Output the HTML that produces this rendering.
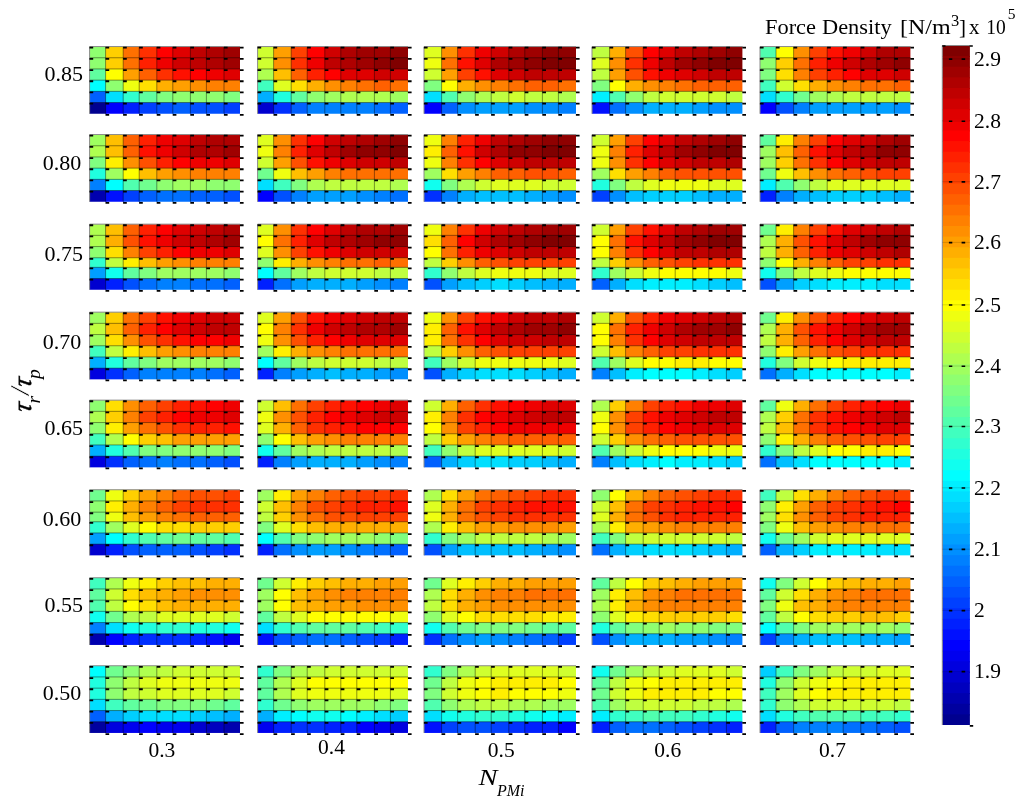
<!DOCTYPE html>
<html lang="en"><head><meta charset="utf-8"><title>Force Density</title>
<style>html,body{margin:0;padding:0;background:#fff}svg{display:block}text{font-family:"Liberation Serif",serif;fill:#000}.g{stroke:#000;stroke-opacity:.42;stroke-width:1;fill:none}.b{stroke:#8a8a8a;stroke-width:1;fill:none}.t{fill:#000}</style></head><body>
<svg width="1024" height="805" viewBox="0 0 1024 805">
<rect width="1024" height="805" fill="#fff"/>
<g>
<rect x="89.6" y="46.55" width="17" height="12.2" fill="#8fff70"/>
<rect x="105.6" y="46.55" width="18.6" height="12.2" fill="#ffcf00"/>
<rect x="123.2" y="46.55" width="17" height="12.2" fill="#ff7000"/>
<rect x="139.2" y="46.55" width="18.6" height="12.2" fill="#ff3000"/>
<rect x="156.8" y="46.55" width="17" height="12.2" fill="#ff0000"/>
<rect x="172.8" y="46.55" width="18.6" height="12.2" fill="#df0000"/>
<rect x="190.4" y="46.55" width="17" height="12.2" fill="#bf0000"/>
<rect x="206.4" y="46.55" width="18.6" height="12.2" fill="#af0000"/>
<rect x="224" y="46.55" width="16" height="12.2" fill="#9f0000"/>
<rect x="89.6" y="57.75" width="17" height="12.2" fill="#8fff70"/>
<rect x="105.6" y="57.75" width="18.6" height="12.2" fill="#ffcf00"/>
<rect x="123.2" y="57.75" width="17" height="12.2" fill="#ff7000"/>
<rect x="139.2" y="57.75" width="18.6" height="12.2" fill="#ff2000"/>
<rect x="156.8" y="57.75" width="17" height="12.2" fill="#ef0000"/>
<rect x="172.8" y="57.75" width="18.6" height="12.2" fill="#cf0000"/>
<rect x="190.4" y="57.75" width="17" height="12.2" fill="#bf0000"/>
<rect x="206.4" y="57.75" width="18.6" height="12.2" fill="#af0000"/>
<rect x="224" y="57.75" width="16" height="12.2" fill="#9f0000"/>
<rect x="89.6" y="68.95" width="17" height="12.2" fill="#60ff9f"/>
<rect x="105.6" y="68.95" width="18.6" height="12.2" fill="#ffff00"/>
<rect x="123.2" y="68.95" width="17" height="12.2" fill="#ff9f00"/>
<rect x="139.2" y="68.95" width="18.6" height="12.2" fill="#ff6000"/>
<rect x="156.8" y="68.95" width="17" height="12.2" fill="#ff3000"/>
<rect x="172.8" y="68.95" width="18.6" height="12.2" fill="#ff1000"/>
<rect x="190.4" y="68.95" width="17" height="12.2" fill="#ff0000"/>
<rect x="206.4" y="68.95" width="18.6" height="12.2" fill="#ef0000"/>
<rect x="224" y="68.95" width="16" height="12.2" fill="#df0000"/>
<rect x="89.6" y="80.15" width="17" height="12.2" fill="#00ffff"/>
<rect x="105.6" y="80.15" width="18.6" height="12.2" fill="#8fff70"/>
<rect x="123.2" y="80.15" width="17" height="12.2" fill="#efff10"/>
<rect x="139.2" y="80.15" width="18.6" height="12.2" fill="#ffdf00"/>
<rect x="156.8" y="80.15" width="17" height="12.2" fill="#ffaf00"/>
<rect x="172.8" y="80.15" width="18.6" height="12.2" fill="#ff9f00"/>
<rect x="190.4" y="80.15" width="17" height="12.2" fill="#ff8f00"/>
<rect x="206.4" y="80.15" width="18.6" height="12.2" fill="#ff8000"/>
<rect x="224" y="80.15" width="16" height="12.2" fill="#ff8000"/>
<rect x="89.6" y="91.35" width="17" height="12.2" fill="#0060ff"/>
<rect x="105.6" y="91.35" width="18.6" height="12.2" fill="#00dfff"/>
<rect x="123.2" y="91.35" width="17" height="12.2" fill="#30ffcf"/>
<rect x="139.2" y="91.35" width="18.6" height="12.2" fill="#60ff9f"/>
<rect x="156.8" y="91.35" width="17" height="12.2" fill="#80ff80"/>
<rect x="172.8" y="91.35" width="18.6" height="12.2" fill="#8fff70"/>
<rect x="190.4" y="91.35" width="17" height="12.2" fill="#8fff70"/>
<rect x="206.4" y="91.35" width="18.6" height="12.2" fill="#8fff70"/>
<rect x="224" y="91.35" width="16" height="12.2" fill="#80ff80"/>
<rect x="89.6" y="102.55" width="17" height="11.2" fill="#00008f"/>
<rect x="105.6" y="102.55" width="18.6" height="11.2" fill="#0000ff"/>
<rect x="123.2" y="102.55" width="17" height="11.2" fill="#0020ff"/>
<rect x="139.2" y="102.55" width="18.6" height="11.2" fill="#0040ff"/>
<rect x="156.8" y="102.55" width="17" height="11.2" fill="#0050ff"/>
<rect x="172.8" y="102.55" width="18.6" height="11.2" fill="#0060ff"/>
<rect x="190.4" y="102.55" width="17" height="11.2" fill="#0050ff"/>
<rect x="206.4" y="102.55" width="18.6" height="11.2" fill="#0050ff"/>
<rect x="224" y="102.55" width="16" height="11.2" fill="#0040ff"/>
<path class="g" d="M105.6 46.55V113.75M123.2 46.55V113.75M139.2 46.55V113.75M156.8 46.55V113.75M172.8 46.55V113.75M190.4 46.55V113.75M206.4 46.55V113.75M224 46.55V113.75M89.6 57.75H240M89.6 68.95H240M89.6 80.15H240M89.6 91.35H240M89.6 102.55H240"/>
<path class="b" d="M89.6 113.75V46.55H240"/>
<path class="t" d="M89.5 46.75h3.7v1.8h-3.7zM105.5 46.75h3.7v1.8h-3.7zM123.1 46.75h3.7v1.8h-3.7zM139.1 46.75h3.7v1.8h-3.7zM156.7 46.75h3.7v1.8h-3.7zM172.7 46.75h3.7v1.8h-3.7zM190.3 46.75h3.7v1.8h-3.7zM206.3 46.75h3.7v1.8h-3.7zM223.9 46.75h3.7v1.8h-3.7zM239.9 46.75h3.7v1.8h-3.7zM89.5 57.95h3.7v1.8h-3.7zM105.5 57.95h3.7v1.8h-3.7zM123.1 57.95h3.7v1.8h-3.7zM139.1 57.95h3.7v1.8h-3.7zM156.7 57.95h3.7v1.8h-3.7zM172.7 57.95h3.7v1.8h-3.7zM190.3 57.95h3.7v1.8h-3.7zM206.3 57.95h3.7v1.8h-3.7zM223.9 57.95h3.7v1.8h-3.7zM239.9 57.95h3.7v1.8h-3.7zM89.5 69.15h3.7v1.8h-3.7zM105.5 69.15h3.7v1.8h-3.7zM123.1 69.15h3.7v1.8h-3.7zM139.1 69.15h3.7v1.8h-3.7zM156.7 69.15h3.7v1.8h-3.7zM172.7 69.15h3.7v1.8h-3.7zM190.3 69.15h3.7v1.8h-3.7zM206.3 69.15h3.7v1.8h-3.7zM223.9 69.15h3.7v1.8h-3.7zM239.9 69.15h3.7v1.8h-3.7zM89.5 80.35h3.7v1.8h-3.7zM105.5 80.35h3.7v1.8h-3.7zM123.1 80.35h3.7v1.8h-3.7zM139.1 80.35h3.7v1.8h-3.7zM156.7 80.35h3.7v1.8h-3.7zM172.7 80.35h3.7v1.8h-3.7zM190.3 80.35h3.7v1.8h-3.7zM206.3 80.35h3.7v1.8h-3.7zM223.9 80.35h3.7v1.8h-3.7zM239.9 80.35h3.7v1.8h-3.7zM89.5 91.55h3.7v1.8h-3.7zM105.5 91.55h3.7v1.8h-3.7zM123.1 91.55h3.7v1.8h-3.7zM139.1 91.55h3.7v1.8h-3.7zM156.7 91.55h3.7v1.8h-3.7zM172.7 91.55h3.7v1.8h-3.7zM190.3 91.55h3.7v1.8h-3.7zM206.3 91.55h3.7v1.8h-3.7zM223.9 91.55h3.7v1.8h-3.7zM239.9 91.55h3.7v1.8h-3.7zM89.5 102.75h3.7v1.8h-3.7zM105.5 102.75h3.7v1.8h-3.7zM123.1 102.75h3.7v1.8h-3.7zM139.1 102.75h3.7v1.8h-3.7zM156.7 102.75h3.7v1.8h-3.7zM172.7 102.75h3.7v1.8h-3.7zM190.3 102.75h3.7v1.8h-3.7zM206.3 102.75h3.7v1.8h-3.7zM223.9 102.75h3.7v1.8h-3.7zM239.9 102.75h3.7v1.8h-3.7zM105.5 113.95h3.7v1.8h-3.7zM123.1 113.95h3.7v1.8h-3.7zM139.1 113.95h3.7v1.8h-3.7zM156.7 113.95h3.7v1.8h-3.7zM172.7 113.95h3.7v1.8h-3.7zM190.3 113.95h3.7v1.8h-3.7zM206.3 113.95h3.7v1.8h-3.7zM223.9 113.95h3.7v1.8h-3.7zM239.9 113.95h3.7v1.8h-3.7z"/>
</g>
<g>
<rect x="257.6" y="46.55" width="17" height="12.2" fill="#cfff30"/>
<rect x="273.6" y="46.55" width="18.6" height="12.2" fill="#ff9f00"/>
<rect x="291.2" y="46.55" width="17" height="12.2" fill="#ff4000"/>
<rect x="307.2" y="46.55" width="18.6" height="12.2" fill="#ff0000"/>
<rect x="324.8" y="46.55" width="17" height="12.2" fill="#cf0000"/>
<rect x="340.8" y="46.55" width="17" height="12.2" fill="#af0000"/>
<rect x="356.8" y="46.55" width="18.6" height="12.2" fill="#9f0000"/>
<rect x="374.4" y="46.55" width="17" height="12.2" fill="#9f0000"/>
<rect x="390.4" y="46.55" width="17.6" height="12.2" fill="#8f0000"/>
<rect x="257.6" y="57.75" width="17" height="12.2" fill="#cfff30"/>
<rect x="273.6" y="57.75" width="18.6" height="12.2" fill="#ff8f00"/>
<rect x="291.2" y="57.75" width="17" height="12.2" fill="#ff3000"/>
<rect x="307.2" y="57.75" width="18.6" height="12.2" fill="#ef0000"/>
<rect x="324.8" y="57.75" width="17" height="12.2" fill="#bf0000"/>
<rect x="340.8" y="57.75" width="17" height="12.2" fill="#af0000"/>
<rect x="356.8" y="57.75" width="18.6" height="12.2" fill="#9f0000"/>
<rect x="374.4" y="57.75" width="17" height="12.2" fill="#8f0000"/>
<rect x="390.4" y="57.75" width="17.6" height="12.2" fill="#800000"/>
<rect x="257.6" y="68.95" width="17" height="12.2" fill="#afff50"/>
<rect x="273.6" y="68.95" width="18.6" height="12.2" fill="#ffbf00"/>
<rect x="291.2" y="68.95" width="17" height="12.2" fill="#ff6000"/>
<rect x="307.2" y="68.95" width="18.6" height="12.2" fill="#ff2000"/>
<rect x="324.8" y="68.95" width="17" height="12.2" fill="#ff0000"/>
<rect x="340.8" y="68.95" width="17" height="12.2" fill="#df0000"/>
<rect x="356.8" y="68.95" width="18.6" height="12.2" fill="#df0000"/>
<rect x="374.4" y="68.95" width="17" height="12.2" fill="#cf0000"/>
<rect x="390.4" y="68.95" width="17.6" height="12.2" fill="#cf0000"/>
<rect x="257.6" y="80.15" width="17" height="12.2" fill="#40ffbf"/>
<rect x="273.6" y="80.15" width="18.6" height="12.2" fill="#dfff20"/>
<rect x="291.2" y="80.15" width="17" height="12.2" fill="#ffdf00"/>
<rect x="307.2" y="80.15" width="18.6" height="12.2" fill="#ffaf00"/>
<rect x="324.8" y="80.15" width="17" height="12.2" fill="#ff8f00"/>
<rect x="340.8" y="80.15" width="17" height="12.2" fill="#ff8000"/>
<rect x="356.8" y="80.15" width="18.6" height="12.2" fill="#ff7000"/>
<rect x="374.4" y="80.15" width="17" height="12.2" fill="#ff6000"/>
<rect x="390.4" y="80.15" width="17.6" height="12.2" fill="#ff7000"/>
<rect x="257.6" y="91.35" width="17" height="12.2" fill="#00afff"/>
<rect x="273.6" y="91.35" width="18.6" height="12.2" fill="#20ffdf"/>
<rect x="291.2" y="91.35" width="17" height="12.2" fill="#60ff9f"/>
<rect x="307.2" y="91.35" width="18.6" height="12.2" fill="#8fff70"/>
<rect x="324.8" y="91.35" width="17" height="12.2" fill="#9fff60"/>
<rect x="340.8" y="91.35" width="17" height="12.2" fill="#afff50"/>
<rect x="356.8" y="91.35" width="18.6" height="12.2" fill="#afff50"/>
<rect x="374.4" y="91.35" width="17" height="12.2" fill="#afff50"/>
<rect x="390.4" y="91.35" width="17.6" height="12.2" fill="#9fff60"/>
<rect x="257.6" y="102.55" width="17" height="11.2" fill="#0000cf"/>
<rect x="273.6" y="102.55" width="18.6" height="11.2" fill="#0030ff"/>
<rect x="291.2" y="102.55" width="17" height="11.2" fill="#0060ff"/>
<rect x="307.2" y="102.55" width="18.6" height="11.2" fill="#0080ff"/>
<rect x="324.8" y="102.55" width="17" height="11.2" fill="#0080ff"/>
<rect x="340.8" y="102.55" width="17" height="11.2" fill="#0080ff"/>
<rect x="356.8" y="102.55" width="18.6" height="11.2" fill="#0080ff"/>
<rect x="374.4" y="102.55" width="17" height="11.2" fill="#0070ff"/>
<rect x="390.4" y="102.55" width="17.6" height="11.2" fill="#0060ff"/>
<path class="g" d="M273.6 46.55V113.75M291.2 46.55V113.75M307.2 46.55V113.75M324.8 46.55V113.75M340.8 46.55V113.75M356.8 46.55V113.75M374.4 46.55V113.75M390.4 46.55V113.75M257.6 57.75H408M257.6 68.95H408M257.6 80.15H408M257.6 91.35H408M257.6 102.55H408"/>
<path class="b" d="M257.6 113.75V46.55H408"/>
<path class="t" d="M257.5 46.75h3.7v1.8h-3.7zM273.5 46.75h3.7v1.8h-3.7zM291.1 46.75h3.7v1.8h-3.7zM307.1 46.75h3.7v1.8h-3.7zM324.7 46.75h3.7v1.8h-3.7zM340.7 46.75h3.7v1.8h-3.7zM356.7 46.75h3.7v1.8h-3.7zM374.3 46.75h3.7v1.8h-3.7zM390.3 46.75h3.7v1.8h-3.7zM407.9 46.75h3.7v1.8h-3.7zM257.5 57.95h3.7v1.8h-3.7zM273.5 57.95h3.7v1.8h-3.7zM291.1 57.95h3.7v1.8h-3.7zM307.1 57.95h3.7v1.8h-3.7zM324.7 57.95h3.7v1.8h-3.7zM340.7 57.95h3.7v1.8h-3.7zM356.7 57.95h3.7v1.8h-3.7zM374.3 57.95h3.7v1.8h-3.7zM390.3 57.95h3.7v1.8h-3.7zM407.9 57.95h3.7v1.8h-3.7zM257.5 69.15h3.7v1.8h-3.7zM273.5 69.15h3.7v1.8h-3.7zM291.1 69.15h3.7v1.8h-3.7zM307.1 69.15h3.7v1.8h-3.7zM324.7 69.15h3.7v1.8h-3.7zM340.7 69.15h3.7v1.8h-3.7zM356.7 69.15h3.7v1.8h-3.7zM374.3 69.15h3.7v1.8h-3.7zM390.3 69.15h3.7v1.8h-3.7zM407.9 69.15h3.7v1.8h-3.7zM257.5 80.35h3.7v1.8h-3.7zM273.5 80.35h3.7v1.8h-3.7zM291.1 80.35h3.7v1.8h-3.7zM307.1 80.35h3.7v1.8h-3.7zM324.7 80.35h3.7v1.8h-3.7zM340.7 80.35h3.7v1.8h-3.7zM356.7 80.35h3.7v1.8h-3.7zM374.3 80.35h3.7v1.8h-3.7zM390.3 80.35h3.7v1.8h-3.7zM407.9 80.35h3.7v1.8h-3.7zM257.5 91.55h3.7v1.8h-3.7zM273.5 91.55h3.7v1.8h-3.7zM291.1 91.55h3.7v1.8h-3.7zM307.1 91.55h3.7v1.8h-3.7zM324.7 91.55h3.7v1.8h-3.7zM340.7 91.55h3.7v1.8h-3.7zM356.7 91.55h3.7v1.8h-3.7zM374.3 91.55h3.7v1.8h-3.7zM390.3 91.55h3.7v1.8h-3.7zM407.9 91.55h3.7v1.8h-3.7zM257.5 102.75h3.7v1.8h-3.7zM273.5 102.75h3.7v1.8h-3.7zM291.1 102.75h3.7v1.8h-3.7zM307.1 102.75h3.7v1.8h-3.7zM324.7 102.75h3.7v1.8h-3.7zM340.7 102.75h3.7v1.8h-3.7zM356.7 102.75h3.7v1.8h-3.7zM374.3 102.75h3.7v1.8h-3.7zM390.3 102.75h3.7v1.8h-3.7zM407.9 102.75h3.7v1.8h-3.7zM273.5 113.95h3.7v1.8h-3.7zM291.1 113.95h3.7v1.8h-3.7zM307.1 113.95h3.7v1.8h-3.7zM324.7 113.95h3.7v1.8h-3.7zM340.7 113.95h3.7v1.8h-3.7zM356.7 113.95h3.7v1.8h-3.7zM374.3 113.95h3.7v1.8h-3.7zM390.3 113.95h3.7v1.8h-3.7zM407.9 113.95h3.7v1.8h-3.7z"/>
</g>
<g>
<rect x="424" y="46.55" width="18.6" height="12.2" fill="#dfff20"/>
<rect x="441.6" y="46.55" width="17" height="12.2" fill="#ff8f00"/>
<rect x="457.6" y="46.55" width="18.6" height="12.2" fill="#ff3000"/>
<rect x="475.2" y="46.55" width="17" height="12.2" fill="#ef0000"/>
<rect x="491.2" y="46.55" width="18.6" height="12.2" fill="#cf0000"/>
<rect x="508.8" y="46.55" width="17" height="12.2" fill="#af0000"/>
<rect x="524.8" y="46.55" width="18.6" height="12.2" fill="#9f0000"/>
<rect x="542.4" y="46.55" width="17" height="12.2" fill="#8f0000"/>
<rect x="558.4" y="46.55" width="17.6" height="12.2" fill="#8f0000"/>
<rect x="424" y="57.75" width="18.6" height="12.2" fill="#efff10"/>
<rect x="441.6" y="57.75" width="17" height="12.2" fill="#ff7000"/>
<rect x="457.6" y="57.75" width="18.6" height="12.2" fill="#ff1000"/>
<rect x="475.2" y="57.75" width="17" height="12.2" fill="#df0000"/>
<rect x="491.2" y="57.75" width="18.6" height="12.2" fill="#af0000"/>
<rect x="508.8" y="57.75" width="17" height="12.2" fill="#9f0000"/>
<rect x="524.8" y="57.75" width="18.6" height="12.2" fill="#8f0000"/>
<rect x="542.4" y="57.75" width="17" height="12.2" fill="#800000"/>
<rect x="558.4" y="57.75" width="17.6" height="12.2" fill="#800000"/>
<rect x="424" y="68.95" width="18.6" height="12.2" fill="#cfff30"/>
<rect x="441.6" y="68.95" width="17" height="12.2" fill="#ff9f00"/>
<rect x="457.6" y="68.95" width="18.6" height="12.2" fill="#ff4000"/>
<rect x="475.2" y="68.95" width="17" height="12.2" fill="#ff1000"/>
<rect x="491.2" y="68.95" width="18.6" height="12.2" fill="#df0000"/>
<rect x="508.8" y="68.95" width="17" height="12.2" fill="#cf0000"/>
<rect x="524.8" y="68.95" width="18.6" height="12.2" fill="#bf0000"/>
<rect x="542.4" y="68.95" width="17" height="12.2" fill="#bf0000"/>
<rect x="558.4" y="68.95" width="17.6" height="12.2" fill="#bf0000"/>
<rect x="424" y="80.15" width="18.6" height="12.2" fill="#80ff80"/>
<rect x="441.6" y="80.15" width="17" height="12.2" fill="#ffff00"/>
<rect x="457.6" y="80.15" width="18.6" height="12.2" fill="#ffaf00"/>
<rect x="475.2" y="80.15" width="17" height="12.2" fill="#ff8f00"/>
<rect x="491.2" y="80.15" width="18.6" height="12.2" fill="#ff8000"/>
<rect x="508.8" y="80.15" width="17" height="12.2" fill="#ff7000"/>
<rect x="524.8" y="80.15" width="18.6" height="12.2" fill="#ff6000"/>
<rect x="542.4" y="80.15" width="17" height="12.2" fill="#ff6000"/>
<rect x="558.4" y="80.15" width="17.6" height="12.2" fill="#ff7000"/>
<rect x="424" y="91.35" width="18.6" height="12.2" fill="#00dfff"/>
<rect x="441.6" y="91.35" width="17" height="12.2" fill="#50ffaf"/>
<rect x="457.6" y="91.35" width="18.6" height="12.2" fill="#8fff70"/>
<rect x="475.2" y="91.35" width="17" height="12.2" fill="#afff50"/>
<rect x="491.2" y="91.35" width="18.6" height="12.2" fill="#bfff40"/>
<rect x="508.8" y="91.35" width="17" height="12.2" fill="#cfff30"/>
<rect x="524.8" y="91.35" width="18.6" height="12.2" fill="#bfff40"/>
<rect x="542.4" y="91.35" width="17" height="12.2" fill="#bfff40"/>
<rect x="558.4" y="91.35" width="17.6" height="12.2" fill="#afff50"/>
<rect x="424" y="102.55" width="18.6" height="11.2" fill="#0000ff"/>
<rect x="441.6" y="102.55" width="17" height="11.2" fill="#0060ff"/>
<rect x="457.6" y="102.55" width="18.6" height="11.2" fill="#008fff"/>
<rect x="475.2" y="102.55" width="17" height="11.2" fill="#009fff"/>
<rect x="491.2" y="102.55" width="18.6" height="11.2" fill="#009fff"/>
<rect x="508.8" y="102.55" width="17" height="11.2" fill="#009fff"/>
<rect x="524.8" y="102.55" width="18.6" height="11.2" fill="#008fff"/>
<rect x="542.4" y="102.55" width="17" height="11.2" fill="#008fff"/>
<rect x="558.4" y="102.55" width="17.6" height="11.2" fill="#0080ff"/>
<path class="g" d="M441.6 46.55V113.75M457.6 46.55V113.75M475.2 46.55V113.75M491.2 46.55V113.75M508.8 46.55V113.75M524.8 46.55V113.75M542.4 46.55V113.75M558.4 46.55V113.75M424 57.75H576M424 68.95H576M424 80.15H576M424 91.35H576M424 102.55H576"/>
<path class="b" d="M424 113.75V46.55H576"/>
<path class="t" d="M423.9 46.75h3.7v1.8h-3.7zM441.5 46.75h3.7v1.8h-3.7zM457.5 46.75h3.7v1.8h-3.7zM475.1 46.75h3.7v1.8h-3.7zM491.1 46.75h3.7v1.8h-3.7zM508.7 46.75h3.7v1.8h-3.7zM524.7 46.75h3.7v1.8h-3.7zM542.3 46.75h3.7v1.8h-3.7zM558.3 46.75h3.7v1.8h-3.7zM575.9 46.75h3.7v1.8h-3.7zM423.9 57.95h3.7v1.8h-3.7zM441.5 57.95h3.7v1.8h-3.7zM457.5 57.95h3.7v1.8h-3.7zM475.1 57.95h3.7v1.8h-3.7zM491.1 57.95h3.7v1.8h-3.7zM508.7 57.95h3.7v1.8h-3.7zM524.7 57.95h3.7v1.8h-3.7zM542.3 57.95h3.7v1.8h-3.7zM558.3 57.95h3.7v1.8h-3.7zM575.9 57.95h3.7v1.8h-3.7zM423.9 69.15h3.7v1.8h-3.7zM441.5 69.15h3.7v1.8h-3.7zM457.5 69.15h3.7v1.8h-3.7zM475.1 69.15h3.7v1.8h-3.7zM491.1 69.15h3.7v1.8h-3.7zM508.7 69.15h3.7v1.8h-3.7zM524.7 69.15h3.7v1.8h-3.7zM542.3 69.15h3.7v1.8h-3.7zM558.3 69.15h3.7v1.8h-3.7zM575.9 69.15h3.7v1.8h-3.7zM423.9 80.35h3.7v1.8h-3.7zM441.5 80.35h3.7v1.8h-3.7zM457.5 80.35h3.7v1.8h-3.7zM475.1 80.35h3.7v1.8h-3.7zM491.1 80.35h3.7v1.8h-3.7zM508.7 80.35h3.7v1.8h-3.7zM524.7 80.35h3.7v1.8h-3.7zM542.3 80.35h3.7v1.8h-3.7zM558.3 80.35h3.7v1.8h-3.7zM575.9 80.35h3.7v1.8h-3.7zM423.9 91.55h3.7v1.8h-3.7zM441.5 91.55h3.7v1.8h-3.7zM457.5 91.55h3.7v1.8h-3.7zM475.1 91.55h3.7v1.8h-3.7zM491.1 91.55h3.7v1.8h-3.7zM508.7 91.55h3.7v1.8h-3.7zM524.7 91.55h3.7v1.8h-3.7zM542.3 91.55h3.7v1.8h-3.7zM558.3 91.55h3.7v1.8h-3.7zM575.9 91.55h3.7v1.8h-3.7zM423.9 102.75h3.7v1.8h-3.7zM441.5 102.75h3.7v1.8h-3.7zM457.5 102.75h3.7v1.8h-3.7zM475.1 102.75h3.7v1.8h-3.7zM491.1 102.75h3.7v1.8h-3.7zM508.7 102.75h3.7v1.8h-3.7zM524.7 102.75h3.7v1.8h-3.7zM542.3 102.75h3.7v1.8h-3.7zM558.3 102.75h3.7v1.8h-3.7zM575.9 102.75h3.7v1.8h-3.7zM441.5 113.95h3.7v1.8h-3.7zM457.5 113.95h3.7v1.8h-3.7zM475.1 113.95h3.7v1.8h-3.7zM491.1 113.95h3.7v1.8h-3.7zM508.7 113.95h3.7v1.8h-3.7zM524.7 113.95h3.7v1.8h-3.7zM542.3 113.95h3.7v1.8h-3.7zM558.3 113.95h3.7v1.8h-3.7zM575.9 113.95h3.7v1.8h-3.7z"/>
</g>
<g>
<rect x="592" y="46.55" width="18.6" height="12.2" fill="#bfff40"/>
<rect x="609.6" y="46.55" width="17" height="12.2" fill="#ffaf00"/>
<rect x="625.6" y="46.55" width="18.6" height="12.2" fill="#ff5000"/>
<rect x="643.2" y="46.55" width="17" height="12.2" fill="#ff0000"/>
<rect x="659.2" y="46.55" width="17" height="12.2" fill="#df0000"/>
<rect x="675.2" y="46.55" width="18.6" height="12.2" fill="#bf0000"/>
<rect x="692.8" y="46.55" width="17" height="12.2" fill="#af0000"/>
<rect x="708.8" y="46.55" width="18.6" height="12.2" fill="#9f0000"/>
<rect x="726.4" y="46.55" width="16" height="12.2" fill="#8f0000"/>
<rect x="592" y="57.75" width="18.6" height="12.2" fill="#dfff20"/>
<rect x="609.6" y="57.75" width="17" height="12.2" fill="#ff8f00"/>
<rect x="625.6" y="57.75" width="18.6" height="12.2" fill="#ff3000"/>
<rect x="643.2" y="57.75" width="17" height="12.2" fill="#ef0000"/>
<rect x="659.2" y="57.75" width="17" height="12.2" fill="#bf0000"/>
<rect x="675.2" y="57.75" width="18.6" height="12.2" fill="#9f0000"/>
<rect x="692.8" y="57.75" width="17" height="12.2" fill="#8f0000"/>
<rect x="708.8" y="57.75" width="18.6" height="12.2" fill="#800000"/>
<rect x="726.4" y="57.75" width="16" height="12.2" fill="#800000"/>
<rect x="592" y="68.95" width="18.6" height="12.2" fill="#bfff40"/>
<rect x="609.6" y="68.95" width="17" height="12.2" fill="#ff9f00"/>
<rect x="625.6" y="68.95" width="18.6" height="12.2" fill="#ff5000"/>
<rect x="643.2" y="68.95" width="17" height="12.2" fill="#ff1000"/>
<rect x="659.2" y="68.95" width="17" height="12.2" fill="#ef0000"/>
<rect x="675.2" y="68.95" width="18.6" height="12.2" fill="#df0000"/>
<rect x="692.8" y="68.95" width="17" height="12.2" fill="#cf0000"/>
<rect x="708.8" y="68.95" width="18.6" height="12.2" fill="#bf0000"/>
<rect x="726.4" y="68.95" width="16" height="12.2" fill="#bf0000"/>
<rect x="592" y="80.15" width="18.6" height="12.2" fill="#80ff80"/>
<rect x="609.6" y="80.15" width="17" height="12.2" fill="#ffff00"/>
<rect x="625.6" y="80.15" width="18.6" height="12.2" fill="#ffaf00"/>
<rect x="643.2" y="80.15" width="17" height="12.2" fill="#ff8f00"/>
<rect x="659.2" y="80.15" width="17" height="12.2" fill="#ff8000"/>
<rect x="675.2" y="80.15" width="18.6" height="12.2" fill="#ff7000"/>
<rect x="692.8" y="80.15" width="17" height="12.2" fill="#ff6000"/>
<rect x="708.8" y="80.15" width="18.6" height="12.2" fill="#ff6000"/>
<rect x="726.4" y="80.15" width="16" height="12.2" fill="#ff6000"/>
<rect x="592" y="91.35" width="18.6" height="12.2" fill="#00efff"/>
<rect x="609.6" y="91.35" width="17" height="12.2" fill="#50ffaf"/>
<rect x="625.6" y="91.35" width="18.6" height="12.2" fill="#8fff70"/>
<rect x="643.2" y="91.35" width="17" height="12.2" fill="#bfff40"/>
<rect x="659.2" y="91.35" width="17" height="12.2" fill="#cfff30"/>
<rect x="675.2" y="91.35" width="18.6" height="12.2" fill="#cfff30"/>
<rect x="692.8" y="91.35" width="17" height="12.2" fill="#cfff30"/>
<rect x="708.8" y="91.35" width="18.6" height="12.2" fill="#cfff30"/>
<rect x="726.4" y="91.35" width="16" height="12.2" fill="#bfff40"/>
<rect x="592" y="102.55" width="18.6" height="11.2" fill="#0010ff"/>
<rect x="609.6" y="102.55" width="17" height="11.2" fill="#0070ff"/>
<rect x="625.6" y="102.55" width="18.6" height="11.2" fill="#008fff"/>
<rect x="643.2" y="102.55" width="17" height="11.2" fill="#00afff"/>
<rect x="659.2" y="102.55" width="17" height="11.2" fill="#00afff"/>
<rect x="675.2" y="102.55" width="18.6" height="11.2" fill="#00afff"/>
<rect x="692.8" y="102.55" width="17" height="11.2" fill="#009fff"/>
<rect x="708.8" y="102.55" width="18.6" height="11.2" fill="#008fff"/>
<rect x="726.4" y="102.55" width="16" height="11.2" fill="#008fff"/>
<path class="g" d="M609.6 46.55V113.75M625.6 46.55V113.75M643.2 46.55V113.75M659.2 46.55V113.75M675.2 46.55V113.75M692.8 46.55V113.75M708.8 46.55V113.75M726.4 46.55V113.75M592 57.75H742.4M592 68.95H742.4M592 80.15H742.4M592 91.35H742.4M592 102.55H742.4"/>
<path class="b" d="M592 113.75V46.55H742.4"/>
<path class="t" d="M591.9 46.75h3.7v1.8h-3.7zM609.5 46.75h3.7v1.8h-3.7zM625.5 46.75h3.7v1.8h-3.7zM643.1 46.75h3.7v1.8h-3.7zM659.1 46.75h3.7v1.8h-3.7zM675.1 46.75h3.7v1.8h-3.7zM692.7 46.75h3.7v1.8h-3.7zM708.7 46.75h3.7v1.8h-3.7zM726.3 46.75h3.7v1.8h-3.7zM742.3 46.75h3.7v1.8h-3.7zM591.9 57.95h3.7v1.8h-3.7zM609.5 57.95h3.7v1.8h-3.7zM625.5 57.95h3.7v1.8h-3.7zM643.1 57.95h3.7v1.8h-3.7zM659.1 57.95h3.7v1.8h-3.7zM675.1 57.95h3.7v1.8h-3.7zM692.7 57.95h3.7v1.8h-3.7zM708.7 57.95h3.7v1.8h-3.7zM726.3 57.95h3.7v1.8h-3.7zM742.3 57.95h3.7v1.8h-3.7zM591.9 69.15h3.7v1.8h-3.7zM609.5 69.15h3.7v1.8h-3.7zM625.5 69.15h3.7v1.8h-3.7zM643.1 69.15h3.7v1.8h-3.7zM659.1 69.15h3.7v1.8h-3.7zM675.1 69.15h3.7v1.8h-3.7zM692.7 69.15h3.7v1.8h-3.7zM708.7 69.15h3.7v1.8h-3.7zM726.3 69.15h3.7v1.8h-3.7zM742.3 69.15h3.7v1.8h-3.7zM591.9 80.35h3.7v1.8h-3.7zM609.5 80.35h3.7v1.8h-3.7zM625.5 80.35h3.7v1.8h-3.7zM643.1 80.35h3.7v1.8h-3.7zM659.1 80.35h3.7v1.8h-3.7zM675.1 80.35h3.7v1.8h-3.7zM692.7 80.35h3.7v1.8h-3.7zM708.7 80.35h3.7v1.8h-3.7zM726.3 80.35h3.7v1.8h-3.7zM742.3 80.35h3.7v1.8h-3.7zM591.9 91.55h3.7v1.8h-3.7zM609.5 91.55h3.7v1.8h-3.7zM625.5 91.55h3.7v1.8h-3.7zM643.1 91.55h3.7v1.8h-3.7zM659.1 91.55h3.7v1.8h-3.7zM675.1 91.55h3.7v1.8h-3.7zM692.7 91.55h3.7v1.8h-3.7zM708.7 91.55h3.7v1.8h-3.7zM726.3 91.55h3.7v1.8h-3.7zM742.3 91.55h3.7v1.8h-3.7zM591.9 102.75h3.7v1.8h-3.7zM609.5 102.75h3.7v1.8h-3.7zM625.5 102.75h3.7v1.8h-3.7zM643.1 102.75h3.7v1.8h-3.7zM659.1 102.75h3.7v1.8h-3.7zM675.1 102.75h3.7v1.8h-3.7zM692.7 102.75h3.7v1.8h-3.7zM708.7 102.75h3.7v1.8h-3.7zM726.3 102.75h3.7v1.8h-3.7zM742.3 102.75h3.7v1.8h-3.7zM609.5 113.95h3.7v1.8h-3.7zM625.5 113.95h3.7v1.8h-3.7zM643.1 113.95h3.7v1.8h-3.7zM659.1 113.95h3.7v1.8h-3.7zM675.1 113.95h3.7v1.8h-3.7zM692.7 113.95h3.7v1.8h-3.7zM708.7 113.95h3.7v1.8h-3.7zM726.3 113.95h3.7v1.8h-3.7zM742.3 113.95h3.7v1.8h-3.7z"/>
</g>
<g>
<rect x="760" y="46.55" width="17" height="12.2" fill="#50ffaf"/>
<rect x="776" y="46.55" width="18.6" height="12.2" fill="#ffff00"/>
<rect x="793.6" y="46.55" width="17" height="12.2" fill="#ff8f00"/>
<rect x="809.6" y="46.55" width="18.6" height="12.2" fill="#ff4000"/>
<rect x="827.2" y="46.55" width="17" height="12.2" fill="#ff1000"/>
<rect x="843.2" y="46.55" width="18.6" height="12.2" fill="#ef0000"/>
<rect x="860.8" y="46.55" width="17" height="12.2" fill="#cf0000"/>
<rect x="876.8" y="46.55" width="18.6" height="12.2" fill="#af0000"/>
<rect x="894.4" y="46.55" width="16" height="12.2" fill="#af0000"/>
<rect x="760" y="57.75" width="17" height="12.2" fill="#8fff70"/>
<rect x="776" y="57.75" width="18.6" height="12.2" fill="#ffcf00"/>
<rect x="793.6" y="57.75" width="17" height="12.2" fill="#ff7000"/>
<rect x="809.6" y="57.75" width="18.6" height="12.2" fill="#ff2000"/>
<rect x="827.2" y="57.75" width="17" height="12.2" fill="#ef0000"/>
<rect x="843.2" y="57.75" width="18.6" height="12.2" fill="#cf0000"/>
<rect x="860.8" y="57.75" width="17" height="12.2" fill="#af0000"/>
<rect x="876.8" y="57.75" width="18.6" height="12.2" fill="#9f0000"/>
<rect x="894.4" y="57.75" width="16" height="12.2" fill="#8f0000"/>
<rect x="760" y="68.95" width="17" height="12.2" fill="#80ff80"/>
<rect x="776" y="68.95" width="18.6" height="12.2" fill="#ffdf00"/>
<rect x="793.6" y="68.95" width="17" height="12.2" fill="#ff8000"/>
<rect x="809.6" y="68.95" width="18.6" height="12.2" fill="#ff4000"/>
<rect x="827.2" y="68.95" width="17" height="12.2" fill="#ff2000"/>
<rect x="843.2" y="68.95" width="18.6" height="12.2" fill="#ff0000"/>
<rect x="860.8" y="68.95" width="17" height="12.2" fill="#df0000"/>
<rect x="876.8" y="68.95" width="18.6" height="12.2" fill="#df0000"/>
<rect x="894.4" y="68.95" width="16" height="12.2" fill="#cf0000"/>
<rect x="760" y="80.15" width="17" height="12.2" fill="#40ffbf"/>
<rect x="776" y="80.15" width="18.6" height="12.2" fill="#cfff30"/>
<rect x="793.6" y="80.15" width="17" height="12.2" fill="#ffdf00"/>
<rect x="809.6" y="80.15" width="18.6" height="12.2" fill="#ffaf00"/>
<rect x="827.2" y="80.15" width="17" height="12.2" fill="#ff8f00"/>
<rect x="843.2" y="80.15" width="18.6" height="12.2" fill="#ff8000"/>
<rect x="860.8" y="80.15" width="17" height="12.2" fill="#ff7000"/>
<rect x="876.8" y="80.15" width="18.6" height="12.2" fill="#ff7000"/>
<rect x="894.4" y="80.15" width="16" height="12.2" fill="#ff6000"/>
<rect x="760" y="91.35" width="17" height="12.2" fill="#00dfff"/>
<rect x="776" y="91.35" width="18.6" height="12.2" fill="#30ffcf"/>
<rect x="793.6" y="91.35" width="17" height="12.2" fill="#70ff8f"/>
<rect x="809.6" y="91.35" width="18.6" height="12.2" fill="#9fff60"/>
<rect x="827.2" y="91.35" width="17" height="12.2" fill="#afff50"/>
<rect x="843.2" y="91.35" width="18.6" height="12.2" fill="#bfff40"/>
<rect x="860.8" y="91.35" width="17" height="12.2" fill="#bfff40"/>
<rect x="876.8" y="91.35" width="18.6" height="12.2" fill="#bfff40"/>
<rect x="894.4" y="91.35" width="16" height="12.2" fill="#bfff40"/>
<rect x="760" y="102.55" width="17" height="11.2" fill="#0000ff"/>
<rect x="776" y="102.55" width="18.6" height="11.2" fill="#0050ff"/>
<rect x="793.6" y="102.55" width="17" height="11.2" fill="#0080ff"/>
<rect x="809.6" y="102.55" width="18.6" height="11.2" fill="#009fff"/>
<rect x="827.2" y="102.55" width="17" height="11.2" fill="#009fff"/>
<rect x="843.2" y="102.55" width="18.6" height="11.2" fill="#009fff"/>
<rect x="860.8" y="102.55" width="17" height="11.2" fill="#009fff"/>
<rect x="876.8" y="102.55" width="18.6" height="11.2" fill="#009fff"/>
<rect x="894.4" y="102.55" width="16" height="11.2" fill="#008fff"/>
<path class="g" d="M776 46.55V113.75M793.6 46.55V113.75M809.6 46.55V113.75M827.2 46.55V113.75M843.2 46.55V113.75M860.8 46.55V113.75M876.8 46.55V113.75M894.4 46.55V113.75M760 57.75H910.4M760 68.95H910.4M760 80.15H910.4M760 91.35H910.4M760 102.55H910.4"/>
<path class="b" d="M760 113.75V46.55H910.4"/>
<path class="t" d="M759.9 46.75h3.7v1.8h-3.7zM775.9 46.75h3.7v1.8h-3.7zM793.5 46.75h3.7v1.8h-3.7zM809.5 46.75h3.7v1.8h-3.7zM827.1 46.75h3.7v1.8h-3.7zM843.1 46.75h3.7v1.8h-3.7zM860.7 46.75h3.7v1.8h-3.7zM876.7 46.75h3.7v1.8h-3.7zM894.3 46.75h3.7v1.8h-3.7zM910.3 46.75h3.7v1.8h-3.7zM759.9 57.95h3.7v1.8h-3.7zM775.9 57.95h3.7v1.8h-3.7zM793.5 57.95h3.7v1.8h-3.7zM809.5 57.95h3.7v1.8h-3.7zM827.1 57.95h3.7v1.8h-3.7zM843.1 57.95h3.7v1.8h-3.7zM860.7 57.95h3.7v1.8h-3.7zM876.7 57.95h3.7v1.8h-3.7zM894.3 57.95h3.7v1.8h-3.7zM910.3 57.95h3.7v1.8h-3.7zM759.9 69.15h3.7v1.8h-3.7zM775.9 69.15h3.7v1.8h-3.7zM793.5 69.15h3.7v1.8h-3.7zM809.5 69.15h3.7v1.8h-3.7zM827.1 69.15h3.7v1.8h-3.7zM843.1 69.15h3.7v1.8h-3.7zM860.7 69.15h3.7v1.8h-3.7zM876.7 69.15h3.7v1.8h-3.7zM894.3 69.15h3.7v1.8h-3.7zM910.3 69.15h3.7v1.8h-3.7zM759.9 80.35h3.7v1.8h-3.7zM775.9 80.35h3.7v1.8h-3.7zM793.5 80.35h3.7v1.8h-3.7zM809.5 80.35h3.7v1.8h-3.7zM827.1 80.35h3.7v1.8h-3.7zM843.1 80.35h3.7v1.8h-3.7zM860.7 80.35h3.7v1.8h-3.7zM876.7 80.35h3.7v1.8h-3.7zM894.3 80.35h3.7v1.8h-3.7zM910.3 80.35h3.7v1.8h-3.7zM759.9 91.55h3.7v1.8h-3.7zM775.9 91.55h3.7v1.8h-3.7zM793.5 91.55h3.7v1.8h-3.7zM809.5 91.55h3.7v1.8h-3.7zM827.1 91.55h3.7v1.8h-3.7zM843.1 91.55h3.7v1.8h-3.7zM860.7 91.55h3.7v1.8h-3.7zM876.7 91.55h3.7v1.8h-3.7zM894.3 91.55h3.7v1.8h-3.7zM910.3 91.55h3.7v1.8h-3.7zM759.9 102.75h3.7v1.8h-3.7zM775.9 102.75h3.7v1.8h-3.7zM793.5 102.75h3.7v1.8h-3.7zM809.5 102.75h3.7v1.8h-3.7zM827.1 102.75h3.7v1.8h-3.7zM843.1 102.75h3.7v1.8h-3.7zM860.7 102.75h3.7v1.8h-3.7zM876.7 102.75h3.7v1.8h-3.7zM894.3 102.75h3.7v1.8h-3.7zM910.3 102.75h3.7v1.8h-3.7zM775.9 113.95h3.7v1.8h-3.7zM793.5 113.95h3.7v1.8h-3.7zM809.5 113.95h3.7v1.8h-3.7zM827.1 113.95h3.7v1.8h-3.7zM843.1 113.95h3.7v1.8h-3.7zM860.7 113.95h3.7v1.8h-3.7zM876.7 113.95h3.7v1.8h-3.7zM894.3 113.95h3.7v1.8h-3.7zM910.3 113.95h3.7v1.8h-3.7z"/>
</g>
<g>
<rect x="89.6" y="134.55" width="17" height="12.2" fill="#9fff60"/>
<rect x="105.6" y="134.55" width="18.6" height="12.2" fill="#ffbf00"/>
<rect x="123.2" y="134.55" width="17" height="12.2" fill="#ff6000"/>
<rect x="139.2" y="134.55" width="18.6" height="12.2" fill="#ff2000"/>
<rect x="156.8" y="134.55" width="17" height="12.2" fill="#ef0000"/>
<rect x="172.8" y="134.55" width="18.6" height="12.2" fill="#df0000"/>
<rect x="190.4" y="134.55" width="17" height="12.2" fill="#bf0000"/>
<rect x="206.4" y="134.55" width="18.6" height="12.2" fill="#af0000"/>
<rect x="224" y="134.55" width="16" height="12.2" fill="#af0000"/>
<rect x="89.6" y="145.75" width="17" height="12.2" fill="#afff50"/>
<rect x="105.6" y="145.75" width="18.6" height="12.2" fill="#ffbf00"/>
<rect x="123.2" y="145.75" width="17" height="12.2" fill="#ff6000"/>
<rect x="139.2" y="145.75" width="18.6" height="12.2" fill="#ff1000"/>
<rect x="156.8" y="145.75" width="17" height="12.2" fill="#ef0000"/>
<rect x="172.8" y="145.75" width="18.6" height="12.2" fill="#cf0000"/>
<rect x="190.4" y="145.75" width="17" height="12.2" fill="#af0000"/>
<rect x="206.4" y="145.75" width="18.6" height="12.2" fill="#af0000"/>
<rect x="224" y="145.75" width="16" height="12.2" fill="#9f0000"/>
<rect x="89.6" y="156.95" width="17" height="12.2" fill="#80ff80"/>
<rect x="105.6" y="156.95" width="18.6" height="12.2" fill="#ffef00"/>
<rect x="123.2" y="156.95" width="17" height="12.2" fill="#ff8f00"/>
<rect x="139.2" y="156.95" width="18.6" height="12.2" fill="#ff5000"/>
<rect x="156.8" y="156.95" width="17" height="12.2" fill="#ff2000"/>
<rect x="172.8" y="156.95" width="18.6" height="12.2" fill="#ff0000"/>
<rect x="190.4" y="156.95" width="17" height="12.2" fill="#ef0000"/>
<rect x="206.4" y="156.95" width="18.6" height="12.2" fill="#ef0000"/>
<rect x="224" y="156.95" width="16" height="12.2" fill="#df0000"/>
<rect x="89.6" y="168.15" width="17" height="12.2" fill="#20ffdf"/>
<rect x="105.6" y="168.15" width="18.6" height="12.2" fill="#9fff60"/>
<rect x="123.2" y="168.15" width="17" height="12.2" fill="#ffff00"/>
<rect x="139.2" y="168.15" width="18.6" height="12.2" fill="#ffbf00"/>
<rect x="156.8" y="168.15" width="17" height="12.2" fill="#ff9f00"/>
<rect x="172.8" y="168.15" width="18.6" height="12.2" fill="#ff8f00"/>
<rect x="190.4" y="168.15" width="17" height="12.2" fill="#ff8000"/>
<rect x="206.4" y="168.15" width="18.6" height="12.2" fill="#ff8000"/>
<rect x="224" y="168.15" width="16" height="12.2" fill="#ff8000"/>
<rect x="89.6" y="179.35" width="17" height="12.2" fill="#0080ff"/>
<rect x="105.6" y="179.35" width="18.6" height="12.2" fill="#00ffff"/>
<rect x="123.2" y="179.35" width="17" height="12.2" fill="#50ffaf"/>
<rect x="139.2" y="179.35" width="18.6" height="12.2" fill="#70ff8f"/>
<rect x="156.8" y="179.35" width="17" height="12.2" fill="#8fff70"/>
<rect x="172.8" y="179.35" width="18.6" height="12.2" fill="#9fff60"/>
<rect x="190.4" y="179.35" width="17" height="12.2" fill="#9fff60"/>
<rect x="206.4" y="179.35" width="18.6" height="12.2" fill="#8fff70"/>
<rect x="224" y="179.35" width="16" height="12.2" fill="#8fff70"/>
<rect x="89.6" y="190.55" width="17" height="11.2" fill="#0000af"/>
<rect x="105.6" y="190.55" width="18.6" height="11.2" fill="#0010ff"/>
<rect x="123.2" y="190.55" width="17" height="11.2" fill="#0040ff"/>
<rect x="139.2" y="190.55" width="18.6" height="11.2" fill="#0060ff"/>
<rect x="156.8" y="190.55" width="17" height="11.2" fill="#0070ff"/>
<rect x="172.8" y="190.55" width="18.6" height="11.2" fill="#0070ff"/>
<rect x="190.4" y="190.55" width="17" height="11.2" fill="#0060ff"/>
<rect x="206.4" y="190.55" width="18.6" height="11.2" fill="#0060ff"/>
<rect x="224" y="190.55" width="16" height="11.2" fill="#0050ff"/>
<path class="g" d="M105.6 134.55V201.75M123.2 134.55V201.75M139.2 134.55V201.75M156.8 134.55V201.75M172.8 134.55V201.75M190.4 134.55V201.75M206.4 134.55V201.75M224 134.55V201.75M89.6 145.75H240M89.6 156.95H240M89.6 168.15H240M89.6 179.35H240M89.6 190.55H240"/>
<path class="b" d="M89.6 201.75V134.55H240"/>
<path class="t" d="M89.5 134.75h3.7v1.8h-3.7zM105.5 134.75h3.7v1.8h-3.7zM123.1 134.75h3.7v1.8h-3.7zM139.1 134.75h3.7v1.8h-3.7zM156.7 134.75h3.7v1.8h-3.7zM172.7 134.75h3.7v1.8h-3.7zM190.3 134.75h3.7v1.8h-3.7zM206.3 134.75h3.7v1.8h-3.7zM223.9 134.75h3.7v1.8h-3.7zM239.9 134.75h3.7v1.8h-3.7zM89.5 145.95h3.7v1.8h-3.7zM105.5 145.95h3.7v1.8h-3.7zM123.1 145.95h3.7v1.8h-3.7zM139.1 145.95h3.7v1.8h-3.7zM156.7 145.95h3.7v1.8h-3.7zM172.7 145.95h3.7v1.8h-3.7zM190.3 145.95h3.7v1.8h-3.7zM206.3 145.95h3.7v1.8h-3.7zM223.9 145.95h3.7v1.8h-3.7zM239.9 145.95h3.7v1.8h-3.7zM89.5 157.15h3.7v1.8h-3.7zM105.5 157.15h3.7v1.8h-3.7zM123.1 157.15h3.7v1.8h-3.7zM139.1 157.15h3.7v1.8h-3.7zM156.7 157.15h3.7v1.8h-3.7zM172.7 157.15h3.7v1.8h-3.7zM190.3 157.15h3.7v1.8h-3.7zM206.3 157.15h3.7v1.8h-3.7zM223.9 157.15h3.7v1.8h-3.7zM239.9 157.15h3.7v1.8h-3.7zM89.5 168.35h3.7v1.8h-3.7zM105.5 168.35h3.7v1.8h-3.7zM123.1 168.35h3.7v1.8h-3.7zM139.1 168.35h3.7v1.8h-3.7zM156.7 168.35h3.7v1.8h-3.7zM172.7 168.35h3.7v1.8h-3.7zM190.3 168.35h3.7v1.8h-3.7zM206.3 168.35h3.7v1.8h-3.7zM223.9 168.35h3.7v1.8h-3.7zM239.9 168.35h3.7v1.8h-3.7zM89.5 179.55h3.7v1.8h-3.7zM105.5 179.55h3.7v1.8h-3.7zM123.1 179.55h3.7v1.8h-3.7zM139.1 179.55h3.7v1.8h-3.7zM156.7 179.55h3.7v1.8h-3.7zM172.7 179.55h3.7v1.8h-3.7zM190.3 179.55h3.7v1.8h-3.7zM206.3 179.55h3.7v1.8h-3.7zM223.9 179.55h3.7v1.8h-3.7zM239.9 179.55h3.7v1.8h-3.7zM89.5 190.75h3.7v1.8h-3.7zM105.5 190.75h3.7v1.8h-3.7zM123.1 190.75h3.7v1.8h-3.7zM139.1 190.75h3.7v1.8h-3.7zM156.7 190.75h3.7v1.8h-3.7zM172.7 190.75h3.7v1.8h-3.7zM190.3 190.75h3.7v1.8h-3.7zM206.3 190.75h3.7v1.8h-3.7zM223.9 190.75h3.7v1.8h-3.7zM239.9 190.75h3.7v1.8h-3.7zM105.5 201.95h3.7v1.8h-3.7zM123.1 201.95h3.7v1.8h-3.7zM139.1 201.95h3.7v1.8h-3.7zM156.7 201.95h3.7v1.8h-3.7zM172.7 201.95h3.7v1.8h-3.7zM190.3 201.95h3.7v1.8h-3.7zM206.3 201.95h3.7v1.8h-3.7zM223.9 201.95h3.7v1.8h-3.7zM239.9 201.95h3.7v1.8h-3.7z"/>
</g>
<g>
<rect x="257.6" y="134.55" width="17" height="12.2" fill="#dfff20"/>
<rect x="273.6" y="134.55" width="18.6" height="12.2" fill="#ff8f00"/>
<rect x="291.2" y="134.55" width="17" height="12.2" fill="#ff3000"/>
<rect x="307.2" y="134.55" width="18.6" height="12.2" fill="#ff0000"/>
<rect x="324.8" y="134.55" width="17" height="12.2" fill="#cf0000"/>
<rect x="340.8" y="134.55" width="17" height="12.2" fill="#bf0000"/>
<rect x="356.8" y="134.55" width="18.6" height="12.2" fill="#af0000"/>
<rect x="374.4" y="134.55" width="17" height="12.2" fill="#9f0000"/>
<rect x="390.4" y="134.55" width="17.6" height="12.2" fill="#8f0000"/>
<rect x="257.6" y="145.75" width="17" height="12.2" fill="#efff10"/>
<rect x="273.6" y="145.75" width="18.6" height="12.2" fill="#ff8000"/>
<rect x="291.2" y="145.75" width="17" height="12.2" fill="#ff2000"/>
<rect x="307.2" y="145.75" width="18.6" height="12.2" fill="#df0000"/>
<rect x="324.8" y="145.75" width="17" height="12.2" fill="#bf0000"/>
<rect x="340.8" y="145.75" width="17" height="12.2" fill="#9f0000"/>
<rect x="356.8" y="145.75" width="18.6" height="12.2" fill="#8f0000"/>
<rect x="374.4" y="145.75" width="17" height="12.2" fill="#8f0000"/>
<rect x="390.4" y="145.75" width="17.6" height="12.2" fill="#800000"/>
<rect x="257.6" y="156.95" width="17" height="12.2" fill="#cfff30"/>
<rect x="273.6" y="156.95" width="18.6" height="12.2" fill="#ff9f00"/>
<rect x="291.2" y="156.95" width="17" height="12.2" fill="#ff5000"/>
<rect x="307.2" y="156.95" width="18.6" height="12.2" fill="#ff1000"/>
<rect x="324.8" y="156.95" width="17" height="12.2" fill="#ef0000"/>
<rect x="340.8" y="156.95" width="17" height="12.2" fill="#df0000"/>
<rect x="356.8" y="156.95" width="18.6" height="12.2" fill="#cf0000"/>
<rect x="374.4" y="156.95" width="17" height="12.2" fill="#cf0000"/>
<rect x="390.4" y="156.95" width="17.6" height="12.2" fill="#bf0000"/>
<rect x="257.6" y="168.15" width="17" height="12.2" fill="#70ff8f"/>
<rect x="273.6" y="168.15" width="18.6" height="12.2" fill="#efff10"/>
<rect x="291.2" y="168.15" width="17" height="12.2" fill="#ffbf00"/>
<rect x="307.2" y="168.15" width="18.6" height="12.2" fill="#ff9f00"/>
<rect x="324.8" y="168.15" width="17" height="12.2" fill="#ff8000"/>
<rect x="340.8" y="168.15" width="17" height="12.2" fill="#ff7000"/>
<rect x="356.8" y="168.15" width="18.6" height="12.2" fill="#ff7000"/>
<rect x="374.4" y="168.15" width="17" height="12.2" fill="#ff7000"/>
<rect x="390.4" y="168.15" width="17.6" height="12.2" fill="#ff7000"/>
<rect x="257.6" y="179.35" width="17" height="12.2" fill="#00dfff"/>
<rect x="273.6" y="179.35" width="18.6" height="12.2" fill="#40ffbf"/>
<rect x="291.2" y="179.35" width="17" height="12.2" fill="#80ff80"/>
<rect x="307.2" y="179.35" width="18.6" height="12.2" fill="#afff50"/>
<rect x="324.8" y="179.35" width="17" height="12.2" fill="#bfff40"/>
<rect x="340.8" y="179.35" width="17" height="12.2" fill="#bfff40"/>
<rect x="356.8" y="179.35" width="18.6" height="12.2" fill="#bfff40"/>
<rect x="374.4" y="179.35" width="17" height="12.2" fill="#bfff40"/>
<rect x="390.4" y="179.35" width="17.6" height="12.2" fill="#afff50"/>
<rect x="257.6" y="190.55" width="17" height="11.2" fill="#0000ff"/>
<rect x="273.6" y="190.55" width="18.6" height="11.2" fill="#0050ff"/>
<rect x="291.2" y="190.55" width="17" height="11.2" fill="#0080ff"/>
<rect x="307.2" y="190.55" width="18.6" height="11.2" fill="#009fff"/>
<rect x="324.8" y="190.55" width="17" height="11.2" fill="#009fff"/>
<rect x="340.8" y="190.55" width="17" height="11.2" fill="#009fff"/>
<rect x="356.8" y="190.55" width="18.6" height="11.2" fill="#008fff"/>
<rect x="374.4" y="190.55" width="17" height="11.2" fill="#0080ff"/>
<rect x="390.4" y="190.55" width="17.6" height="11.2" fill="#0070ff"/>
<path class="g" d="M273.6 134.55V201.75M291.2 134.55V201.75M307.2 134.55V201.75M324.8 134.55V201.75M340.8 134.55V201.75M356.8 134.55V201.75M374.4 134.55V201.75M390.4 134.55V201.75M257.6 145.75H408M257.6 156.95H408M257.6 168.15H408M257.6 179.35H408M257.6 190.55H408"/>
<path class="b" d="M257.6 201.75V134.55H408"/>
<path class="t" d="M257.5 134.75h3.7v1.8h-3.7zM273.5 134.75h3.7v1.8h-3.7zM291.1 134.75h3.7v1.8h-3.7zM307.1 134.75h3.7v1.8h-3.7zM324.7 134.75h3.7v1.8h-3.7zM340.7 134.75h3.7v1.8h-3.7zM356.7 134.75h3.7v1.8h-3.7zM374.3 134.75h3.7v1.8h-3.7zM390.3 134.75h3.7v1.8h-3.7zM407.9 134.75h3.7v1.8h-3.7zM257.5 145.95h3.7v1.8h-3.7zM273.5 145.95h3.7v1.8h-3.7zM291.1 145.95h3.7v1.8h-3.7zM307.1 145.95h3.7v1.8h-3.7zM324.7 145.95h3.7v1.8h-3.7zM340.7 145.95h3.7v1.8h-3.7zM356.7 145.95h3.7v1.8h-3.7zM374.3 145.95h3.7v1.8h-3.7zM390.3 145.95h3.7v1.8h-3.7zM407.9 145.95h3.7v1.8h-3.7zM257.5 157.15h3.7v1.8h-3.7zM273.5 157.15h3.7v1.8h-3.7zM291.1 157.15h3.7v1.8h-3.7zM307.1 157.15h3.7v1.8h-3.7zM324.7 157.15h3.7v1.8h-3.7zM340.7 157.15h3.7v1.8h-3.7zM356.7 157.15h3.7v1.8h-3.7zM374.3 157.15h3.7v1.8h-3.7zM390.3 157.15h3.7v1.8h-3.7zM407.9 157.15h3.7v1.8h-3.7zM257.5 168.35h3.7v1.8h-3.7zM273.5 168.35h3.7v1.8h-3.7zM291.1 168.35h3.7v1.8h-3.7zM307.1 168.35h3.7v1.8h-3.7zM324.7 168.35h3.7v1.8h-3.7zM340.7 168.35h3.7v1.8h-3.7zM356.7 168.35h3.7v1.8h-3.7zM374.3 168.35h3.7v1.8h-3.7zM390.3 168.35h3.7v1.8h-3.7zM407.9 168.35h3.7v1.8h-3.7zM257.5 179.55h3.7v1.8h-3.7zM273.5 179.55h3.7v1.8h-3.7zM291.1 179.55h3.7v1.8h-3.7zM307.1 179.55h3.7v1.8h-3.7zM324.7 179.55h3.7v1.8h-3.7zM340.7 179.55h3.7v1.8h-3.7zM356.7 179.55h3.7v1.8h-3.7zM374.3 179.55h3.7v1.8h-3.7zM390.3 179.55h3.7v1.8h-3.7zM407.9 179.55h3.7v1.8h-3.7zM257.5 190.75h3.7v1.8h-3.7zM273.5 190.75h3.7v1.8h-3.7zM291.1 190.75h3.7v1.8h-3.7zM307.1 190.75h3.7v1.8h-3.7zM324.7 190.75h3.7v1.8h-3.7zM340.7 190.75h3.7v1.8h-3.7zM356.7 190.75h3.7v1.8h-3.7zM374.3 190.75h3.7v1.8h-3.7zM390.3 190.75h3.7v1.8h-3.7zM407.9 190.75h3.7v1.8h-3.7zM273.5 201.95h3.7v1.8h-3.7zM291.1 201.95h3.7v1.8h-3.7zM307.1 201.95h3.7v1.8h-3.7zM324.7 201.95h3.7v1.8h-3.7zM340.7 201.95h3.7v1.8h-3.7zM356.7 201.95h3.7v1.8h-3.7zM374.3 201.95h3.7v1.8h-3.7zM390.3 201.95h3.7v1.8h-3.7zM407.9 201.95h3.7v1.8h-3.7z"/>
</g>
<g>
<rect x="424" y="134.55" width="18.6" height="12.2" fill="#efff10"/>
<rect x="441.6" y="134.55" width="17" height="12.2" fill="#ff8000"/>
<rect x="457.6" y="134.55" width="18.6" height="12.2" fill="#ff2000"/>
<rect x="475.2" y="134.55" width="17" height="12.2" fill="#ef0000"/>
<rect x="491.2" y="134.55" width="18.6" height="12.2" fill="#bf0000"/>
<rect x="508.8" y="134.55" width="17" height="12.2" fill="#af0000"/>
<rect x="524.8" y="134.55" width="18.6" height="12.2" fill="#9f0000"/>
<rect x="542.4" y="134.55" width="17" height="12.2" fill="#8f0000"/>
<rect x="558.4" y="134.55" width="17.6" height="12.2" fill="#8f0000"/>
<rect x="424" y="145.75" width="18.6" height="12.2" fill="#ffef00"/>
<rect x="441.6" y="145.75" width="17" height="12.2" fill="#ff6000"/>
<rect x="457.6" y="145.75" width="18.6" height="12.2" fill="#ff1000"/>
<rect x="475.2" y="145.75" width="17" height="12.2" fill="#cf0000"/>
<rect x="491.2" y="145.75" width="18.6" height="12.2" fill="#af0000"/>
<rect x="508.8" y="145.75" width="17" height="12.2" fill="#8f0000"/>
<rect x="524.8" y="145.75" width="18.6" height="12.2" fill="#8f0000"/>
<rect x="542.4" y="145.75" width="17" height="12.2" fill="#800000"/>
<rect x="558.4" y="145.75" width="17.6" height="12.2" fill="#800000"/>
<rect x="424" y="156.95" width="18.6" height="12.2" fill="#efff10"/>
<rect x="441.6" y="156.95" width="17" height="12.2" fill="#ff8000"/>
<rect x="457.6" y="156.95" width="18.6" height="12.2" fill="#ff3000"/>
<rect x="475.2" y="156.95" width="17" height="12.2" fill="#ff0000"/>
<rect x="491.2" y="156.95" width="18.6" height="12.2" fill="#df0000"/>
<rect x="508.8" y="156.95" width="17" height="12.2" fill="#cf0000"/>
<rect x="524.8" y="156.95" width="18.6" height="12.2" fill="#bf0000"/>
<rect x="542.4" y="156.95" width="17" height="12.2" fill="#bf0000"/>
<rect x="558.4" y="156.95" width="17.6" height="12.2" fill="#bf0000"/>
<rect x="424" y="168.15" width="18.6" height="12.2" fill="#9fff60"/>
<rect x="441.6" y="168.15" width="17" height="12.2" fill="#ffdf00"/>
<rect x="457.6" y="168.15" width="18.6" height="12.2" fill="#ff9f00"/>
<rect x="475.2" y="168.15" width="17" height="12.2" fill="#ff8000"/>
<rect x="491.2" y="168.15" width="18.6" height="12.2" fill="#ff6000"/>
<rect x="508.8" y="168.15" width="17" height="12.2" fill="#ff6000"/>
<rect x="524.8" y="168.15" width="18.6" height="12.2" fill="#ff5000"/>
<rect x="542.4" y="168.15" width="17" height="12.2" fill="#ff5000"/>
<rect x="558.4" y="168.15" width="17.6" height="12.2" fill="#ff6000"/>
<rect x="424" y="179.35" width="18.6" height="12.2" fill="#10ffef"/>
<rect x="441.6" y="179.35" width="17" height="12.2" fill="#80ff80"/>
<rect x="457.6" y="179.35" width="18.6" height="12.2" fill="#afff50"/>
<rect x="475.2" y="179.35" width="17" height="12.2" fill="#cfff30"/>
<rect x="491.2" y="179.35" width="18.6" height="12.2" fill="#dfff20"/>
<rect x="508.8" y="179.35" width="17" height="12.2" fill="#dfff20"/>
<rect x="524.8" y="179.35" width="18.6" height="12.2" fill="#dfff20"/>
<rect x="542.4" y="179.35" width="17" height="12.2" fill="#cfff30"/>
<rect x="558.4" y="179.35" width="17.6" height="12.2" fill="#cfff30"/>
<rect x="424" y="190.55" width="18.6" height="11.2" fill="#0030ff"/>
<rect x="441.6" y="190.55" width="17" height="11.2" fill="#0080ff"/>
<rect x="457.6" y="190.55" width="18.6" height="11.2" fill="#00afff"/>
<rect x="475.2" y="190.55" width="17" height="11.2" fill="#00bfff"/>
<rect x="491.2" y="190.55" width="18.6" height="11.2" fill="#00bfff"/>
<rect x="508.8" y="190.55" width="17" height="11.2" fill="#00bfff"/>
<rect x="524.8" y="190.55" width="18.6" height="11.2" fill="#00afff"/>
<rect x="542.4" y="190.55" width="17" height="11.2" fill="#009fff"/>
<rect x="558.4" y="190.55" width="17.6" height="11.2" fill="#008fff"/>
<path class="g" d="M441.6 134.55V201.75M457.6 134.55V201.75M475.2 134.55V201.75M491.2 134.55V201.75M508.8 134.55V201.75M524.8 134.55V201.75M542.4 134.55V201.75M558.4 134.55V201.75M424 145.75H576M424 156.95H576M424 168.15H576M424 179.35H576M424 190.55H576"/>
<path class="b" d="M424 201.75V134.55H576"/>
<path class="t" d="M423.9 134.75h3.7v1.8h-3.7zM441.5 134.75h3.7v1.8h-3.7zM457.5 134.75h3.7v1.8h-3.7zM475.1 134.75h3.7v1.8h-3.7zM491.1 134.75h3.7v1.8h-3.7zM508.7 134.75h3.7v1.8h-3.7zM524.7 134.75h3.7v1.8h-3.7zM542.3 134.75h3.7v1.8h-3.7zM558.3 134.75h3.7v1.8h-3.7zM575.9 134.75h3.7v1.8h-3.7zM423.9 145.95h3.7v1.8h-3.7zM441.5 145.95h3.7v1.8h-3.7zM457.5 145.95h3.7v1.8h-3.7zM475.1 145.95h3.7v1.8h-3.7zM491.1 145.95h3.7v1.8h-3.7zM508.7 145.95h3.7v1.8h-3.7zM524.7 145.95h3.7v1.8h-3.7zM542.3 145.95h3.7v1.8h-3.7zM558.3 145.95h3.7v1.8h-3.7zM575.9 145.95h3.7v1.8h-3.7zM423.9 157.15h3.7v1.8h-3.7zM441.5 157.15h3.7v1.8h-3.7zM457.5 157.15h3.7v1.8h-3.7zM475.1 157.15h3.7v1.8h-3.7zM491.1 157.15h3.7v1.8h-3.7zM508.7 157.15h3.7v1.8h-3.7zM524.7 157.15h3.7v1.8h-3.7zM542.3 157.15h3.7v1.8h-3.7zM558.3 157.15h3.7v1.8h-3.7zM575.9 157.15h3.7v1.8h-3.7zM423.9 168.35h3.7v1.8h-3.7zM441.5 168.35h3.7v1.8h-3.7zM457.5 168.35h3.7v1.8h-3.7zM475.1 168.35h3.7v1.8h-3.7zM491.1 168.35h3.7v1.8h-3.7zM508.7 168.35h3.7v1.8h-3.7zM524.7 168.35h3.7v1.8h-3.7zM542.3 168.35h3.7v1.8h-3.7zM558.3 168.35h3.7v1.8h-3.7zM575.9 168.35h3.7v1.8h-3.7zM423.9 179.55h3.7v1.8h-3.7zM441.5 179.55h3.7v1.8h-3.7zM457.5 179.55h3.7v1.8h-3.7zM475.1 179.55h3.7v1.8h-3.7zM491.1 179.55h3.7v1.8h-3.7zM508.7 179.55h3.7v1.8h-3.7zM524.7 179.55h3.7v1.8h-3.7zM542.3 179.55h3.7v1.8h-3.7zM558.3 179.55h3.7v1.8h-3.7zM575.9 179.55h3.7v1.8h-3.7zM423.9 190.75h3.7v1.8h-3.7zM441.5 190.75h3.7v1.8h-3.7zM457.5 190.75h3.7v1.8h-3.7zM475.1 190.75h3.7v1.8h-3.7zM491.1 190.75h3.7v1.8h-3.7zM508.7 190.75h3.7v1.8h-3.7zM524.7 190.75h3.7v1.8h-3.7zM542.3 190.75h3.7v1.8h-3.7zM558.3 190.75h3.7v1.8h-3.7zM575.9 190.75h3.7v1.8h-3.7zM441.5 201.95h3.7v1.8h-3.7zM457.5 201.95h3.7v1.8h-3.7zM475.1 201.95h3.7v1.8h-3.7zM491.1 201.95h3.7v1.8h-3.7zM508.7 201.95h3.7v1.8h-3.7zM524.7 201.95h3.7v1.8h-3.7zM542.3 201.95h3.7v1.8h-3.7zM558.3 201.95h3.7v1.8h-3.7zM575.9 201.95h3.7v1.8h-3.7z"/>
</g>
<g>
<rect x="592" y="134.55" width="18.6" height="12.2" fill="#cfff30"/>
<rect x="609.6" y="134.55" width="17" height="12.2" fill="#ff9f00"/>
<rect x="625.6" y="134.55" width="18.6" height="12.2" fill="#ff4000"/>
<rect x="643.2" y="134.55" width="17" height="12.2" fill="#ff0000"/>
<rect x="659.2" y="134.55" width="17" height="12.2" fill="#df0000"/>
<rect x="675.2" y="134.55" width="18.6" height="12.2" fill="#bf0000"/>
<rect x="692.8" y="134.55" width="17" height="12.2" fill="#af0000"/>
<rect x="708.8" y="134.55" width="18.6" height="12.2" fill="#9f0000"/>
<rect x="726.4" y="134.55" width="16" height="12.2" fill="#8f0000"/>
<rect x="592" y="145.75" width="18.6" height="12.2" fill="#efff10"/>
<rect x="609.6" y="145.75" width="17" height="12.2" fill="#ff8000"/>
<rect x="625.6" y="145.75" width="18.6" height="12.2" fill="#ff2000"/>
<rect x="643.2" y="145.75" width="17" height="12.2" fill="#df0000"/>
<rect x="659.2" y="145.75" width="17" height="12.2" fill="#bf0000"/>
<rect x="675.2" y="145.75" width="18.6" height="12.2" fill="#9f0000"/>
<rect x="692.8" y="145.75" width="17" height="12.2" fill="#8f0000"/>
<rect x="708.8" y="145.75" width="18.6" height="12.2" fill="#800000"/>
<rect x="726.4" y="145.75" width="16" height="12.2" fill="#800000"/>
<rect x="592" y="156.95" width="18.6" height="12.2" fill="#efff10"/>
<rect x="609.6" y="156.95" width="17" height="12.2" fill="#ff8f00"/>
<rect x="625.6" y="156.95" width="18.6" height="12.2" fill="#ff3000"/>
<rect x="643.2" y="156.95" width="17" height="12.2" fill="#ff0000"/>
<rect x="659.2" y="156.95" width="17" height="12.2" fill="#df0000"/>
<rect x="675.2" y="156.95" width="18.6" height="12.2" fill="#cf0000"/>
<rect x="692.8" y="156.95" width="17" height="12.2" fill="#bf0000"/>
<rect x="708.8" y="156.95" width="18.6" height="12.2" fill="#bf0000"/>
<rect x="726.4" y="156.95" width="16" height="12.2" fill="#af0000"/>
<rect x="592" y="168.15" width="18.6" height="12.2" fill="#9fff60"/>
<rect x="609.6" y="168.15" width="17" height="12.2" fill="#ffdf00"/>
<rect x="625.6" y="168.15" width="18.6" height="12.2" fill="#ff9f00"/>
<rect x="643.2" y="168.15" width="17" height="12.2" fill="#ff8000"/>
<rect x="659.2" y="168.15" width="17" height="12.2" fill="#ff6000"/>
<rect x="675.2" y="168.15" width="18.6" height="12.2" fill="#ff5000"/>
<rect x="692.8" y="168.15" width="17" height="12.2" fill="#ff5000"/>
<rect x="708.8" y="168.15" width="18.6" height="12.2" fill="#ff5000"/>
<rect x="726.4" y="168.15" width="16" height="12.2" fill="#ff5000"/>
<rect x="592" y="179.35" width="18.6" height="12.2" fill="#20ffdf"/>
<rect x="609.6" y="179.35" width="17" height="12.2" fill="#80ff80"/>
<rect x="625.6" y="179.35" width="18.6" height="12.2" fill="#bfff40"/>
<rect x="643.2" y="179.35" width="17" height="12.2" fill="#dfff20"/>
<rect x="659.2" y="179.35" width="17" height="12.2" fill="#efff10"/>
<rect x="675.2" y="179.35" width="18.6" height="12.2" fill="#efff10"/>
<rect x="692.8" y="179.35" width="17" height="12.2" fill="#efff10"/>
<rect x="708.8" y="179.35" width="18.6" height="12.2" fill="#dfff20"/>
<rect x="726.4" y="179.35" width="16" height="12.2" fill="#dfff20"/>
<rect x="592" y="190.55" width="18.6" height="11.2" fill="#0040ff"/>
<rect x="609.6" y="190.55" width="17" height="11.2" fill="#008fff"/>
<rect x="625.6" y="190.55" width="18.6" height="11.2" fill="#00bfff"/>
<rect x="643.2" y="190.55" width="17" height="11.2" fill="#00cfff"/>
<rect x="659.2" y="190.55" width="17" height="11.2" fill="#00cfff"/>
<rect x="675.2" y="190.55" width="18.6" height="11.2" fill="#00cfff"/>
<rect x="692.8" y="190.55" width="17" height="11.2" fill="#00bfff"/>
<rect x="708.8" y="190.55" width="18.6" height="11.2" fill="#00afff"/>
<rect x="726.4" y="190.55" width="16" height="11.2" fill="#00afff"/>
<path class="g" d="M609.6 134.55V201.75M625.6 134.55V201.75M643.2 134.55V201.75M659.2 134.55V201.75M675.2 134.55V201.75M692.8 134.55V201.75M708.8 134.55V201.75M726.4 134.55V201.75M592 145.75H742.4M592 156.95H742.4M592 168.15H742.4M592 179.35H742.4M592 190.55H742.4"/>
<path class="b" d="M592 201.75V134.55H742.4"/>
<path class="t" d="M591.9 134.75h3.7v1.8h-3.7zM609.5 134.75h3.7v1.8h-3.7zM625.5 134.75h3.7v1.8h-3.7zM643.1 134.75h3.7v1.8h-3.7zM659.1 134.75h3.7v1.8h-3.7zM675.1 134.75h3.7v1.8h-3.7zM692.7 134.75h3.7v1.8h-3.7zM708.7 134.75h3.7v1.8h-3.7zM726.3 134.75h3.7v1.8h-3.7zM742.3 134.75h3.7v1.8h-3.7zM591.9 145.95h3.7v1.8h-3.7zM609.5 145.95h3.7v1.8h-3.7zM625.5 145.95h3.7v1.8h-3.7zM643.1 145.95h3.7v1.8h-3.7zM659.1 145.95h3.7v1.8h-3.7zM675.1 145.95h3.7v1.8h-3.7zM692.7 145.95h3.7v1.8h-3.7zM708.7 145.95h3.7v1.8h-3.7zM726.3 145.95h3.7v1.8h-3.7zM742.3 145.95h3.7v1.8h-3.7zM591.9 157.15h3.7v1.8h-3.7zM609.5 157.15h3.7v1.8h-3.7zM625.5 157.15h3.7v1.8h-3.7zM643.1 157.15h3.7v1.8h-3.7zM659.1 157.15h3.7v1.8h-3.7zM675.1 157.15h3.7v1.8h-3.7zM692.7 157.15h3.7v1.8h-3.7zM708.7 157.15h3.7v1.8h-3.7zM726.3 157.15h3.7v1.8h-3.7zM742.3 157.15h3.7v1.8h-3.7zM591.9 168.35h3.7v1.8h-3.7zM609.5 168.35h3.7v1.8h-3.7zM625.5 168.35h3.7v1.8h-3.7zM643.1 168.35h3.7v1.8h-3.7zM659.1 168.35h3.7v1.8h-3.7zM675.1 168.35h3.7v1.8h-3.7zM692.7 168.35h3.7v1.8h-3.7zM708.7 168.35h3.7v1.8h-3.7zM726.3 168.35h3.7v1.8h-3.7zM742.3 168.35h3.7v1.8h-3.7zM591.9 179.55h3.7v1.8h-3.7zM609.5 179.55h3.7v1.8h-3.7zM625.5 179.55h3.7v1.8h-3.7zM643.1 179.55h3.7v1.8h-3.7zM659.1 179.55h3.7v1.8h-3.7zM675.1 179.55h3.7v1.8h-3.7zM692.7 179.55h3.7v1.8h-3.7zM708.7 179.55h3.7v1.8h-3.7zM726.3 179.55h3.7v1.8h-3.7zM742.3 179.55h3.7v1.8h-3.7zM591.9 190.75h3.7v1.8h-3.7zM609.5 190.75h3.7v1.8h-3.7zM625.5 190.75h3.7v1.8h-3.7zM643.1 190.75h3.7v1.8h-3.7zM659.1 190.75h3.7v1.8h-3.7zM675.1 190.75h3.7v1.8h-3.7zM692.7 190.75h3.7v1.8h-3.7zM708.7 190.75h3.7v1.8h-3.7zM726.3 190.75h3.7v1.8h-3.7zM742.3 190.75h3.7v1.8h-3.7zM609.5 201.95h3.7v1.8h-3.7zM625.5 201.95h3.7v1.8h-3.7zM643.1 201.95h3.7v1.8h-3.7zM659.1 201.95h3.7v1.8h-3.7zM675.1 201.95h3.7v1.8h-3.7zM692.7 201.95h3.7v1.8h-3.7zM708.7 201.95h3.7v1.8h-3.7zM726.3 201.95h3.7v1.8h-3.7zM742.3 201.95h3.7v1.8h-3.7z"/>
</g>
<g>
<rect x="760" y="134.55" width="17" height="12.2" fill="#60ff9f"/>
<rect x="776" y="134.55" width="18.6" height="12.2" fill="#ffef00"/>
<rect x="793.6" y="134.55" width="17" height="12.2" fill="#ff8000"/>
<rect x="809.6" y="134.55" width="18.6" height="12.2" fill="#ff4000"/>
<rect x="827.2" y="134.55" width="17" height="12.2" fill="#ff0000"/>
<rect x="843.2" y="134.55" width="18.6" height="12.2" fill="#df0000"/>
<rect x="860.8" y="134.55" width="17" height="12.2" fill="#cf0000"/>
<rect x="876.8" y="134.55" width="18.6" height="12.2" fill="#af0000"/>
<rect x="894.4" y="134.55" width="16" height="12.2" fill="#9f0000"/>
<rect x="760" y="145.75" width="17" height="12.2" fill="#9fff60"/>
<rect x="776" y="145.75" width="18.6" height="12.2" fill="#ffbf00"/>
<rect x="793.6" y="145.75" width="17" height="12.2" fill="#ff6000"/>
<rect x="809.6" y="145.75" width="18.6" height="12.2" fill="#ff1000"/>
<rect x="827.2" y="145.75" width="17" height="12.2" fill="#df0000"/>
<rect x="843.2" y="145.75" width="18.6" height="12.2" fill="#bf0000"/>
<rect x="860.8" y="145.75" width="17" height="12.2" fill="#af0000"/>
<rect x="876.8" y="145.75" width="18.6" height="12.2" fill="#8f0000"/>
<rect x="894.4" y="145.75" width="16" height="12.2" fill="#8f0000"/>
<rect x="760" y="156.95" width="17" height="12.2" fill="#9fff60"/>
<rect x="776" y="156.95" width="18.6" height="12.2" fill="#ffcf00"/>
<rect x="793.6" y="156.95" width="17" height="12.2" fill="#ff7000"/>
<rect x="809.6" y="156.95" width="18.6" height="12.2" fill="#ff3000"/>
<rect x="827.2" y="156.95" width="17" height="12.2" fill="#ff0000"/>
<rect x="843.2" y="156.95" width="18.6" height="12.2" fill="#df0000"/>
<rect x="860.8" y="156.95" width="17" height="12.2" fill="#cf0000"/>
<rect x="876.8" y="156.95" width="18.6" height="12.2" fill="#bf0000"/>
<rect x="894.4" y="156.95" width="16" height="12.2" fill="#bf0000"/>
<rect x="760" y="168.15" width="17" height="12.2" fill="#70ff8f"/>
<rect x="776" y="168.15" width="18.6" height="12.2" fill="#efff10"/>
<rect x="793.6" y="168.15" width="17" height="12.2" fill="#ffbf00"/>
<rect x="809.6" y="168.15" width="18.6" height="12.2" fill="#ff8f00"/>
<rect x="827.2" y="168.15" width="17" height="12.2" fill="#ff7000"/>
<rect x="843.2" y="168.15" width="18.6" height="12.2" fill="#ff6000"/>
<rect x="860.8" y="168.15" width="17" height="12.2" fill="#ff5000"/>
<rect x="876.8" y="168.15" width="18.6" height="12.2" fill="#ff4000"/>
<rect x="894.4" y="168.15" width="16" height="12.2" fill="#ff4000"/>
<rect x="760" y="179.35" width="17" height="12.2" fill="#00efff"/>
<rect x="776" y="179.35" width="18.6" height="12.2" fill="#50ffaf"/>
<rect x="793.6" y="179.35" width="17" height="12.2" fill="#8fff70"/>
<rect x="809.6" y="179.35" width="18.6" height="12.2" fill="#bfff40"/>
<rect x="827.2" y="179.35" width="17" height="12.2" fill="#dfff20"/>
<rect x="843.2" y="179.35" width="18.6" height="12.2" fill="#dfff20"/>
<rect x="860.8" y="179.35" width="17" height="12.2" fill="#dfff20"/>
<rect x="876.8" y="179.35" width="18.6" height="12.2" fill="#dfff20"/>
<rect x="894.4" y="179.35" width="16" height="12.2" fill="#dfff20"/>
<rect x="760" y="190.55" width="17" height="11.2" fill="#0020ff"/>
<rect x="776" y="190.55" width="18.6" height="11.2" fill="#0080ff"/>
<rect x="793.6" y="190.55" width="17" height="11.2" fill="#00afff"/>
<rect x="809.6" y="190.55" width="18.6" height="11.2" fill="#00bfff"/>
<rect x="827.2" y="190.55" width="17" height="11.2" fill="#00cfff"/>
<rect x="843.2" y="190.55" width="18.6" height="11.2" fill="#00cfff"/>
<rect x="860.8" y="190.55" width="17" height="11.2" fill="#00cfff"/>
<rect x="876.8" y="190.55" width="18.6" height="11.2" fill="#00bfff"/>
<rect x="894.4" y="190.55" width="16" height="11.2" fill="#00afff"/>
<path class="g" d="M776 134.55V201.75M793.6 134.55V201.75M809.6 134.55V201.75M827.2 134.55V201.75M843.2 134.55V201.75M860.8 134.55V201.75M876.8 134.55V201.75M894.4 134.55V201.75M760 145.75H910.4M760 156.95H910.4M760 168.15H910.4M760 179.35H910.4M760 190.55H910.4"/>
<path class="b" d="M760 201.75V134.55H910.4"/>
<path class="t" d="M759.9 134.75h3.7v1.8h-3.7zM775.9 134.75h3.7v1.8h-3.7zM793.5 134.75h3.7v1.8h-3.7zM809.5 134.75h3.7v1.8h-3.7zM827.1 134.75h3.7v1.8h-3.7zM843.1 134.75h3.7v1.8h-3.7zM860.7 134.75h3.7v1.8h-3.7zM876.7 134.75h3.7v1.8h-3.7zM894.3 134.75h3.7v1.8h-3.7zM910.3 134.75h3.7v1.8h-3.7zM759.9 145.95h3.7v1.8h-3.7zM775.9 145.95h3.7v1.8h-3.7zM793.5 145.95h3.7v1.8h-3.7zM809.5 145.95h3.7v1.8h-3.7zM827.1 145.95h3.7v1.8h-3.7zM843.1 145.95h3.7v1.8h-3.7zM860.7 145.95h3.7v1.8h-3.7zM876.7 145.95h3.7v1.8h-3.7zM894.3 145.95h3.7v1.8h-3.7zM910.3 145.95h3.7v1.8h-3.7zM759.9 157.15h3.7v1.8h-3.7zM775.9 157.15h3.7v1.8h-3.7zM793.5 157.15h3.7v1.8h-3.7zM809.5 157.15h3.7v1.8h-3.7zM827.1 157.15h3.7v1.8h-3.7zM843.1 157.15h3.7v1.8h-3.7zM860.7 157.15h3.7v1.8h-3.7zM876.7 157.15h3.7v1.8h-3.7zM894.3 157.15h3.7v1.8h-3.7zM910.3 157.15h3.7v1.8h-3.7zM759.9 168.35h3.7v1.8h-3.7zM775.9 168.35h3.7v1.8h-3.7zM793.5 168.35h3.7v1.8h-3.7zM809.5 168.35h3.7v1.8h-3.7zM827.1 168.35h3.7v1.8h-3.7zM843.1 168.35h3.7v1.8h-3.7zM860.7 168.35h3.7v1.8h-3.7zM876.7 168.35h3.7v1.8h-3.7zM894.3 168.35h3.7v1.8h-3.7zM910.3 168.35h3.7v1.8h-3.7zM759.9 179.55h3.7v1.8h-3.7zM775.9 179.55h3.7v1.8h-3.7zM793.5 179.55h3.7v1.8h-3.7zM809.5 179.55h3.7v1.8h-3.7zM827.1 179.55h3.7v1.8h-3.7zM843.1 179.55h3.7v1.8h-3.7zM860.7 179.55h3.7v1.8h-3.7zM876.7 179.55h3.7v1.8h-3.7zM894.3 179.55h3.7v1.8h-3.7zM910.3 179.55h3.7v1.8h-3.7zM759.9 190.75h3.7v1.8h-3.7zM775.9 190.75h3.7v1.8h-3.7zM793.5 190.75h3.7v1.8h-3.7zM809.5 190.75h3.7v1.8h-3.7zM827.1 190.75h3.7v1.8h-3.7zM843.1 190.75h3.7v1.8h-3.7zM860.7 190.75h3.7v1.8h-3.7zM876.7 190.75h3.7v1.8h-3.7zM894.3 190.75h3.7v1.8h-3.7zM910.3 190.75h3.7v1.8h-3.7zM775.9 201.95h3.7v1.8h-3.7zM793.5 201.95h3.7v1.8h-3.7zM809.5 201.95h3.7v1.8h-3.7zM827.1 201.95h3.7v1.8h-3.7zM843.1 201.95h3.7v1.8h-3.7zM860.7 201.95h3.7v1.8h-3.7zM876.7 201.95h3.7v1.8h-3.7zM894.3 201.95h3.7v1.8h-3.7zM910.3 201.95h3.7v1.8h-3.7z"/>
</g>
<g>
<rect x="89.6" y="224.15" width="17" height="12.2" fill="#afff50"/>
<rect x="105.6" y="224.15" width="18.6" height="12.2" fill="#ffbf00"/>
<rect x="123.2" y="224.15" width="17" height="12.2" fill="#ff6000"/>
<rect x="139.2" y="224.15" width="18.6" height="12.2" fill="#ff2000"/>
<rect x="156.8" y="224.15" width="17" height="12.2" fill="#ff0000"/>
<rect x="172.8" y="224.15" width="18.6" height="12.2" fill="#df0000"/>
<rect x="190.4" y="224.15" width="17" height="12.2" fill="#cf0000"/>
<rect x="206.4" y="224.15" width="18.6" height="12.2" fill="#bf0000"/>
<rect x="224" y="224.15" width="16" height="12.2" fill="#af0000"/>
<rect x="89.6" y="235.35" width="17" height="12.2" fill="#afff50"/>
<rect x="105.6" y="235.35" width="18.6" height="12.2" fill="#ffaf00"/>
<rect x="123.2" y="235.35" width="17" height="12.2" fill="#ff5000"/>
<rect x="139.2" y="235.35" width="18.6" height="12.2" fill="#ff1000"/>
<rect x="156.8" y="235.35" width="17" height="12.2" fill="#ef0000"/>
<rect x="172.8" y="235.35" width="18.6" height="12.2" fill="#cf0000"/>
<rect x="190.4" y="235.35" width="17" height="12.2" fill="#bf0000"/>
<rect x="206.4" y="235.35" width="18.6" height="12.2" fill="#af0000"/>
<rect x="224" y="235.35" width="16" height="12.2" fill="#9f0000"/>
<rect x="89.6" y="246.55" width="17" height="12.2" fill="#8fff70"/>
<rect x="105.6" y="246.55" width="18.6" height="12.2" fill="#ffdf00"/>
<rect x="123.2" y="246.55" width="17" height="12.2" fill="#ff8000"/>
<rect x="139.2" y="246.55" width="18.6" height="12.2" fill="#ff4000"/>
<rect x="156.8" y="246.55" width="17" height="12.2" fill="#ff2000"/>
<rect x="172.8" y="246.55" width="18.6" height="12.2" fill="#ff0000"/>
<rect x="190.4" y="246.55" width="17" height="12.2" fill="#ef0000"/>
<rect x="206.4" y="246.55" width="18.6" height="12.2" fill="#ef0000"/>
<rect x="224" y="246.55" width="16" height="12.2" fill="#df0000"/>
<rect x="89.6" y="257.75" width="17" height="10.6" fill="#30ffcf"/>
<rect x="105.6" y="257.75" width="18.6" height="10.6" fill="#bfff40"/>
<rect x="123.2" y="257.75" width="17" height="10.6" fill="#ffef00"/>
<rect x="139.2" y="257.75" width="18.6" height="10.6" fill="#ffbf00"/>
<rect x="156.8" y="257.75" width="17" height="10.6" fill="#ff9f00"/>
<rect x="172.8" y="257.75" width="18.6" height="10.6" fill="#ff8f00"/>
<rect x="190.4" y="257.75" width="17" height="10.6" fill="#ff8000"/>
<rect x="206.4" y="257.75" width="18.6" height="10.6" fill="#ff8000"/>
<rect x="224" y="257.75" width="16" height="10.6" fill="#ff8000"/>
<rect x="89.6" y="267.35" width="17" height="12.2" fill="#009fff"/>
<rect x="105.6" y="267.35" width="18.6" height="12.2" fill="#10ffef"/>
<rect x="123.2" y="267.35" width="17" height="12.2" fill="#60ff9f"/>
<rect x="139.2" y="267.35" width="18.6" height="12.2" fill="#80ff80"/>
<rect x="156.8" y="267.35" width="17" height="12.2" fill="#9fff60"/>
<rect x="172.8" y="267.35" width="18.6" height="12.2" fill="#9fff60"/>
<rect x="190.4" y="267.35" width="17" height="12.2" fill="#9fff60"/>
<rect x="206.4" y="267.35" width="18.6" height="12.2" fill="#9fff60"/>
<rect x="224" y="267.35" width="16" height="12.2" fill="#8fff70"/>
<rect x="89.6" y="278.55" width="17" height="11.2" fill="#0000cf"/>
<rect x="105.6" y="278.55" width="18.6" height="11.2" fill="#0020ff"/>
<rect x="123.2" y="278.55" width="17" height="11.2" fill="#0050ff"/>
<rect x="139.2" y="278.55" width="18.6" height="11.2" fill="#0070ff"/>
<rect x="156.8" y="278.55" width="17" height="11.2" fill="#0080ff"/>
<rect x="172.8" y="278.55" width="18.6" height="11.2" fill="#0080ff"/>
<rect x="190.4" y="278.55" width="17" height="11.2" fill="#0070ff"/>
<rect x="206.4" y="278.55" width="18.6" height="11.2" fill="#0070ff"/>
<rect x="224" y="278.55" width="16" height="11.2" fill="#0060ff"/>
<path class="g" d="M105.6 224.15V289.75M123.2 224.15V289.75M139.2 224.15V289.75M156.8 224.15V289.75M172.8 224.15V289.75M190.4 224.15V289.75M206.4 224.15V289.75M224 224.15V289.75M89.6 235.35H240M89.6 246.55H240M89.6 257.75H240M89.6 267.35H240M89.6 278.55H240"/>
<path class="b" d="M89.6 289.75V224.15H240"/>
<path class="t" d="M89.5 224.35h3.7v1.8h-3.7zM105.5 224.35h3.7v1.8h-3.7zM123.1 224.35h3.7v1.8h-3.7zM139.1 224.35h3.7v1.8h-3.7zM156.7 224.35h3.7v1.8h-3.7zM172.7 224.35h3.7v1.8h-3.7zM190.3 224.35h3.7v1.8h-3.7zM206.3 224.35h3.7v1.8h-3.7zM223.9 224.35h3.7v1.8h-3.7zM239.9 224.35h3.7v1.8h-3.7zM89.5 235.55h3.7v1.8h-3.7zM105.5 235.55h3.7v1.8h-3.7zM123.1 235.55h3.7v1.8h-3.7zM139.1 235.55h3.7v1.8h-3.7zM156.7 235.55h3.7v1.8h-3.7zM172.7 235.55h3.7v1.8h-3.7zM190.3 235.55h3.7v1.8h-3.7zM206.3 235.55h3.7v1.8h-3.7zM223.9 235.55h3.7v1.8h-3.7zM239.9 235.55h3.7v1.8h-3.7zM89.5 246.75h3.7v1.8h-3.7zM105.5 246.75h3.7v1.8h-3.7zM123.1 246.75h3.7v1.8h-3.7zM139.1 246.75h3.7v1.8h-3.7zM156.7 246.75h3.7v1.8h-3.7zM172.7 246.75h3.7v1.8h-3.7zM190.3 246.75h3.7v1.8h-3.7zM206.3 246.75h3.7v1.8h-3.7zM223.9 246.75h3.7v1.8h-3.7zM239.9 246.75h3.7v1.8h-3.7zM89.5 257.95h3.7v1.8h-3.7zM105.5 257.95h3.7v1.8h-3.7zM123.1 257.95h3.7v1.8h-3.7zM139.1 257.95h3.7v1.8h-3.7zM156.7 257.95h3.7v1.8h-3.7zM172.7 257.95h3.7v1.8h-3.7zM190.3 257.95h3.7v1.8h-3.7zM206.3 257.95h3.7v1.8h-3.7zM223.9 257.95h3.7v1.8h-3.7zM239.9 257.95h3.7v1.8h-3.7zM89.5 267.55h3.7v1.8h-3.7zM105.5 267.55h3.7v1.8h-3.7zM123.1 267.55h3.7v1.8h-3.7zM139.1 267.55h3.7v1.8h-3.7zM156.7 267.55h3.7v1.8h-3.7zM172.7 267.55h3.7v1.8h-3.7zM190.3 267.55h3.7v1.8h-3.7zM206.3 267.55h3.7v1.8h-3.7zM223.9 267.55h3.7v1.8h-3.7zM239.9 267.55h3.7v1.8h-3.7zM89.5 278.75h3.7v1.8h-3.7zM105.5 278.75h3.7v1.8h-3.7zM123.1 278.75h3.7v1.8h-3.7zM139.1 278.75h3.7v1.8h-3.7zM156.7 278.75h3.7v1.8h-3.7zM172.7 278.75h3.7v1.8h-3.7zM190.3 278.75h3.7v1.8h-3.7zM206.3 278.75h3.7v1.8h-3.7zM223.9 278.75h3.7v1.8h-3.7zM239.9 278.75h3.7v1.8h-3.7zM105.5 289.95h3.7v1.8h-3.7zM123.1 289.95h3.7v1.8h-3.7zM139.1 289.95h3.7v1.8h-3.7zM156.7 289.95h3.7v1.8h-3.7zM172.7 289.95h3.7v1.8h-3.7zM190.3 289.95h3.7v1.8h-3.7zM206.3 289.95h3.7v1.8h-3.7zM223.9 289.95h3.7v1.8h-3.7zM239.9 289.95h3.7v1.8h-3.7z"/>
</g>
<g>
<rect x="257.6" y="224.15" width="17" height="12.2" fill="#dfff20"/>
<rect x="273.6" y="224.15" width="18.6" height="12.2" fill="#ff8f00"/>
<rect x="291.2" y="224.15" width="17" height="12.2" fill="#ff3000"/>
<rect x="307.2" y="224.15" width="18.6" height="12.2" fill="#ff0000"/>
<rect x="324.8" y="224.15" width="17" height="12.2" fill="#df0000"/>
<rect x="340.8" y="224.15" width="17" height="12.2" fill="#bf0000"/>
<rect x="356.8" y="224.15" width="18.6" height="12.2" fill="#af0000"/>
<rect x="374.4" y="224.15" width="17" height="12.2" fill="#af0000"/>
<rect x="390.4" y="224.15" width="17.6" height="12.2" fill="#9f0000"/>
<rect x="257.6" y="235.35" width="17" height="12.2" fill="#ffff00"/>
<rect x="273.6" y="235.35" width="18.6" height="12.2" fill="#ff7000"/>
<rect x="291.2" y="235.35" width="17" height="12.2" fill="#ff2000"/>
<rect x="307.2" y="235.35" width="18.6" height="12.2" fill="#df0000"/>
<rect x="324.8" y="235.35" width="17" height="12.2" fill="#bf0000"/>
<rect x="340.8" y="235.35" width="17" height="12.2" fill="#af0000"/>
<rect x="356.8" y="235.35" width="18.6" height="12.2" fill="#9f0000"/>
<rect x="374.4" y="235.35" width="17" height="12.2" fill="#8f0000"/>
<rect x="390.4" y="235.35" width="17.6" height="12.2" fill="#8f0000"/>
<rect x="257.6" y="246.55" width="17" height="12.2" fill="#dfff20"/>
<rect x="273.6" y="246.55" width="18.6" height="12.2" fill="#ff8f00"/>
<rect x="291.2" y="246.55" width="17" height="12.2" fill="#ff4000"/>
<rect x="307.2" y="246.55" width="18.6" height="12.2" fill="#ff1000"/>
<rect x="324.8" y="246.55" width="17" height="12.2" fill="#ef0000"/>
<rect x="340.8" y="246.55" width="17" height="12.2" fill="#df0000"/>
<rect x="356.8" y="246.55" width="18.6" height="12.2" fill="#cf0000"/>
<rect x="374.4" y="246.55" width="17" height="12.2" fill="#cf0000"/>
<rect x="390.4" y="246.55" width="17.6" height="12.2" fill="#cf0000"/>
<rect x="257.6" y="257.75" width="17" height="10.6" fill="#8fff70"/>
<rect x="273.6" y="257.75" width="18.6" height="10.6" fill="#ffef00"/>
<rect x="291.2" y="257.75" width="17" height="10.6" fill="#ffaf00"/>
<rect x="307.2" y="257.75" width="18.6" height="10.6" fill="#ff8f00"/>
<rect x="324.8" y="257.75" width="17" height="10.6" fill="#ff8000"/>
<rect x="340.8" y="257.75" width="17" height="10.6" fill="#ff7000"/>
<rect x="356.8" y="257.75" width="18.6" height="10.6" fill="#ff7000"/>
<rect x="374.4" y="257.75" width="17" height="10.6" fill="#ff6000"/>
<rect x="390.4" y="257.75" width="17.6" height="10.6" fill="#ff7000"/>
<rect x="257.6" y="267.35" width="17" height="12.2" fill="#00ffff"/>
<rect x="273.6" y="267.35" width="18.6" height="12.2" fill="#60ff9f"/>
<rect x="291.2" y="267.35" width="17" height="12.2" fill="#9fff60"/>
<rect x="307.2" y="267.35" width="18.6" height="12.2" fill="#bfff40"/>
<rect x="324.8" y="267.35" width="17" height="12.2" fill="#cfff30"/>
<rect x="340.8" y="267.35" width="17" height="12.2" fill="#cfff30"/>
<rect x="356.8" y="267.35" width="18.6" height="12.2" fill="#cfff30"/>
<rect x="374.4" y="267.35" width="17" height="12.2" fill="#bfff40"/>
<rect x="390.4" y="267.35" width="17.6" height="12.2" fill="#bfff40"/>
<rect x="257.6" y="278.55" width="17" height="11.2" fill="#0020ff"/>
<rect x="273.6" y="278.55" width="18.6" height="11.2" fill="#0070ff"/>
<rect x="291.2" y="278.55" width="17" height="11.2" fill="#009fff"/>
<rect x="307.2" y="278.55" width="18.6" height="11.2" fill="#00afff"/>
<rect x="324.8" y="278.55" width="17" height="11.2" fill="#00afff"/>
<rect x="340.8" y="278.55" width="17" height="11.2" fill="#00afff"/>
<rect x="356.8" y="278.55" width="18.6" height="11.2" fill="#009fff"/>
<rect x="374.4" y="278.55" width="17" height="11.2" fill="#008fff"/>
<rect x="390.4" y="278.55" width="17.6" height="11.2" fill="#0080ff"/>
<path class="g" d="M273.6 224.15V289.75M291.2 224.15V289.75M307.2 224.15V289.75M324.8 224.15V289.75M340.8 224.15V289.75M356.8 224.15V289.75M374.4 224.15V289.75M390.4 224.15V289.75M257.6 235.35H408M257.6 246.55H408M257.6 257.75H408M257.6 267.35H408M257.6 278.55H408"/>
<path class="b" d="M257.6 289.75V224.15H408"/>
<path class="t" d="M257.5 224.35h3.7v1.8h-3.7zM273.5 224.35h3.7v1.8h-3.7zM291.1 224.35h3.7v1.8h-3.7zM307.1 224.35h3.7v1.8h-3.7zM324.7 224.35h3.7v1.8h-3.7zM340.7 224.35h3.7v1.8h-3.7zM356.7 224.35h3.7v1.8h-3.7zM374.3 224.35h3.7v1.8h-3.7zM390.3 224.35h3.7v1.8h-3.7zM407.9 224.35h3.7v1.8h-3.7zM257.5 235.55h3.7v1.8h-3.7zM273.5 235.55h3.7v1.8h-3.7zM291.1 235.55h3.7v1.8h-3.7zM307.1 235.55h3.7v1.8h-3.7zM324.7 235.55h3.7v1.8h-3.7zM340.7 235.55h3.7v1.8h-3.7zM356.7 235.55h3.7v1.8h-3.7zM374.3 235.55h3.7v1.8h-3.7zM390.3 235.55h3.7v1.8h-3.7zM407.9 235.55h3.7v1.8h-3.7zM257.5 246.75h3.7v1.8h-3.7zM273.5 246.75h3.7v1.8h-3.7zM291.1 246.75h3.7v1.8h-3.7zM307.1 246.75h3.7v1.8h-3.7zM324.7 246.75h3.7v1.8h-3.7zM340.7 246.75h3.7v1.8h-3.7zM356.7 246.75h3.7v1.8h-3.7zM374.3 246.75h3.7v1.8h-3.7zM390.3 246.75h3.7v1.8h-3.7zM407.9 246.75h3.7v1.8h-3.7zM257.5 257.95h3.7v1.8h-3.7zM273.5 257.95h3.7v1.8h-3.7zM291.1 257.95h3.7v1.8h-3.7zM307.1 257.95h3.7v1.8h-3.7zM324.7 257.95h3.7v1.8h-3.7zM340.7 257.95h3.7v1.8h-3.7zM356.7 257.95h3.7v1.8h-3.7zM374.3 257.95h3.7v1.8h-3.7zM390.3 257.95h3.7v1.8h-3.7zM407.9 257.95h3.7v1.8h-3.7zM257.5 267.55h3.7v1.8h-3.7zM273.5 267.55h3.7v1.8h-3.7zM291.1 267.55h3.7v1.8h-3.7zM307.1 267.55h3.7v1.8h-3.7zM324.7 267.55h3.7v1.8h-3.7zM340.7 267.55h3.7v1.8h-3.7zM356.7 267.55h3.7v1.8h-3.7zM374.3 267.55h3.7v1.8h-3.7zM390.3 267.55h3.7v1.8h-3.7zM407.9 267.55h3.7v1.8h-3.7zM257.5 278.75h3.7v1.8h-3.7zM273.5 278.75h3.7v1.8h-3.7zM291.1 278.75h3.7v1.8h-3.7zM307.1 278.75h3.7v1.8h-3.7zM324.7 278.75h3.7v1.8h-3.7zM340.7 278.75h3.7v1.8h-3.7zM356.7 278.75h3.7v1.8h-3.7zM374.3 278.75h3.7v1.8h-3.7zM390.3 278.75h3.7v1.8h-3.7zM407.9 278.75h3.7v1.8h-3.7zM273.5 289.95h3.7v1.8h-3.7zM291.1 289.95h3.7v1.8h-3.7zM307.1 289.95h3.7v1.8h-3.7zM324.7 289.95h3.7v1.8h-3.7zM340.7 289.95h3.7v1.8h-3.7zM356.7 289.95h3.7v1.8h-3.7zM374.3 289.95h3.7v1.8h-3.7zM390.3 289.95h3.7v1.8h-3.7zM407.9 289.95h3.7v1.8h-3.7z"/>
</g>
<g>
<rect x="424" y="224.15" width="18.6" height="12.2" fill="#efff10"/>
<rect x="441.6" y="224.15" width="17" height="12.2" fill="#ff8000"/>
<rect x="457.6" y="224.15" width="18.6" height="12.2" fill="#ff3000"/>
<rect x="475.2" y="224.15" width="17" height="12.2" fill="#ef0000"/>
<rect x="491.2" y="224.15" width="18.6" height="12.2" fill="#cf0000"/>
<rect x="508.8" y="224.15" width="17" height="12.2" fill="#bf0000"/>
<rect x="524.8" y="224.15" width="18.6" height="12.2" fill="#af0000"/>
<rect x="542.4" y="224.15" width="17" height="12.2" fill="#9f0000"/>
<rect x="558.4" y="224.15" width="17.6" height="12.2" fill="#9f0000"/>
<rect x="424" y="235.35" width="18.6" height="12.2" fill="#ffdf00"/>
<rect x="441.6" y="235.35" width="17" height="12.2" fill="#ff6000"/>
<rect x="457.6" y="235.35" width="18.6" height="12.2" fill="#ff0000"/>
<rect x="475.2" y="235.35" width="17" height="12.2" fill="#cf0000"/>
<rect x="491.2" y="235.35" width="18.6" height="12.2" fill="#af0000"/>
<rect x="508.8" y="235.35" width="17" height="12.2" fill="#9f0000"/>
<rect x="524.8" y="235.35" width="18.6" height="12.2" fill="#8f0000"/>
<rect x="542.4" y="235.35" width="17" height="12.2" fill="#800000"/>
<rect x="558.4" y="235.35" width="17.6" height="12.2" fill="#800000"/>
<rect x="424" y="246.55" width="18.6" height="12.2" fill="#ffff00"/>
<rect x="441.6" y="246.55" width="17" height="12.2" fill="#ff7000"/>
<rect x="457.6" y="246.55" width="18.6" height="12.2" fill="#ff2000"/>
<rect x="475.2" y="246.55" width="17" height="12.2" fill="#ef0000"/>
<rect x="491.2" y="246.55" width="18.6" height="12.2" fill="#df0000"/>
<rect x="508.8" y="246.55" width="17" height="12.2" fill="#cf0000"/>
<rect x="524.8" y="246.55" width="18.6" height="12.2" fill="#bf0000"/>
<rect x="542.4" y="246.55" width="17" height="12.2" fill="#bf0000"/>
<rect x="558.4" y="246.55" width="17.6" height="12.2" fill="#bf0000"/>
<rect x="424" y="257.75" width="18.6" height="10.6" fill="#bfff40"/>
<rect x="441.6" y="257.75" width="17" height="10.6" fill="#ffcf00"/>
<rect x="457.6" y="257.75" width="18.6" height="10.6" fill="#ff8f00"/>
<rect x="475.2" y="257.75" width="17" height="10.6" fill="#ff6000"/>
<rect x="491.2" y="257.75" width="18.6" height="10.6" fill="#ff5000"/>
<rect x="508.8" y="257.75" width="17" height="10.6" fill="#ff4000"/>
<rect x="524.8" y="257.75" width="18.6" height="10.6" fill="#ff4000"/>
<rect x="542.4" y="257.75" width="17" height="10.6" fill="#ff4000"/>
<rect x="558.4" y="257.75" width="17.6" height="10.6" fill="#ff4000"/>
<rect x="424" y="267.35" width="18.6" height="12.2" fill="#30ffcf"/>
<rect x="441.6" y="267.35" width="17" height="12.2" fill="#8fff70"/>
<rect x="457.6" y="267.35" width="18.6" height="12.2" fill="#bfff40"/>
<rect x="475.2" y="267.35" width="17" height="12.2" fill="#dfff20"/>
<rect x="491.2" y="267.35" width="18.6" height="12.2" fill="#efff10"/>
<rect x="508.8" y="267.35" width="17" height="12.2" fill="#efff10"/>
<rect x="524.8" y="267.35" width="18.6" height="12.2" fill="#efff10"/>
<rect x="542.4" y="267.35" width="17" height="12.2" fill="#dfff20"/>
<rect x="558.4" y="267.35" width="17.6" height="12.2" fill="#dfff20"/>
<rect x="424" y="278.55" width="18.6" height="11.2" fill="#0050ff"/>
<rect x="441.6" y="278.55" width="17" height="11.2" fill="#009fff"/>
<rect x="457.6" y="278.55" width="18.6" height="11.2" fill="#00bfff"/>
<rect x="475.2" y="278.55" width="17" height="11.2" fill="#00cfff"/>
<rect x="491.2" y="278.55" width="18.6" height="11.2" fill="#00dfff"/>
<rect x="508.8" y="278.55" width="17" height="11.2" fill="#00cfff"/>
<rect x="524.8" y="278.55" width="18.6" height="11.2" fill="#00bfff"/>
<rect x="542.4" y="278.55" width="17" height="11.2" fill="#00afff"/>
<rect x="558.4" y="278.55" width="17.6" height="11.2" fill="#00afff"/>
<path class="g" d="M441.6 224.15V289.75M457.6 224.15V289.75M475.2 224.15V289.75M491.2 224.15V289.75M508.8 224.15V289.75M524.8 224.15V289.75M542.4 224.15V289.75M558.4 224.15V289.75M424 235.35H576M424 246.55H576M424 257.75H576M424 267.35H576M424 278.55H576"/>
<path class="b" d="M424 289.75V224.15H576"/>
<path class="t" d="M423.9 224.35h3.7v1.8h-3.7zM441.5 224.35h3.7v1.8h-3.7zM457.5 224.35h3.7v1.8h-3.7zM475.1 224.35h3.7v1.8h-3.7zM491.1 224.35h3.7v1.8h-3.7zM508.7 224.35h3.7v1.8h-3.7zM524.7 224.35h3.7v1.8h-3.7zM542.3 224.35h3.7v1.8h-3.7zM558.3 224.35h3.7v1.8h-3.7zM575.9 224.35h3.7v1.8h-3.7zM423.9 235.55h3.7v1.8h-3.7zM441.5 235.55h3.7v1.8h-3.7zM457.5 235.55h3.7v1.8h-3.7zM475.1 235.55h3.7v1.8h-3.7zM491.1 235.55h3.7v1.8h-3.7zM508.7 235.55h3.7v1.8h-3.7zM524.7 235.55h3.7v1.8h-3.7zM542.3 235.55h3.7v1.8h-3.7zM558.3 235.55h3.7v1.8h-3.7zM575.9 235.55h3.7v1.8h-3.7zM423.9 246.75h3.7v1.8h-3.7zM441.5 246.75h3.7v1.8h-3.7zM457.5 246.75h3.7v1.8h-3.7zM475.1 246.75h3.7v1.8h-3.7zM491.1 246.75h3.7v1.8h-3.7zM508.7 246.75h3.7v1.8h-3.7zM524.7 246.75h3.7v1.8h-3.7zM542.3 246.75h3.7v1.8h-3.7zM558.3 246.75h3.7v1.8h-3.7zM575.9 246.75h3.7v1.8h-3.7zM423.9 257.95h3.7v1.8h-3.7zM441.5 257.95h3.7v1.8h-3.7zM457.5 257.95h3.7v1.8h-3.7zM475.1 257.95h3.7v1.8h-3.7zM491.1 257.95h3.7v1.8h-3.7zM508.7 257.95h3.7v1.8h-3.7zM524.7 257.95h3.7v1.8h-3.7zM542.3 257.95h3.7v1.8h-3.7zM558.3 257.95h3.7v1.8h-3.7zM575.9 257.95h3.7v1.8h-3.7zM423.9 267.55h3.7v1.8h-3.7zM441.5 267.55h3.7v1.8h-3.7zM457.5 267.55h3.7v1.8h-3.7zM475.1 267.55h3.7v1.8h-3.7zM491.1 267.55h3.7v1.8h-3.7zM508.7 267.55h3.7v1.8h-3.7zM524.7 267.55h3.7v1.8h-3.7zM542.3 267.55h3.7v1.8h-3.7zM558.3 267.55h3.7v1.8h-3.7zM575.9 267.55h3.7v1.8h-3.7zM423.9 278.75h3.7v1.8h-3.7zM441.5 278.75h3.7v1.8h-3.7zM457.5 278.75h3.7v1.8h-3.7zM475.1 278.75h3.7v1.8h-3.7zM491.1 278.75h3.7v1.8h-3.7zM508.7 278.75h3.7v1.8h-3.7zM524.7 278.75h3.7v1.8h-3.7zM542.3 278.75h3.7v1.8h-3.7zM558.3 278.75h3.7v1.8h-3.7zM575.9 278.75h3.7v1.8h-3.7zM441.5 289.95h3.7v1.8h-3.7zM457.5 289.95h3.7v1.8h-3.7zM475.1 289.95h3.7v1.8h-3.7zM491.1 289.95h3.7v1.8h-3.7zM508.7 289.95h3.7v1.8h-3.7zM524.7 289.95h3.7v1.8h-3.7zM542.3 289.95h3.7v1.8h-3.7zM558.3 289.95h3.7v1.8h-3.7zM575.9 289.95h3.7v1.8h-3.7z"/>
</g>
<g>
<rect x="592" y="224.15" width="18.6" height="12.2" fill="#cfff30"/>
<rect x="609.6" y="224.15" width="17" height="12.2" fill="#ff9f00"/>
<rect x="625.6" y="224.15" width="18.6" height="12.2" fill="#ff4000"/>
<rect x="643.2" y="224.15" width="17" height="12.2" fill="#ff1000"/>
<rect x="659.2" y="224.15" width="17" height="12.2" fill="#df0000"/>
<rect x="675.2" y="224.15" width="18.6" height="12.2" fill="#bf0000"/>
<rect x="692.8" y="224.15" width="17" height="12.2" fill="#af0000"/>
<rect x="708.8" y="224.15" width="18.6" height="12.2" fill="#9f0000"/>
<rect x="726.4" y="224.15" width="16" height="12.2" fill="#9f0000"/>
<rect x="592" y="235.35" width="18.6" height="12.2" fill="#ffff00"/>
<rect x="609.6" y="235.35" width="17" height="12.2" fill="#ff7000"/>
<rect x="625.6" y="235.35" width="18.6" height="12.2" fill="#ff1000"/>
<rect x="643.2" y="235.35" width="17" height="12.2" fill="#df0000"/>
<rect x="659.2" y="235.35" width="17" height="12.2" fill="#bf0000"/>
<rect x="675.2" y="235.35" width="18.6" height="12.2" fill="#9f0000"/>
<rect x="692.8" y="235.35" width="17" height="12.2" fill="#8f0000"/>
<rect x="708.8" y="235.35" width="18.6" height="12.2" fill="#800000"/>
<rect x="726.4" y="235.35" width="16" height="12.2" fill="#800000"/>
<rect x="592" y="246.55" width="18.6" height="12.2" fill="#ffff00"/>
<rect x="609.6" y="246.55" width="17" height="12.2" fill="#ff8000"/>
<rect x="625.6" y="246.55" width="18.6" height="12.2" fill="#ff3000"/>
<rect x="643.2" y="246.55" width="17" height="12.2" fill="#ff0000"/>
<rect x="659.2" y="246.55" width="17" height="12.2" fill="#df0000"/>
<rect x="675.2" y="246.55" width="18.6" height="12.2" fill="#bf0000"/>
<rect x="692.8" y="246.55" width="17" height="12.2" fill="#bf0000"/>
<rect x="708.8" y="246.55" width="18.6" height="12.2" fill="#af0000"/>
<rect x="726.4" y="246.55" width="16" height="12.2" fill="#af0000"/>
<rect x="592" y="257.75" width="18.6" height="10.6" fill="#bfff40"/>
<rect x="609.6" y="257.75" width="17" height="10.6" fill="#ffcf00"/>
<rect x="625.6" y="257.75" width="18.6" height="10.6" fill="#ff8f00"/>
<rect x="643.2" y="257.75" width="17" height="10.6" fill="#ff6000"/>
<rect x="659.2" y="257.75" width="17" height="10.6" fill="#ff5000"/>
<rect x="675.2" y="257.75" width="18.6" height="10.6" fill="#ff4000"/>
<rect x="692.8" y="257.75" width="17" height="10.6" fill="#ff3000"/>
<rect x="708.8" y="257.75" width="18.6" height="10.6" fill="#ff3000"/>
<rect x="726.4" y="257.75" width="16" height="10.6" fill="#ff3000"/>
<rect x="592" y="267.35" width="18.6" height="12.2" fill="#30ffcf"/>
<rect x="609.6" y="267.35" width="17" height="12.2" fill="#9fff60"/>
<rect x="625.6" y="267.35" width="18.6" height="12.2" fill="#cfff30"/>
<rect x="643.2" y="267.35" width="17" height="12.2" fill="#efff10"/>
<rect x="659.2" y="267.35" width="17" height="12.2" fill="#ffff00"/>
<rect x="675.2" y="267.35" width="18.6" height="12.2" fill="#ffff00"/>
<rect x="692.8" y="267.35" width="17" height="12.2" fill="#ffff00"/>
<rect x="708.8" y="267.35" width="18.6" height="12.2" fill="#ffff00"/>
<rect x="726.4" y="267.35" width="16" height="12.2" fill="#efff10"/>
<rect x="592" y="278.55" width="18.6" height="11.2" fill="#0060ff"/>
<rect x="609.6" y="278.55" width="17" height="11.2" fill="#00afff"/>
<rect x="625.6" y="278.55" width="18.6" height="11.2" fill="#00dfff"/>
<rect x="643.2" y="278.55" width="17" height="11.2" fill="#00efff"/>
<rect x="659.2" y="278.55" width="17" height="11.2" fill="#00efff"/>
<rect x="675.2" y="278.55" width="18.6" height="11.2" fill="#00efff"/>
<rect x="692.8" y="278.55" width="17" height="11.2" fill="#00dfff"/>
<rect x="708.8" y="278.55" width="18.6" height="11.2" fill="#00cfff"/>
<rect x="726.4" y="278.55" width="16" height="11.2" fill="#00bfff"/>
<path class="g" d="M609.6 224.15V289.75M625.6 224.15V289.75M643.2 224.15V289.75M659.2 224.15V289.75M675.2 224.15V289.75M692.8 224.15V289.75M708.8 224.15V289.75M726.4 224.15V289.75M592 235.35H742.4M592 246.55H742.4M592 257.75H742.4M592 267.35H742.4M592 278.55H742.4"/>
<path class="b" d="M592 289.75V224.15H742.4"/>
<path class="t" d="M591.9 224.35h3.7v1.8h-3.7zM609.5 224.35h3.7v1.8h-3.7zM625.5 224.35h3.7v1.8h-3.7zM643.1 224.35h3.7v1.8h-3.7zM659.1 224.35h3.7v1.8h-3.7zM675.1 224.35h3.7v1.8h-3.7zM692.7 224.35h3.7v1.8h-3.7zM708.7 224.35h3.7v1.8h-3.7zM726.3 224.35h3.7v1.8h-3.7zM742.3 224.35h3.7v1.8h-3.7zM591.9 235.55h3.7v1.8h-3.7zM609.5 235.55h3.7v1.8h-3.7zM625.5 235.55h3.7v1.8h-3.7zM643.1 235.55h3.7v1.8h-3.7zM659.1 235.55h3.7v1.8h-3.7zM675.1 235.55h3.7v1.8h-3.7zM692.7 235.55h3.7v1.8h-3.7zM708.7 235.55h3.7v1.8h-3.7zM726.3 235.55h3.7v1.8h-3.7zM742.3 235.55h3.7v1.8h-3.7zM591.9 246.75h3.7v1.8h-3.7zM609.5 246.75h3.7v1.8h-3.7zM625.5 246.75h3.7v1.8h-3.7zM643.1 246.75h3.7v1.8h-3.7zM659.1 246.75h3.7v1.8h-3.7zM675.1 246.75h3.7v1.8h-3.7zM692.7 246.75h3.7v1.8h-3.7zM708.7 246.75h3.7v1.8h-3.7zM726.3 246.75h3.7v1.8h-3.7zM742.3 246.75h3.7v1.8h-3.7zM591.9 257.95h3.7v1.8h-3.7zM609.5 257.95h3.7v1.8h-3.7zM625.5 257.95h3.7v1.8h-3.7zM643.1 257.95h3.7v1.8h-3.7zM659.1 257.95h3.7v1.8h-3.7zM675.1 257.95h3.7v1.8h-3.7zM692.7 257.95h3.7v1.8h-3.7zM708.7 257.95h3.7v1.8h-3.7zM726.3 257.95h3.7v1.8h-3.7zM742.3 257.95h3.7v1.8h-3.7zM591.9 267.55h3.7v1.8h-3.7zM609.5 267.55h3.7v1.8h-3.7zM625.5 267.55h3.7v1.8h-3.7zM643.1 267.55h3.7v1.8h-3.7zM659.1 267.55h3.7v1.8h-3.7zM675.1 267.55h3.7v1.8h-3.7zM692.7 267.55h3.7v1.8h-3.7zM708.7 267.55h3.7v1.8h-3.7zM726.3 267.55h3.7v1.8h-3.7zM742.3 267.55h3.7v1.8h-3.7zM591.9 278.75h3.7v1.8h-3.7zM609.5 278.75h3.7v1.8h-3.7zM625.5 278.75h3.7v1.8h-3.7zM643.1 278.75h3.7v1.8h-3.7zM659.1 278.75h3.7v1.8h-3.7zM675.1 278.75h3.7v1.8h-3.7zM692.7 278.75h3.7v1.8h-3.7zM708.7 278.75h3.7v1.8h-3.7zM726.3 278.75h3.7v1.8h-3.7zM742.3 278.75h3.7v1.8h-3.7zM609.5 289.95h3.7v1.8h-3.7zM625.5 289.95h3.7v1.8h-3.7zM643.1 289.95h3.7v1.8h-3.7zM659.1 289.95h3.7v1.8h-3.7zM675.1 289.95h3.7v1.8h-3.7zM692.7 289.95h3.7v1.8h-3.7zM708.7 289.95h3.7v1.8h-3.7zM726.3 289.95h3.7v1.8h-3.7zM742.3 289.95h3.7v1.8h-3.7z"/>
</g>
<g>
<rect x="760" y="224.15" width="17" height="12.2" fill="#70ff8f"/>
<rect x="776" y="224.15" width="18.6" height="12.2" fill="#ffef00"/>
<rect x="793.6" y="224.15" width="17" height="12.2" fill="#ff8000"/>
<rect x="809.6" y="224.15" width="18.6" height="12.2" fill="#ff4000"/>
<rect x="827.2" y="224.15" width="17" height="12.2" fill="#ff1000"/>
<rect x="843.2" y="224.15" width="18.6" height="12.2" fill="#df0000"/>
<rect x="860.8" y="224.15" width="17" height="12.2" fill="#cf0000"/>
<rect x="876.8" y="224.15" width="18.6" height="12.2" fill="#bf0000"/>
<rect x="894.4" y="224.15" width="16" height="12.2" fill="#af0000"/>
<rect x="760" y="235.35" width="17" height="12.2" fill="#afff50"/>
<rect x="776" y="235.35" width="18.6" height="12.2" fill="#ffaf00"/>
<rect x="793.6" y="235.35" width="17" height="12.2" fill="#ff5000"/>
<rect x="809.6" y="235.35" width="18.6" height="12.2" fill="#ff1000"/>
<rect x="827.2" y="235.35" width="17" height="12.2" fill="#df0000"/>
<rect x="843.2" y="235.35" width="18.6" height="12.2" fill="#bf0000"/>
<rect x="860.8" y="235.35" width="17" height="12.2" fill="#9f0000"/>
<rect x="876.8" y="235.35" width="18.6" height="12.2" fill="#8f0000"/>
<rect x="894.4" y="235.35" width="16" height="12.2" fill="#8f0000"/>
<rect x="760" y="246.55" width="17" height="12.2" fill="#bfff40"/>
<rect x="776" y="246.55" width="18.6" height="12.2" fill="#ffaf00"/>
<rect x="793.6" y="246.55" width="17" height="12.2" fill="#ff6000"/>
<rect x="809.6" y="246.55" width="18.6" height="12.2" fill="#ff2000"/>
<rect x="827.2" y="246.55" width="17" height="12.2" fill="#ef0000"/>
<rect x="843.2" y="246.55" width="18.6" height="12.2" fill="#df0000"/>
<rect x="860.8" y="246.55" width="17" height="12.2" fill="#cf0000"/>
<rect x="876.8" y="246.55" width="18.6" height="12.2" fill="#bf0000"/>
<rect x="894.4" y="246.55" width="16" height="12.2" fill="#af0000"/>
<rect x="760" y="257.75" width="17" height="10.6" fill="#8fff70"/>
<rect x="776" y="257.75" width="18.6" height="10.6" fill="#ffff00"/>
<rect x="793.6" y="257.75" width="17" height="10.6" fill="#ffaf00"/>
<rect x="809.6" y="257.75" width="18.6" height="10.6" fill="#ff8000"/>
<rect x="827.2" y="257.75" width="17" height="10.6" fill="#ff6000"/>
<rect x="843.2" y="257.75" width="18.6" height="10.6" fill="#ff4000"/>
<rect x="860.8" y="257.75" width="17" height="10.6" fill="#ff4000"/>
<rect x="876.8" y="257.75" width="18.6" height="10.6" fill="#ff3000"/>
<rect x="894.4" y="257.75" width="16" height="10.6" fill="#ff3000"/>
<rect x="760" y="267.35" width="17" height="12.2" fill="#10ffef"/>
<rect x="776" y="267.35" width="18.6" height="12.2" fill="#80ff80"/>
<rect x="793.6" y="267.35" width="17" height="12.2" fill="#bfff40"/>
<rect x="809.6" y="267.35" width="18.6" height="12.2" fill="#dfff20"/>
<rect x="827.2" y="267.35" width="17" height="12.2" fill="#efff10"/>
<rect x="843.2" y="267.35" width="18.6" height="12.2" fill="#ffff00"/>
<rect x="860.8" y="267.35" width="17" height="12.2" fill="#ffff00"/>
<rect x="876.8" y="267.35" width="18.6" height="12.2" fill="#ffff00"/>
<rect x="894.4" y="267.35" width="16" height="12.2" fill="#ffff00"/>
<rect x="760" y="278.55" width="17" height="11.2" fill="#0050ff"/>
<rect x="776" y="278.55" width="18.6" height="11.2" fill="#009fff"/>
<rect x="793.6" y="278.55" width="17" height="11.2" fill="#00cfff"/>
<rect x="809.6" y="278.55" width="18.6" height="11.2" fill="#00dfff"/>
<rect x="827.2" y="278.55" width="17" height="11.2" fill="#00efff"/>
<rect x="843.2" y="278.55" width="18.6" height="11.2" fill="#00efff"/>
<rect x="860.8" y="278.55" width="17" height="11.2" fill="#00efff"/>
<rect x="876.8" y="278.55" width="18.6" height="11.2" fill="#00dfff"/>
<rect x="894.4" y="278.55" width="16" height="11.2" fill="#00dfff"/>
<path class="g" d="M776 224.15V289.75M793.6 224.15V289.75M809.6 224.15V289.75M827.2 224.15V289.75M843.2 224.15V289.75M860.8 224.15V289.75M876.8 224.15V289.75M894.4 224.15V289.75M760 235.35H910.4M760 246.55H910.4M760 257.75H910.4M760 267.35H910.4M760 278.55H910.4"/>
<path class="b" d="M760 289.75V224.15H910.4"/>
<path class="t" d="M759.9 224.35h3.7v1.8h-3.7zM775.9 224.35h3.7v1.8h-3.7zM793.5 224.35h3.7v1.8h-3.7zM809.5 224.35h3.7v1.8h-3.7zM827.1 224.35h3.7v1.8h-3.7zM843.1 224.35h3.7v1.8h-3.7zM860.7 224.35h3.7v1.8h-3.7zM876.7 224.35h3.7v1.8h-3.7zM894.3 224.35h3.7v1.8h-3.7zM910.3 224.35h3.7v1.8h-3.7zM759.9 235.55h3.7v1.8h-3.7zM775.9 235.55h3.7v1.8h-3.7zM793.5 235.55h3.7v1.8h-3.7zM809.5 235.55h3.7v1.8h-3.7zM827.1 235.55h3.7v1.8h-3.7zM843.1 235.55h3.7v1.8h-3.7zM860.7 235.55h3.7v1.8h-3.7zM876.7 235.55h3.7v1.8h-3.7zM894.3 235.55h3.7v1.8h-3.7zM910.3 235.55h3.7v1.8h-3.7zM759.9 246.75h3.7v1.8h-3.7zM775.9 246.75h3.7v1.8h-3.7zM793.5 246.75h3.7v1.8h-3.7zM809.5 246.75h3.7v1.8h-3.7zM827.1 246.75h3.7v1.8h-3.7zM843.1 246.75h3.7v1.8h-3.7zM860.7 246.75h3.7v1.8h-3.7zM876.7 246.75h3.7v1.8h-3.7zM894.3 246.75h3.7v1.8h-3.7zM910.3 246.75h3.7v1.8h-3.7zM759.9 257.95h3.7v1.8h-3.7zM775.9 257.95h3.7v1.8h-3.7zM793.5 257.95h3.7v1.8h-3.7zM809.5 257.95h3.7v1.8h-3.7zM827.1 257.95h3.7v1.8h-3.7zM843.1 257.95h3.7v1.8h-3.7zM860.7 257.95h3.7v1.8h-3.7zM876.7 257.95h3.7v1.8h-3.7zM894.3 257.95h3.7v1.8h-3.7zM910.3 257.95h3.7v1.8h-3.7zM759.9 267.55h3.7v1.8h-3.7zM775.9 267.55h3.7v1.8h-3.7zM793.5 267.55h3.7v1.8h-3.7zM809.5 267.55h3.7v1.8h-3.7zM827.1 267.55h3.7v1.8h-3.7zM843.1 267.55h3.7v1.8h-3.7zM860.7 267.55h3.7v1.8h-3.7zM876.7 267.55h3.7v1.8h-3.7zM894.3 267.55h3.7v1.8h-3.7zM910.3 267.55h3.7v1.8h-3.7zM759.9 278.75h3.7v1.8h-3.7zM775.9 278.75h3.7v1.8h-3.7zM793.5 278.75h3.7v1.8h-3.7zM809.5 278.75h3.7v1.8h-3.7zM827.1 278.75h3.7v1.8h-3.7zM843.1 278.75h3.7v1.8h-3.7zM860.7 278.75h3.7v1.8h-3.7zM876.7 278.75h3.7v1.8h-3.7zM894.3 278.75h3.7v1.8h-3.7zM910.3 278.75h3.7v1.8h-3.7zM775.9 289.95h3.7v1.8h-3.7zM793.5 289.95h3.7v1.8h-3.7zM809.5 289.95h3.7v1.8h-3.7zM827.1 289.95h3.7v1.8h-3.7zM843.1 289.95h3.7v1.8h-3.7zM860.7 289.95h3.7v1.8h-3.7zM876.7 289.95h3.7v1.8h-3.7zM894.3 289.95h3.7v1.8h-3.7zM910.3 289.95h3.7v1.8h-3.7z"/>
</g>
<g>
<rect x="89.6" y="312.15" width="17" height="12.2" fill="#9fff60"/>
<rect x="105.6" y="312.15" width="18.6" height="12.2" fill="#ffcf00"/>
<rect x="123.2" y="312.15" width="17" height="12.2" fill="#ff7000"/>
<rect x="139.2" y="312.15" width="18.6" height="12.2" fill="#ff4000"/>
<rect x="156.8" y="312.15" width="17" height="12.2" fill="#ff1000"/>
<rect x="172.8" y="312.15" width="18.6" height="12.2" fill="#ef0000"/>
<rect x="190.4" y="312.15" width="17" height="12.2" fill="#df0000"/>
<rect x="206.4" y="312.15" width="18.6" height="12.2" fill="#cf0000"/>
<rect x="224" y="312.15" width="16" height="12.2" fill="#cf0000"/>
<rect x="89.6" y="323.35" width="17" height="12.2" fill="#bfff40"/>
<rect x="105.6" y="323.35" width="18.6" height="12.2" fill="#ffbf00"/>
<rect x="123.2" y="323.35" width="17" height="12.2" fill="#ff6000"/>
<rect x="139.2" y="323.35" width="18.6" height="12.2" fill="#ff2000"/>
<rect x="156.8" y="323.35" width="17" height="12.2" fill="#ff0000"/>
<rect x="172.8" y="323.35" width="18.6" height="12.2" fill="#df0000"/>
<rect x="190.4" y="323.35" width="17" height="12.2" fill="#cf0000"/>
<rect x="206.4" y="323.35" width="18.6" height="12.2" fill="#bf0000"/>
<rect x="224" y="323.35" width="16" height="12.2" fill="#bf0000"/>
<rect x="89.6" y="334.55" width="17" height="12.2" fill="#9fff60"/>
<rect x="105.6" y="334.55" width="18.6" height="12.2" fill="#ffdf00"/>
<rect x="123.2" y="334.55" width="17" height="12.2" fill="#ff8f00"/>
<rect x="139.2" y="334.55" width="18.6" height="12.2" fill="#ff5000"/>
<rect x="156.8" y="334.55" width="17" height="12.2" fill="#ff3000"/>
<rect x="172.8" y="334.55" width="18.6" height="12.2" fill="#ff1000"/>
<rect x="190.4" y="334.55" width="17" height="12.2" fill="#ff0000"/>
<rect x="206.4" y="334.55" width="18.6" height="12.2" fill="#ff0000"/>
<rect x="224" y="334.55" width="16" height="12.2" fill="#ef0000"/>
<rect x="89.6" y="345.75" width="17" height="12.2" fill="#40ffbf"/>
<rect x="105.6" y="345.75" width="18.6" height="12.2" fill="#bfff40"/>
<rect x="123.2" y="345.75" width="17" height="12.2" fill="#ffef00"/>
<rect x="139.2" y="345.75" width="18.6" height="12.2" fill="#ffbf00"/>
<rect x="156.8" y="345.75" width="17" height="12.2" fill="#ff9f00"/>
<rect x="172.8" y="345.75" width="18.6" height="12.2" fill="#ff8f00"/>
<rect x="190.4" y="345.75" width="17" height="12.2" fill="#ff8000"/>
<rect x="206.4" y="345.75" width="18.6" height="12.2" fill="#ff8000"/>
<rect x="224" y="345.75" width="16" height="12.2" fill="#ff8000"/>
<rect x="89.6" y="356.95" width="17" height="12.2" fill="#00afff"/>
<rect x="105.6" y="356.95" width="18.6" height="12.2" fill="#20ffdf"/>
<rect x="123.2" y="356.95" width="17" height="12.2" fill="#60ff9f"/>
<rect x="139.2" y="356.95" width="18.6" height="12.2" fill="#80ff80"/>
<rect x="156.8" y="356.95" width="17" height="12.2" fill="#9fff60"/>
<rect x="172.8" y="356.95" width="18.6" height="12.2" fill="#9fff60"/>
<rect x="190.4" y="356.95" width="17" height="12.2" fill="#9fff60"/>
<rect x="206.4" y="356.95" width="18.6" height="12.2" fill="#9fff60"/>
<rect x="224" y="356.95" width="16" height="12.2" fill="#8fff70"/>
<rect x="89.6" y="368.15" width="17" height="11.2" fill="#0000df"/>
<rect x="105.6" y="368.15" width="18.6" height="11.2" fill="#0030ff"/>
<rect x="123.2" y="368.15" width="17" height="11.2" fill="#0060ff"/>
<rect x="139.2" y="368.15" width="18.6" height="11.2" fill="#0080ff"/>
<rect x="156.8" y="368.15" width="17" height="11.2" fill="#0080ff"/>
<rect x="172.8" y="368.15" width="18.6" height="11.2" fill="#0080ff"/>
<rect x="190.4" y="368.15" width="17" height="11.2" fill="#0080ff"/>
<rect x="206.4" y="368.15" width="18.6" height="11.2" fill="#0070ff"/>
<rect x="224" y="368.15" width="16" height="11.2" fill="#0060ff"/>
<path class="g" d="M105.6 312.15V379.35M123.2 312.15V379.35M139.2 312.15V379.35M156.8 312.15V379.35M172.8 312.15V379.35M190.4 312.15V379.35M206.4 312.15V379.35M224 312.15V379.35M89.6 323.35H240M89.6 334.55H240M89.6 345.75H240M89.6 356.95H240M89.6 368.15H240"/>
<path class="b" d="M89.6 379.35V312.15H240"/>
<path class="t" d="M89.5 312.35h3.7v1.8h-3.7zM105.5 312.35h3.7v1.8h-3.7zM123.1 312.35h3.7v1.8h-3.7zM139.1 312.35h3.7v1.8h-3.7zM156.7 312.35h3.7v1.8h-3.7zM172.7 312.35h3.7v1.8h-3.7zM190.3 312.35h3.7v1.8h-3.7zM206.3 312.35h3.7v1.8h-3.7zM223.9 312.35h3.7v1.8h-3.7zM239.9 312.35h3.7v1.8h-3.7zM89.5 323.55h3.7v1.8h-3.7zM105.5 323.55h3.7v1.8h-3.7zM123.1 323.55h3.7v1.8h-3.7zM139.1 323.55h3.7v1.8h-3.7zM156.7 323.55h3.7v1.8h-3.7zM172.7 323.55h3.7v1.8h-3.7zM190.3 323.55h3.7v1.8h-3.7zM206.3 323.55h3.7v1.8h-3.7zM223.9 323.55h3.7v1.8h-3.7zM239.9 323.55h3.7v1.8h-3.7zM89.5 334.75h3.7v1.8h-3.7zM105.5 334.75h3.7v1.8h-3.7zM123.1 334.75h3.7v1.8h-3.7zM139.1 334.75h3.7v1.8h-3.7zM156.7 334.75h3.7v1.8h-3.7zM172.7 334.75h3.7v1.8h-3.7zM190.3 334.75h3.7v1.8h-3.7zM206.3 334.75h3.7v1.8h-3.7zM223.9 334.75h3.7v1.8h-3.7zM239.9 334.75h3.7v1.8h-3.7zM89.5 345.95h3.7v1.8h-3.7zM105.5 345.95h3.7v1.8h-3.7zM123.1 345.95h3.7v1.8h-3.7zM139.1 345.95h3.7v1.8h-3.7zM156.7 345.95h3.7v1.8h-3.7zM172.7 345.95h3.7v1.8h-3.7zM190.3 345.95h3.7v1.8h-3.7zM206.3 345.95h3.7v1.8h-3.7zM223.9 345.95h3.7v1.8h-3.7zM239.9 345.95h3.7v1.8h-3.7zM89.5 357.15h3.7v1.8h-3.7zM105.5 357.15h3.7v1.8h-3.7zM123.1 357.15h3.7v1.8h-3.7zM139.1 357.15h3.7v1.8h-3.7zM156.7 357.15h3.7v1.8h-3.7zM172.7 357.15h3.7v1.8h-3.7zM190.3 357.15h3.7v1.8h-3.7zM206.3 357.15h3.7v1.8h-3.7zM223.9 357.15h3.7v1.8h-3.7zM239.9 357.15h3.7v1.8h-3.7zM89.5 368.35h3.7v1.8h-3.7zM105.5 368.35h3.7v1.8h-3.7zM123.1 368.35h3.7v1.8h-3.7zM139.1 368.35h3.7v1.8h-3.7zM156.7 368.35h3.7v1.8h-3.7zM172.7 368.35h3.7v1.8h-3.7zM190.3 368.35h3.7v1.8h-3.7zM206.3 368.35h3.7v1.8h-3.7zM223.9 368.35h3.7v1.8h-3.7zM239.9 368.35h3.7v1.8h-3.7zM105.5 379.55h3.7v1.8h-3.7zM123.1 379.55h3.7v1.8h-3.7zM139.1 379.55h3.7v1.8h-3.7zM156.7 379.55h3.7v1.8h-3.7zM172.7 379.55h3.7v1.8h-3.7zM190.3 379.55h3.7v1.8h-3.7zM206.3 379.55h3.7v1.8h-3.7zM223.9 379.55h3.7v1.8h-3.7zM239.9 379.55h3.7v1.8h-3.7z"/>
</g>
<g>
<rect x="257.6" y="312.15" width="17" height="12.2" fill="#dfff20"/>
<rect x="273.6" y="312.15" width="18.6" height="12.2" fill="#ff9f00"/>
<rect x="291.2" y="312.15" width="17" height="12.2" fill="#ff5000"/>
<rect x="307.2" y="312.15" width="18.6" height="12.2" fill="#ff1000"/>
<rect x="324.8" y="312.15" width="17" height="12.2" fill="#ef0000"/>
<rect x="340.8" y="312.15" width="17" height="12.2" fill="#df0000"/>
<rect x="356.8" y="312.15" width="18.6" height="12.2" fill="#cf0000"/>
<rect x="374.4" y="312.15" width="17" height="12.2" fill="#bf0000"/>
<rect x="390.4" y="312.15" width="17.6" height="12.2" fill="#bf0000"/>
<rect x="257.6" y="323.35" width="17" height="12.2" fill="#ffff00"/>
<rect x="273.6" y="323.35" width="18.6" height="12.2" fill="#ff8000"/>
<rect x="291.2" y="323.35" width="17" height="12.2" fill="#ff3000"/>
<rect x="307.2" y="323.35" width="18.6" height="12.2" fill="#ef0000"/>
<rect x="324.8" y="323.35" width="17" height="12.2" fill="#cf0000"/>
<rect x="340.8" y="323.35" width="17" height="12.2" fill="#bf0000"/>
<rect x="356.8" y="323.35" width="18.6" height="12.2" fill="#af0000"/>
<rect x="374.4" y="323.35" width="17" height="12.2" fill="#af0000"/>
<rect x="390.4" y="323.35" width="17.6" height="12.2" fill="#9f0000"/>
<rect x="257.6" y="334.55" width="17" height="12.2" fill="#efff10"/>
<rect x="273.6" y="334.55" width="18.6" height="12.2" fill="#ff8f00"/>
<rect x="291.2" y="334.55" width="17" height="12.2" fill="#ff5000"/>
<rect x="307.2" y="334.55" width="18.6" height="12.2" fill="#ff2000"/>
<rect x="324.8" y="334.55" width="17" height="12.2" fill="#ff0000"/>
<rect x="340.8" y="334.55" width="17" height="12.2" fill="#ef0000"/>
<rect x="356.8" y="334.55" width="18.6" height="12.2" fill="#df0000"/>
<rect x="374.4" y="334.55" width="17" height="12.2" fill="#df0000"/>
<rect x="390.4" y="334.55" width="17.6" height="12.2" fill="#df0000"/>
<rect x="257.6" y="345.75" width="17" height="12.2" fill="#9fff60"/>
<rect x="273.6" y="345.75" width="18.6" height="12.2" fill="#ffef00"/>
<rect x="291.2" y="345.75" width="17" height="12.2" fill="#ffaf00"/>
<rect x="307.2" y="345.75" width="18.6" height="12.2" fill="#ff8f00"/>
<rect x="324.8" y="345.75" width="17" height="12.2" fill="#ff8000"/>
<rect x="340.8" y="345.75" width="17" height="12.2" fill="#ff7000"/>
<rect x="356.8" y="345.75" width="18.6" height="12.2" fill="#ff7000"/>
<rect x="374.4" y="345.75" width="17" height="12.2" fill="#ff7000"/>
<rect x="390.4" y="345.75" width="17.6" height="12.2" fill="#ff7000"/>
<rect x="257.6" y="356.95" width="17" height="12.2" fill="#00ffff"/>
<rect x="273.6" y="356.95" width="18.6" height="12.2" fill="#60ff9f"/>
<rect x="291.2" y="356.95" width="17" height="12.2" fill="#9fff60"/>
<rect x="307.2" y="356.95" width="18.6" height="12.2" fill="#bfff40"/>
<rect x="324.8" y="356.95" width="17" height="12.2" fill="#cfff30"/>
<rect x="340.8" y="356.95" width="17" height="12.2" fill="#cfff30"/>
<rect x="356.8" y="356.95" width="18.6" height="12.2" fill="#cfff30"/>
<rect x="374.4" y="356.95" width="17" height="12.2" fill="#bfff40"/>
<rect x="390.4" y="356.95" width="17.6" height="12.2" fill="#bfff40"/>
<rect x="257.6" y="368.15" width="17" height="11.2" fill="#0020ff"/>
<rect x="273.6" y="368.15" width="18.6" height="11.2" fill="#0080ff"/>
<rect x="291.2" y="368.15" width="17" height="11.2" fill="#009fff"/>
<rect x="307.2" y="368.15" width="18.6" height="11.2" fill="#00afff"/>
<rect x="324.8" y="368.15" width="17" height="11.2" fill="#00bfff"/>
<rect x="340.8" y="368.15" width="17" height="11.2" fill="#00afff"/>
<rect x="356.8" y="368.15" width="18.6" height="11.2" fill="#00afff"/>
<rect x="374.4" y="368.15" width="17" height="11.2" fill="#009fff"/>
<rect x="390.4" y="368.15" width="17.6" height="11.2" fill="#008fff"/>
<path class="g" d="M273.6 312.15V379.35M291.2 312.15V379.35M307.2 312.15V379.35M324.8 312.15V379.35M340.8 312.15V379.35M356.8 312.15V379.35M374.4 312.15V379.35M390.4 312.15V379.35M257.6 323.35H408M257.6 334.55H408M257.6 345.75H408M257.6 356.95H408M257.6 368.15H408"/>
<path class="b" d="M257.6 379.35V312.15H408"/>
<path class="t" d="M257.5 312.35h3.7v1.8h-3.7zM273.5 312.35h3.7v1.8h-3.7zM291.1 312.35h3.7v1.8h-3.7zM307.1 312.35h3.7v1.8h-3.7zM324.7 312.35h3.7v1.8h-3.7zM340.7 312.35h3.7v1.8h-3.7zM356.7 312.35h3.7v1.8h-3.7zM374.3 312.35h3.7v1.8h-3.7zM390.3 312.35h3.7v1.8h-3.7zM407.9 312.35h3.7v1.8h-3.7zM257.5 323.55h3.7v1.8h-3.7zM273.5 323.55h3.7v1.8h-3.7zM291.1 323.55h3.7v1.8h-3.7zM307.1 323.55h3.7v1.8h-3.7zM324.7 323.55h3.7v1.8h-3.7zM340.7 323.55h3.7v1.8h-3.7zM356.7 323.55h3.7v1.8h-3.7zM374.3 323.55h3.7v1.8h-3.7zM390.3 323.55h3.7v1.8h-3.7zM407.9 323.55h3.7v1.8h-3.7zM257.5 334.75h3.7v1.8h-3.7zM273.5 334.75h3.7v1.8h-3.7zM291.1 334.75h3.7v1.8h-3.7zM307.1 334.75h3.7v1.8h-3.7zM324.7 334.75h3.7v1.8h-3.7zM340.7 334.75h3.7v1.8h-3.7zM356.7 334.75h3.7v1.8h-3.7zM374.3 334.75h3.7v1.8h-3.7zM390.3 334.75h3.7v1.8h-3.7zM407.9 334.75h3.7v1.8h-3.7zM257.5 345.95h3.7v1.8h-3.7zM273.5 345.95h3.7v1.8h-3.7zM291.1 345.95h3.7v1.8h-3.7zM307.1 345.95h3.7v1.8h-3.7zM324.7 345.95h3.7v1.8h-3.7zM340.7 345.95h3.7v1.8h-3.7zM356.7 345.95h3.7v1.8h-3.7zM374.3 345.95h3.7v1.8h-3.7zM390.3 345.95h3.7v1.8h-3.7zM407.9 345.95h3.7v1.8h-3.7zM257.5 357.15h3.7v1.8h-3.7zM273.5 357.15h3.7v1.8h-3.7zM291.1 357.15h3.7v1.8h-3.7zM307.1 357.15h3.7v1.8h-3.7zM324.7 357.15h3.7v1.8h-3.7zM340.7 357.15h3.7v1.8h-3.7zM356.7 357.15h3.7v1.8h-3.7zM374.3 357.15h3.7v1.8h-3.7zM390.3 357.15h3.7v1.8h-3.7zM407.9 357.15h3.7v1.8h-3.7zM257.5 368.35h3.7v1.8h-3.7zM273.5 368.35h3.7v1.8h-3.7zM291.1 368.35h3.7v1.8h-3.7zM307.1 368.35h3.7v1.8h-3.7zM324.7 368.35h3.7v1.8h-3.7zM340.7 368.35h3.7v1.8h-3.7zM356.7 368.35h3.7v1.8h-3.7zM374.3 368.35h3.7v1.8h-3.7zM390.3 368.35h3.7v1.8h-3.7zM407.9 368.35h3.7v1.8h-3.7zM273.5 379.55h3.7v1.8h-3.7zM291.1 379.55h3.7v1.8h-3.7zM307.1 379.55h3.7v1.8h-3.7zM324.7 379.55h3.7v1.8h-3.7zM340.7 379.55h3.7v1.8h-3.7zM356.7 379.55h3.7v1.8h-3.7zM374.3 379.55h3.7v1.8h-3.7zM390.3 379.55h3.7v1.8h-3.7zM407.9 379.55h3.7v1.8h-3.7z"/>
</g>
<g>
<rect x="424" y="312.15" width="18.6" height="12.2" fill="#efff10"/>
<rect x="441.6" y="312.15" width="17" height="12.2" fill="#ff8f00"/>
<rect x="457.6" y="312.15" width="18.6" height="12.2" fill="#ff4000"/>
<rect x="475.2" y="312.15" width="17" height="12.2" fill="#ff1000"/>
<rect x="491.2" y="312.15" width="18.6" height="12.2" fill="#ef0000"/>
<rect x="508.8" y="312.15" width="17" height="12.2" fill="#cf0000"/>
<rect x="524.8" y="312.15" width="18.6" height="12.2" fill="#bf0000"/>
<rect x="542.4" y="312.15" width="17" height="12.2" fill="#bf0000"/>
<rect x="558.4" y="312.15" width="17.6" height="12.2" fill="#af0000"/>
<rect x="424" y="323.35" width="18.6" height="12.2" fill="#ffef00"/>
<rect x="441.6" y="323.35" width="17" height="12.2" fill="#ff6000"/>
<rect x="457.6" y="323.35" width="18.6" height="12.2" fill="#ff1000"/>
<rect x="475.2" y="323.35" width="17" height="12.2" fill="#df0000"/>
<rect x="491.2" y="323.35" width="18.6" height="12.2" fill="#bf0000"/>
<rect x="508.8" y="323.35" width="17" height="12.2" fill="#af0000"/>
<rect x="524.8" y="323.35" width="18.6" height="12.2" fill="#9f0000"/>
<rect x="542.4" y="323.35" width="17" height="12.2" fill="#9f0000"/>
<rect x="558.4" y="323.35" width="17.6" height="12.2" fill="#8f0000"/>
<rect x="424" y="334.55" width="18.6" height="12.2" fill="#ffef00"/>
<rect x="441.6" y="334.55" width="17" height="12.2" fill="#ff7000"/>
<rect x="457.6" y="334.55" width="18.6" height="12.2" fill="#ff3000"/>
<rect x="475.2" y="334.55" width="17" height="12.2" fill="#ff0000"/>
<rect x="491.2" y="334.55" width="18.6" height="12.2" fill="#df0000"/>
<rect x="508.8" y="334.55" width="17" height="12.2" fill="#cf0000"/>
<rect x="524.8" y="334.55" width="18.6" height="12.2" fill="#cf0000"/>
<rect x="542.4" y="334.55" width="17" height="12.2" fill="#bf0000"/>
<rect x="558.4" y="334.55" width="17.6" height="12.2" fill="#bf0000"/>
<rect x="424" y="345.75" width="18.6" height="12.2" fill="#bfff40"/>
<rect x="441.6" y="345.75" width="17" height="12.2" fill="#ffcf00"/>
<rect x="457.6" y="345.75" width="18.6" height="12.2" fill="#ff8f00"/>
<rect x="475.2" y="345.75" width="17" height="12.2" fill="#ff6000"/>
<rect x="491.2" y="345.75" width="18.6" height="12.2" fill="#ff5000"/>
<rect x="508.8" y="345.75" width="17" height="12.2" fill="#ff4000"/>
<rect x="524.8" y="345.75" width="18.6" height="12.2" fill="#ff4000"/>
<rect x="542.4" y="345.75" width="17" height="12.2" fill="#ff4000"/>
<rect x="558.4" y="345.75" width="17.6" height="12.2" fill="#ff4000"/>
<rect x="424" y="356.95" width="18.6" height="12.2" fill="#40ffbf"/>
<rect x="441.6" y="356.95" width="17" height="12.2" fill="#9fff60"/>
<rect x="457.6" y="356.95" width="18.6" height="12.2" fill="#cfff30"/>
<rect x="475.2" y="356.95" width="17" height="12.2" fill="#efff10"/>
<rect x="491.2" y="356.95" width="18.6" height="12.2" fill="#efff10"/>
<rect x="508.8" y="356.95" width="17" height="12.2" fill="#efff10"/>
<rect x="524.8" y="356.95" width="18.6" height="12.2" fill="#efff10"/>
<rect x="542.4" y="356.95" width="17" height="12.2" fill="#efff10"/>
<rect x="558.4" y="356.95" width="17.6" height="12.2" fill="#dfff20"/>
<rect x="424" y="368.15" width="18.6" height="11.2" fill="#0050ff"/>
<rect x="441.6" y="368.15" width="17" height="11.2" fill="#00afff"/>
<rect x="457.6" y="368.15" width="18.6" height="11.2" fill="#00cfff"/>
<rect x="475.2" y="368.15" width="17" height="11.2" fill="#00dfff"/>
<rect x="491.2" y="368.15" width="18.6" height="11.2" fill="#00dfff"/>
<rect x="508.8" y="368.15" width="17" height="11.2" fill="#00dfff"/>
<rect x="524.8" y="368.15" width="18.6" height="11.2" fill="#00cfff"/>
<rect x="542.4" y="368.15" width="17" height="11.2" fill="#00bfff"/>
<rect x="558.4" y="368.15" width="17.6" height="11.2" fill="#00afff"/>
<path class="g" d="M441.6 312.15V379.35M457.6 312.15V379.35M475.2 312.15V379.35M491.2 312.15V379.35M508.8 312.15V379.35M524.8 312.15V379.35M542.4 312.15V379.35M558.4 312.15V379.35M424 323.35H576M424 334.55H576M424 345.75H576M424 356.95H576M424 368.15H576"/>
<path class="b" d="M424 379.35V312.15H576"/>
<path class="t" d="M423.9 312.35h3.7v1.8h-3.7zM441.5 312.35h3.7v1.8h-3.7zM457.5 312.35h3.7v1.8h-3.7zM475.1 312.35h3.7v1.8h-3.7zM491.1 312.35h3.7v1.8h-3.7zM508.7 312.35h3.7v1.8h-3.7zM524.7 312.35h3.7v1.8h-3.7zM542.3 312.35h3.7v1.8h-3.7zM558.3 312.35h3.7v1.8h-3.7zM575.9 312.35h3.7v1.8h-3.7zM423.9 323.55h3.7v1.8h-3.7zM441.5 323.55h3.7v1.8h-3.7zM457.5 323.55h3.7v1.8h-3.7zM475.1 323.55h3.7v1.8h-3.7zM491.1 323.55h3.7v1.8h-3.7zM508.7 323.55h3.7v1.8h-3.7zM524.7 323.55h3.7v1.8h-3.7zM542.3 323.55h3.7v1.8h-3.7zM558.3 323.55h3.7v1.8h-3.7zM575.9 323.55h3.7v1.8h-3.7zM423.9 334.75h3.7v1.8h-3.7zM441.5 334.75h3.7v1.8h-3.7zM457.5 334.75h3.7v1.8h-3.7zM475.1 334.75h3.7v1.8h-3.7zM491.1 334.75h3.7v1.8h-3.7zM508.7 334.75h3.7v1.8h-3.7zM524.7 334.75h3.7v1.8h-3.7zM542.3 334.75h3.7v1.8h-3.7zM558.3 334.75h3.7v1.8h-3.7zM575.9 334.75h3.7v1.8h-3.7zM423.9 345.95h3.7v1.8h-3.7zM441.5 345.95h3.7v1.8h-3.7zM457.5 345.95h3.7v1.8h-3.7zM475.1 345.95h3.7v1.8h-3.7zM491.1 345.95h3.7v1.8h-3.7zM508.7 345.95h3.7v1.8h-3.7zM524.7 345.95h3.7v1.8h-3.7zM542.3 345.95h3.7v1.8h-3.7zM558.3 345.95h3.7v1.8h-3.7zM575.9 345.95h3.7v1.8h-3.7zM423.9 357.15h3.7v1.8h-3.7zM441.5 357.15h3.7v1.8h-3.7zM457.5 357.15h3.7v1.8h-3.7zM475.1 357.15h3.7v1.8h-3.7zM491.1 357.15h3.7v1.8h-3.7zM508.7 357.15h3.7v1.8h-3.7zM524.7 357.15h3.7v1.8h-3.7zM542.3 357.15h3.7v1.8h-3.7zM558.3 357.15h3.7v1.8h-3.7zM575.9 357.15h3.7v1.8h-3.7zM423.9 368.35h3.7v1.8h-3.7zM441.5 368.35h3.7v1.8h-3.7zM457.5 368.35h3.7v1.8h-3.7zM475.1 368.35h3.7v1.8h-3.7zM491.1 368.35h3.7v1.8h-3.7zM508.7 368.35h3.7v1.8h-3.7zM524.7 368.35h3.7v1.8h-3.7zM542.3 368.35h3.7v1.8h-3.7zM558.3 368.35h3.7v1.8h-3.7zM575.9 368.35h3.7v1.8h-3.7zM441.5 379.55h3.7v1.8h-3.7zM457.5 379.55h3.7v1.8h-3.7zM475.1 379.55h3.7v1.8h-3.7zM491.1 379.55h3.7v1.8h-3.7zM508.7 379.55h3.7v1.8h-3.7zM524.7 379.55h3.7v1.8h-3.7zM542.3 379.55h3.7v1.8h-3.7zM558.3 379.55h3.7v1.8h-3.7zM575.9 379.55h3.7v1.8h-3.7z"/>
</g>
<g>
<rect x="592" y="312.15" width="18.6" height="12.2" fill="#cfff30"/>
<rect x="609.6" y="312.15" width="17" height="12.2" fill="#ffaf00"/>
<rect x="625.6" y="312.15" width="18.6" height="12.2" fill="#ff5000"/>
<rect x="643.2" y="312.15" width="17" height="12.2" fill="#ff2000"/>
<rect x="659.2" y="312.15" width="17" height="12.2" fill="#ef0000"/>
<rect x="675.2" y="312.15" width="18.6" height="12.2" fill="#df0000"/>
<rect x="692.8" y="312.15" width="17" height="12.2" fill="#cf0000"/>
<rect x="708.8" y="312.15" width="18.6" height="12.2" fill="#bf0000"/>
<rect x="726.4" y="312.15" width="16" height="12.2" fill="#af0000"/>
<rect x="592" y="323.35" width="18.6" height="12.2" fill="#ffff00"/>
<rect x="609.6" y="323.35" width="17" height="12.2" fill="#ff7000"/>
<rect x="625.6" y="323.35" width="18.6" height="12.2" fill="#ff2000"/>
<rect x="643.2" y="323.35" width="17" height="12.2" fill="#ef0000"/>
<rect x="659.2" y="323.35" width="17" height="12.2" fill="#cf0000"/>
<rect x="675.2" y="323.35" width="18.6" height="12.2" fill="#af0000"/>
<rect x="692.8" y="323.35" width="17" height="12.2" fill="#9f0000"/>
<rect x="708.8" y="323.35" width="18.6" height="12.2" fill="#9f0000"/>
<rect x="726.4" y="323.35" width="16" height="12.2" fill="#8f0000"/>
<rect x="592" y="334.55" width="18.6" height="12.2" fill="#ffff00"/>
<rect x="609.6" y="334.55" width="17" height="12.2" fill="#ff8000"/>
<rect x="625.6" y="334.55" width="18.6" height="12.2" fill="#ff3000"/>
<rect x="643.2" y="334.55" width="17" height="12.2" fill="#ff0000"/>
<rect x="659.2" y="334.55" width="17" height="12.2" fill="#df0000"/>
<rect x="675.2" y="334.55" width="18.6" height="12.2" fill="#cf0000"/>
<rect x="692.8" y="334.55" width="17" height="12.2" fill="#bf0000"/>
<rect x="708.8" y="334.55" width="18.6" height="12.2" fill="#bf0000"/>
<rect x="726.4" y="334.55" width="16" height="12.2" fill="#bf0000"/>
<rect x="592" y="345.75" width="18.6" height="12.2" fill="#cfff30"/>
<rect x="609.6" y="345.75" width="17" height="12.2" fill="#ffbf00"/>
<rect x="625.6" y="345.75" width="18.6" height="12.2" fill="#ff8000"/>
<rect x="643.2" y="345.75" width="17" height="12.2" fill="#ff6000"/>
<rect x="659.2" y="345.75" width="17" height="12.2" fill="#ff4000"/>
<rect x="675.2" y="345.75" width="18.6" height="12.2" fill="#ff4000"/>
<rect x="692.8" y="345.75" width="17" height="12.2" fill="#ff3000"/>
<rect x="708.8" y="345.75" width="18.6" height="12.2" fill="#ff3000"/>
<rect x="726.4" y="345.75" width="16" height="12.2" fill="#ff3000"/>
<rect x="592" y="356.95" width="18.6" height="12.2" fill="#50ffaf"/>
<rect x="609.6" y="356.95" width="17" height="12.2" fill="#9fff60"/>
<rect x="625.6" y="356.95" width="18.6" height="12.2" fill="#dfff20"/>
<rect x="643.2" y="356.95" width="17" height="12.2" fill="#ffff00"/>
<rect x="659.2" y="356.95" width="17" height="12.2" fill="#ffff00"/>
<rect x="675.2" y="356.95" width="18.6" height="12.2" fill="#ffef00"/>
<rect x="692.8" y="356.95" width="17" height="12.2" fill="#ffef00"/>
<rect x="708.8" y="356.95" width="18.6" height="12.2" fill="#ffff00"/>
<rect x="726.4" y="356.95" width="16" height="12.2" fill="#ffff00"/>
<rect x="592" y="368.15" width="18.6" height="11.2" fill="#0080ff"/>
<rect x="609.6" y="368.15" width="17" height="11.2" fill="#00bfff"/>
<rect x="625.6" y="368.15" width="18.6" height="11.2" fill="#00efff"/>
<rect x="643.2" y="368.15" width="17" height="11.2" fill="#00ffff"/>
<rect x="659.2" y="368.15" width="17" height="11.2" fill="#00ffff"/>
<rect x="675.2" y="368.15" width="18.6" height="11.2" fill="#00ffff"/>
<rect x="692.8" y="368.15" width="17" height="11.2" fill="#00efff"/>
<rect x="708.8" y="368.15" width="18.6" height="11.2" fill="#00dfff"/>
<rect x="726.4" y="368.15" width="16" height="11.2" fill="#00cfff"/>
<path class="g" d="M609.6 312.15V379.35M625.6 312.15V379.35M643.2 312.15V379.35M659.2 312.15V379.35M675.2 312.15V379.35M692.8 312.15V379.35M708.8 312.15V379.35M726.4 312.15V379.35M592 323.35H742.4M592 334.55H742.4M592 345.75H742.4M592 356.95H742.4M592 368.15H742.4"/>
<path class="b" d="M592 379.35V312.15H742.4"/>
<path class="t" d="M591.9 312.35h3.7v1.8h-3.7zM609.5 312.35h3.7v1.8h-3.7zM625.5 312.35h3.7v1.8h-3.7zM643.1 312.35h3.7v1.8h-3.7zM659.1 312.35h3.7v1.8h-3.7zM675.1 312.35h3.7v1.8h-3.7zM692.7 312.35h3.7v1.8h-3.7zM708.7 312.35h3.7v1.8h-3.7zM726.3 312.35h3.7v1.8h-3.7zM742.3 312.35h3.7v1.8h-3.7zM591.9 323.55h3.7v1.8h-3.7zM609.5 323.55h3.7v1.8h-3.7zM625.5 323.55h3.7v1.8h-3.7zM643.1 323.55h3.7v1.8h-3.7zM659.1 323.55h3.7v1.8h-3.7zM675.1 323.55h3.7v1.8h-3.7zM692.7 323.55h3.7v1.8h-3.7zM708.7 323.55h3.7v1.8h-3.7zM726.3 323.55h3.7v1.8h-3.7zM742.3 323.55h3.7v1.8h-3.7zM591.9 334.75h3.7v1.8h-3.7zM609.5 334.75h3.7v1.8h-3.7zM625.5 334.75h3.7v1.8h-3.7zM643.1 334.75h3.7v1.8h-3.7zM659.1 334.75h3.7v1.8h-3.7zM675.1 334.75h3.7v1.8h-3.7zM692.7 334.75h3.7v1.8h-3.7zM708.7 334.75h3.7v1.8h-3.7zM726.3 334.75h3.7v1.8h-3.7zM742.3 334.75h3.7v1.8h-3.7zM591.9 345.95h3.7v1.8h-3.7zM609.5 345.95h3.7v1.8h-3.7zM625.5 345.95h3.7v1.8h-3.7zM643.1 345.95h3.7v1.8h-3.7zM659.1 345.95h3.7v1.8h-3.7zM675.1 345.95h3.7v1.8h-3.7zM692.7 345.95h3.7v1.8h-3.7zM708.7 345.95h3.7v1.8h-3.7zM726.3 345.95h3.7v1.8h-3.7zM742.3 345.95h3.7v1.8h-3.7zM591.9 357.15h3.7v1.8h-3.7zM609.5 357.15h3.7v1.8h-3.7zM625.5 357.15h3.7v1.8h-3.7zM643.1 357.15h3.7v1.8h-3.7zM659.1 357.15h3.7v1.8h-3.7zM675.1 357.15h3.7v1.8h-3.7zM692.7 357.15h3.7v1.8h-3.7zM708.7 357.15h3.7v1.8h-3.7zM726.3 357.15h3.7v1.8h-3.7zM742.3 357.15h3.7v1.8h-3.7zM591.9 368.35h3.7v1.8h-3.7zM609.5 368.35h3.7v1.8h-3.7zM625.5 368.35h3.7v1.8h-3.7zM643.1 368.35h3.7v1.8h-3.7zM659.1 368.35h3.7v1.8h-3.7zM675.1 368.35h3.7v1.8h-3.7zM692.7 368.35h3.7v1.8h-3.7zM708.7 368.35h3.7v1.8h-3.7zM726.3 368.35h3.7v1.8h-3.7zM742.3 368.35h3.7v1.8h-3.7zM609.5 379.55h3.7v1.8h-3.7zM625.5 379.55h3.7v1.8h-3.7zM643.1 379.55h3.7v1.8h-3.7zM659.1 379.55h3.7v1.8h-3.7zM675.1 379.55h3.7v1.8h-3.7zM692.7 379.55h3.7v1.8h-3.7zM708.7 379.55h3.7v1.8h-3.7zM726.3 379.55h3.7v1.8h-3.7zM742.3 379.55h3.7v1.8h-3.7z"/>
</g>
<g>
<rect x="760" y="312.15" width="17" height="12.2" fill="#70ff8f"/>
<rect x="776" y="312.15" width="18.6" height="12.2" fill="#ffef00"/>
<rect x="793.6" y="312.15" width="17" height="12.2" fill="#ff8f00"/>
<rect x="809.6" y="312.15" width="18.6" height="12.2" fill="#ff5000"/>
<rect x="827.2" y="312.15" width="17" height="12.2" fill="#ff2000"/>
<rect x="843.2" y="312.15" width="18.6" height="12.2" fill="#ff0000"/>
<rect x="860.8" y="312.15" width="17" height="12.2" fill="#df0000"/>
<rect x="876.8" y="312.15" width="18.6" height="12.2" fill="#cf0000"/>
<rect x="894.4" y="312.15" width="16" height="12.2" fill="#bf0000"/>
<rect x="760" y="323.35" width="17" height="12.2" fill="#afff50"/>
<rect x="776" y="323.35" width="18.6" height="12.2" fill="#ffaf00"/>
<rect x="793.6" y="323.35" width="17" height="12.2" fill="#ff5000"/>
<rect x="809.6" y="323.35" width="18.6" height="12.2" fill="#ff1000"/>
<rect x="827.2" y="323.35" width="17" height="12.2" fill="#ef0000"/>
<rect x="843.2" y="323.35" width="18.6" height="12.2" fill="#cf0000"/>
<rect x="860.8" y="323.35" width="17" height="12.2" fill="#af0000"/>
<rect x="876.8" y="323.35" width="18.6" height="12.2" fill="#9f0000"/>
<rect x="894.4" y="323.35" width="16" height="12.2" fill="#9f0000"/>
<rect x="760" y="334.55" width="17" height="12.2" fill="#bfff40"/>
<rect x="776" y="334.55" width="18.6" height="12.2" fill="#ffaf00"/>
<rect x="793.6" y="334.55" width="17" height="12.2" fill="#ff6000"/>
<rect x="809.6" y="334.55" width="18.6" height="12.2" fill="#ff2000"/>
<rect x="827.2" y="334.55" width="17" height="12.2" fill="#ff0000"/>
<rect x="843.2" y="334.55" width="18.6" height="12.2" fill="#df0000"/>
<rect x="860.8" y="334.55" width="17" height="12.2" fill="#cf0000"/>
<rect x="876.8" y="334.55" width="18.6" height="12.2" fill="#bf0000"/>
<rect x="894.4" y="334.55" width="16" height="12.2" fill="#bf0000"/>
<rect x="760" y="345.75" width="17" height="12.2" fill="#8fff70"/>
<rect x="776" y="345.75" width="18.6" height="12.2" fill="#ffef00"/>
<rect x="793.6" y="345.75" width="17" height="12.2" fill="#ff9f00"/>
<rect x="809.6" y="345.75" width="18.6" height="12.2" fill="#ff7000"/>
<rect x="827.2" y="345.75" width="17" height="12.2" fill="#ff5000"/>
<rect x="843.2" y="345.75" width="18.6" height="12.2" fill="#ff4000"/>
<rect x="860.8" y="345.75" width="17" height="12.2" fill="#ff3000"/>
<rect x="876.8" y="345.75" width="18.6" height="12.2" fill="#ff3000"/>
<rect x="894.4" y="345.75" width="16" height="12.2" fill="#ff3000"/>
<rect x="760" y="356.95" width="17" height="12.2" fill="#20ffdf"/>
<rect x="776" y="356.95" width="18.6" height="12.2" fill="#80ff80"/>
<rect x="793.6" y="356.95" width="17" height="12.2" fill="#cfff30"/>
<rect x="809.6" y="356.95" width="18.6" height="12.2" fill="#efff10"/>
<rect x="827.2" y="356.95" width="17" height="12.2" fill="#ffff00"/>
<rect x="843.2" y="356.95" width="18.6" height="12.2" fill="#ffef00"/>
<rect x="860.8" y="356.95" width="17" height="12.2" fill="#ffef00"/>
<rect x="876.8" y="356.95" width="18.6" height="12.2" fill="#ffef00"/>
<rect x="894.4" y="356.95" width="16" height="12.2" fill="#ffef00"/>
<rect x="760" y="368.15" width="17" height="11.2" fill="#0070ff"/>
<rect x="776" y="368.15" width="18.6" height="11.2" fill="#00afff"/>
<rect x="793.6" y="368.15" width="17" height="11.2" fill="#00dfff"/>
<rect x="809.6" y="368.15" width="18.6" height="11.2" fill="#00ffff"/>
<rect x="827.2" y="368.15" width="17" height="11.2" fill="#00ffff"/>
<rect x="843.2" y="368.15" width="18.6" height="11.2" fill="#00ffff"/>
<rect x="860.8" y="368.15" width="17" height="11.2" fill="#00ffff"/>
<rect x="876.8" y="368.15" width="18.6" height="11.2" fill="#00ffff"/>
<rect x="894.4" y="368.15" width="16" height="11.2" fill="#00efff"/>
<path class="g" d="M776 312.15V379.35M793.6 312.15V379.35M809.6 312.15V379.35M827.2 312.15V379.35M843.2 312.15V379.35M860.8 312.15V379.35M876.8 312.15V379.35M894.4 312.15V379.35M760 323.35H910.4M760 334.55H910.4M760 345.75H910.4M760 356.95H910.4M760 368.15H910.4"/>
<path class="b" d="M760 379.35V312.15H910.4"/>
<path class="t" d="M759.9 312.35h3.7v1.8h-3.7zM775.9 312.35h3.7v1.8h-3.7zM793.5 312.35h3.7v1.8h-3.7zM809.5 312.35h3.7v1.8h-3.7zM827.1 312.35h3.7v1.8h-3.7zM843.1 312.35h3.7v1.8h-3.7zM860.7 312.35h3.7v1.8h-3.7zM876.7 312.35h3.7v1.8h-3.7zM894.3 312.35h3.7v1.8h-3.7zM910.3 312.35h3.7v1.8h-3.7zM759.9 323.55h3.7v1.8h-3.7zM775.9 323.55h3.7v1.8h-3.7zM793.5 323.55h3.7v1.8h-3.7zM809.5 323.55h3.7v1.8h-3.7zM827.1 323.55h3.7v1.8h-3.7zM843.1 323.55h3.7v1.8h-3.7zM860.7 323.55h3.7v1.8h-3.7zM876.7 323.55h3.7v1.8h-3.7zM894.3 323.55h3.7v1.8h-3.7zM910.3 323.55h3.7v1.8h-3.7zM759.9 334.75h3.7v1.8h-3.7zM775.9 334.75h3.7v1.8h-3.7zM793.5 334.75h3.7v1.8h-3.7zM809.5 334.75h3.7v1.8h-3.7zM827.1 334.75h3.7v1.8h-3.7zM843.1 334.75h3.7v1.8h-3.7zM860.7 334.75h3.7v1.8h-3.7zM876.7 334.75h3.7v1.8h-3.7zM894.3 334.75h3.7v1.8h-3.7zM910.3 334.75h3.7v1.8h-3.7zM759.9 345.95h3.7v1.8h-3.7zM775.9 345.95h3.7v1.8h-3.7zM793.5 345.95h3.7v1.8h-3.7zM809.5 345.95h3.7v1.8h-3.7zM827.1 345.95h3.7v1.8h-3.7zM843.1 345.95h3.7v1.8h-3.7zM860.7 345.95h3.7v1.8h-3.7zM876.7 345.95h3.7v1.8h-3.7zM894.3 345.95h3.7v1.8h-3.7zM910.3 345.95h3.7v1.8h-3.7zM759.9 357.15h3.7v1.8h-3.7zM775.9 357.15h3.7v1.8h-3.7zM793.5 357.15h3.7v1.8h-3.7zM809.5 357.15h3.7v1.8h-3.7zM827.1 357.15h3.7v1.8h-3.7zM843.1 357.15h3.7v1.8h-3.7zM860.7 357.15h3.7v1.8h-3.7zM876.7 357.15h3.7v1.8h-3.7zM894.3 357.15h3.7v1.8h-3.7zM910.3 357.15h3.7v1.8h-3.7zM759.9 368.35h3.7v1.8h-3.7zM775.9 368.35h3.7v1.8h-3.7zM793.5 368.35h3.7v1.8h-3.7zM809.5 368.35h3.7v1.8h-3.7zM827.1 368.35h3.7v1.8h-3.7zM843.1 368.35h3.7v1.8h-3.7zM860.7 368.35h3.7v1.8h-3.7zM876.7 368.35h3.7v1.8h-3.7zM894.3 368.35h3.7v1.8h-3.7zM910.3 368.35h3.7v1.8h-3.7zM775.9 379.55h3.7v1.8h-3.7zM793.5 379.55h3.7v1.8h-3.7zM809.5 379.55h3.7v1.8h-3.7zM827.1 379.55h3.7v1.8h-3.7zM843.1 379.55h3.7v1.8h-3.7zM860.7 379.55h3.7v1.8h-3.7zM876.7 379.55h3.7v1.8h-3.7zM894.3 379.55h3.7v1.8h-3.7zM910.3 379.55h3.7v1.8h-3.7z"/>
</g>
<g>
<rect x="89.6" y="400.15" width="17" height="12.2" fill="#8fff70"/>
<rect x="105.6" y="400.15" width="18.6" height="12.2" fill="#ffdf00"/>
<rect x="123.2" y="400.15" width="17" height="12.2" fill="#ff8f00"/>
<rect x="139.2" y="400.15" width="18.6" height="12.2" fill="#ff6000"/>
<rect x="156.8" y="400.15" width="17" height="12.2" fill="#ff4000"/>
<rect x="172.8" y="400.15" width="18.6" height="12.2" fill="#ff2000"/>
<rect x="190.4" y="400.15" width="17" height="12.2" fill="#ff1000"/>
<rect x="206.4" y="400.15" width="18.6" height="12.2" fill="#ff0000"/>
<rect x="224" y="400.15" width="16" height="12.2" fill="#ef0000"/>
<rect x="89.6" y="411.35" width="17" height="12.2" fill="#afff50"/>
<rect x="105.6" y="411.35" width="18.6" height="12.2" fill="#ffcf00"/>
<rect x="123.2" y="411.35" width="17" height="12.2" fill="#ff8000"/>
<rect x="139.2" y="411.35" width="18.6" height="12.2" fill="#ff4000"/>
<rect x="156.8" y="411.35" width="17" height="12.2" fill="#ff2000"/>
<rect x="172.8" y="411.35" width="18.6" height="12.2" fill="#ff0000"/>
<rect x="190.4" y="411.35" width="17" height="12.2" fill="#ef0000"/>
<rect x="206.4" y="411.35" width="18.6" height="12.2" fill="#ef0000"/>
<rect x="224" y="411.35" width="16" height="12.2" fill="#df0000"/>
<rect x="89.6" y="422.55" width="17" height="12.2" fill="#8fff70"/>
<rect x="105.6" y="422.55" width="18.6" height="12.2" fill="#ffef00"/>
<rect x="123.2" y="422.55" width="17" height="12.2" fill="#ff9f00"/>
<rect x="139.2" y="422.55" width="18.6" height="12.2" fill="#ff7000"/>
<rect x="156.8" y="422.55" width="17" height="12.2" fill="#ff5000"/>
<rect x="172.8" y="422.55" width="18.6" height="12.2" fill="#ff3000"/>
<rect x="190.4" y="422.55" width="17" height="12.2" fill="#ff2000"/>
<rect x="206.4" y="422.55" width="18.6" height="12.2" fill="#ff2000"/>
<rect x="224" y="422.55" width="16" height="12.2" fill="#ff1000"/>
<rect x="89.6" y="433.75" width="17" height="12.2" fill="#40ffbf"/>
<rect x="105.6" y="433.75" width="18.6" height="12.2" fill="#afff50"/>
<rect x="123.2" y="433.75" width="17" height="12.2" fill="#ffff00"/>
<rect x="139.2" y="433.75" width="18.6" height="12.2" fill="#ffcf00"/>
<rect x="156.8" y="433.75" width="17" height="12.2" fill="#ffbf00"/>
<rect x="172.8" y="433.75" width="18.6" height="12.2" fill="#ff9f00"/>
<rect x="190.4" y="433.75" width="17" height="12.2" fill="#ff9f00"/>
<rect x="206.4" y="433.75" width="18.6" height="12.2" fill="#ff9f00"/>
<rect x="224" y="433.75" width="16" height="12.2" fill="#ff9f00"/>
<rect x="89.6" y="444.95" width="17" height="12.2" fill="#00afff"/>
<rect x="105.6" y="444.95" width="18.6" height="12.2" fill="#20ffdf"/>
<rect x="123.2" y="444.95" width="17" height="12.2" fill="#50ffaf"/>
<rect x="139.2" y="444.95" width="18.6" height="12.2" fill="#80ff80"/>
<rect x="156.8" y="444.95" width="17" height="12.2" fill="#80ff80"/>
<rect x="172.8" y="444.95" width="18.6" height="12.2" fill="#8fff70"/>
<rect x="190.4" y="444.95" width="17" height="12.2" fill="#8fff70"/>
<rect x="206.4" y="444.95" width="18.6" height="12.2" fill="#8fff70"/>
<rect x="224" y="444.95" width="16" height="12.2" fill="#80ff80"/>
<rect x="89.6" y="456.15" width="17" height="11.2" fill="#0000df"/>
<rect x="105.6" y="456.15" width="18.6" height="11.2" fill="#0030ff"/>
<rect x="123.2" y="456.15" width="17" height="11.2" fill="#0060ff"/>
<rect x="139.2" y="456.15" width="18.6" height="11.2" fill="#0070ff"/>
<rect x="156.8" y="456.15" width="17" height="11.2" fill="#0080ff"/>
<rect x="172.8" y="456.15" width="18.6" height="11.2" fill="#0070ff"/>
<rect x="190.4" y="456.15" width="17" height="11.2" fill="#0070ff"/>
<rect x="206.4" y="456.15" width="18.6" height="11.2" fill="#0060ff"/>
<rect x="224" y="456.15" width="16" height="11.2" fill="#0050ff"/>
<path class="g" d="M105.6 400.15V467.35M123.2 400.15V467.35M139.2 400.15V467.35M156.8 400.15V467.35M172.8 400.15V467.35M190.4 400.15V467.35M206.4 400.15V467.35M224 400.15V467.35M89.6 411.35H240M89.6 422.55H240M89.6 433.75H240M89.6 444.95H240M89.6 456.15H240"/>
<path class="b" d="M89.6 467.35V400.15H240"/>
<path class="t" d="M89.5 400.35h3.7v1.8h-3.7zM105.5 400.35h3.7v1.8h-3.7zM123.1 400.35h3.7v1.8h-3.7zM139.1 400.35h3.7v1.8h-3.7zM156.7 400.35h3.7v1.8h-3.7zM172.7 400.35h3.7v1.8h-3.7zM190.3 400.35h3.7v1.8h-3.7zM206.3 400.35h3.7v1.8h-3.7zM223.9 400.35h3.7v1.8h-3.7zM239.9 400.35h3.7v1.8h-3.7zM89.5 411.55h3.7v1.8h-3.7zM105.5 411.55h3.7v1.8h-3.7zM123.1 411.55h3.7v1.8h-3.7zM139.1 411.55h3.7v1.8h-3.7zM156.7 411.55h3.7v1.8h-3.7zM172.7 411.55h3.7v1.8h-3.7zM190.3 411.55h3.7v1.8h-3.7zM206.3 411.55h3.7v1.8h-3.7zM223.9 411.55h3.7v1.8h-3.7zM239.9 411.55h3.7v1.8h-3.7zM89.5 422.75h3.7v1.8h-3.7zM105.5 422.75h3.7v1.8h-3.7zM123.1 422.75h3.7v1.8h-3.7zM139.1 422.75h3.7v1.8h-3.7zM156.7 422.75h3.7v1.8h-3.7zM172.7 422.75h3.7v1.8h-3.7zM190.3 422.75h3.7v1.8h-3.7zM206.3 422.75h3.7v1.8h-3.7zM223.9 422.75h3.7v1.8h-3.7zM239.9 422.75h3.7v1.8h-3.7zM89.5 433.95h3.7v1.8h-3.7zM105.5 433.95h3.7v1.8h-3.7zM123.1 433.95h3.7v1.8h-3.7zM139.1 433.95h3.7v1.8h-3.7zM156.7 433.95h3.7v1.8h-3.7zM172.7 433.95h3.7v1.8h-3.7zM190.3 433.95h3.7v1.8h-3.7zM206.3 433.95h3.7v1.8h-3.7zM223.9 433.95h3.7v1.8h-3.7zM239.9 433.95h3.7v1.8h-3.7zM89.5 445.15h3.7v1.8h-3.7zM105.5 445.15h3.7v1.8h-3.7zM123.1 445.15h3.7v1.8h-3.7zM139.1 445.15h3.7v1.8h-3.7zM156.7 445.15h3.7v1.8h-3.7zM172.7 445.15h3.7v1.8h-3.7zM190.3 445.15h3.7v1.8h-3.7zM206.3 445.15h3.7v1.8h-3.7zM223.9 445.15h3.7v1.8h-3.7zM239.9 445.15h3.7v1.8h-3.7zM89.5 456.35h3.7v1.8h-3.7zM105.5 456.35h3.7v1.8h-3.7zM123.1 456.35h3.7v1.8h-3.7zM139.1 456.35h3.7v1.8h-3.7zM156.7 456.35h3.7v1.8h-3.7zM172.7 456.35h3.7v1.8h-3.7zM190.3 456.35h3.7v1.8h-3.7zM206.3 456.35h3.7v1.8h-3.7zM223.9 456.35h3.7v1.8h-3.7zM239.9 456.35h3.7v1.8h-3.7zM105.5 467.55h3.7v1.8h-3.7zM123.1 467.55h3.7v1.8h-3.7zM139.1 467.55h3.7v1.8h-3.7zM156.7 467.55h3.7v1.8h-3.7zM172.7 467.55h3.7v1.8h-3.7zM190.3 467.55h3.7v1.8h-3.7zM206.3 467.55h3.7v1.8h-3.7zM223.9 467.55h3.7v1.8h-3.7zM239.9 467.55h3.7v1.8h-3.7z"/>
</g>
<g>
<rect x="257.6" y="400.15" width="17" height="12.2" fill="#cfff30"/>
<rect x="273.6" y="400.15" width="18.6" height="12.2" fill="#ffbf00"/>
<rect x="291.2" y="400.15" width="17" height="12.2" fill="#ff7000"/>
<rect x="307.2" y="400.15" width="18.6" height="12.2" fill="#ff4000"/>
<rect x="324.8" y="400.15" width="17" height="12.2" fill="#ff2000"/>
<rect x="340.8" y="400.15" width="17" height="12.2" fill="#ff1000"/>
<rect x="356.8" y="400.15" width="18.6" height="12.2" fill="#ff0000"/>
<rect x="374.4" y="400.15" width="17" height="12.2" fill="#ef0000"/>
<rect x="390.4" y="400.15" width="17.6" height="12.2" fill="#df0000"/>
<rect x="257.6" y="411.35" width="17" height="12.2" fill="#efff10"/>
<rect x="273.6" y="411.35" width="18.6" height="12.2" fill="#ff8f00"/>
<rect x="291.2" y="411.35" width="17" height="12.2" fill="#ff5000"/>
<rect x="307.2" y="411.35" width="18.6" height="12.2" fill="#ff2000"/>
<rect x="324.8" y="411.35" width="17" height="12.2" fill="#ff0000"/>
<rect x="340.8" y="411.35" width="17" height="12.2" fill="#ef0000"/>
<rect x="356.8" y="411.35" width="18.6" height="12.2" fill="#df0000"/>
<rect x="374.4" y="411.35" width="17" height="12.2" fill="#cf0000"/>
<rect x="390.4" y="411.35" width="17.6" height="12.2" fill="#cf0000"/>
<rect x="257.6" y="422.55" width="17" height="12.2" fill="#dfff20"/>
<rect x="273.6" y="422.55" width="18.6" height="12.2" fill="#ffaf00"/>
<rect x="291.2" y="422.55" width="17" height="12.2" fill="#ff6000"/>
<rect x="307.2" y="422.55" width="18.6" height="12.2" fill="#ff3000"/>
<rect x="324.8" y="422.55" width="17" height="12.2" fill="#ff2000"/>
<rect x="340.8" y="422.55" width="17" height="12.2" fill="#ff1000"/>
<rect x="356.8" y="422.55" width="18.6" height="12.2" fill="#ff0000"/>
<rect x="374.4" y="422.55" width="17" height="12.2" fill="#ff0000"/>
<rect x="390.4" y="422.55" width="17.6" height="12.2" fill="#ff0000"/>
<rect x="257.6" y="433.75" width="17" height="12.2" fill="#8fff70"/>
<rect x="273.6" y="433.75" width="18.6" height="12.2" fill="#ffff00"/>
<rect x="291.2" y="433.75" width="17" height="12.2" fill="#ffbf00"/>
<rect x="307.2" y="433.75" width="18.6" height="12.2" fill="#ff9f00"/>
<rect x="324.8" y="433.75" width="17" height="12.2" fill="#ff8f00"/>
<rect x="340.8" y="433.75" width="17" height="12.2" fill="#ff8000"/>
<rect x="356.8" y="433.75" width="18.6" height="12.2" fill="#ff8000"/>
<rect x="374.4" y="433.75" width="17" height="12.2" fill="#ff8000"/>
<rect x="390.4" y="433.75" width="17.6" height="12.2" fill="#ff8000"/>
<rect x="257.6" y="444.95" width="17" height="12.2" fill="#10ffef"/>
<rect x="273.6" y="444.95" width="18.6" height="12.2" fill="#60ff9f"/>
<rect x="291.2" y="444.95" width="17" height="12.2" fill="#9fff60"/>
<rect x="307.2" y="444.95" width="18.6" height="12.2" fill="#afff50"/>
<rect x="324.8" y="444.95" width="17" height="12.2" fill="#bfff40"/>
<rect x="340.8" y="444.95" width="17" height="12.2" fill="#bfff40"/>
<rect x="356.8" y="444.95" width="18.6" height="12.2" fill="#bfff40"/>
<rect x="374.4" y="444.95" width="17" height="12.2" fill="#bfff40"/>
<rect x="390.4" y="444.95" width="17.6" height="12.2" fill="#afff50"/>
<rect x="257.6" y="456.15" width="17" height="11.2" fill="#0020ff"/>
<rect x="273.6" y="456.15" width="18.6" height="11.2" fill="#0080ff"/>
<rect x="291.2" y="456.15" width="17" height="11.2" fill="#009fff"/>
<rect x="307.2" y="456.15" width="18.6" height="11.2" fill="#00afff"/>
<rect x="324.8" y="456.15" width="17" height="11.2" fill="#00afff"/>
<rect x="340.8" y="456.15" width="17" height="11.2" fill="#00afff"/>
<rect x="356.8" y="456.15" width="18.6" height="11.2" fill="#009fff"/>
<rect x="374.4" y="456.15" width="17" height="11.2" fill="#008fff"/>
<rect x="390.4" y="456.15" width="17.6" height="11.2" fill="#0080ff"/>
<path class="g" d="M273.6 400.15V467.35M291.2 400.15V467.35M307.2 400.15V467.35M324.8 400.15V467.35M340.8 400.15V467.35M356.8 400.15V467.35M374.4 400.15V467.35M390.4 400.15V467.35M257.6 411.35H408M257.6 422.55H408M257.6 433.75H408M257.6 444.95H408M257.6 456.15H408"/>
<path class="b" d="M257.6 467.35V400.15H408"/>
<path class="t" d="M257.5 400.35h3.7v1.8h-3.7zM273.5 400.35h3.7v1.8h-3.7zM291.1 400.35h3.7v1.8h-3.7zM307.1 400.35h3.7v1.8h-3.7zM324.7 400.35h3.7v1.8h-3.7zM340.7 400.35h3.7v1.8h-3.7zM356.7 400.35h3.7v1.8h-3.7zM374.3 400.35h3.7v1.8h-3.7zM390.3 400.35h3.7v1.8h-3.7zM407.9 400.35h3.7v1.8h-3.7zM257.5 411.55h3.7v1.8h-3.7zM273.5 411.55h3.7v1.8h-3.7zM291.1 411.55h3.7v1.8h-3.7zM307.1 411.55h3.7v1.8h-3.7zM324.7 411.55h3.7v1.8h-3.7zM340.7 411.55h3.7v1.8h-3.7zM356.7 411.55h3.7v1.8h-3.7zM374.3 411.55h3.7v1.8h-3.7zM390.3 411.55h3.7v1.8h-3.7zM407.9 411.55h3.7v1.8h-3.7zM257.5 422.75h3.7v1.8h-3.7zM273.5 422.75h3.7v1.8h-3.7zM291.1 422.75h3.7v1.8h-3.7zM307.1 422.75h3.7v1.8h-3.7zM324.7 422.75h3.7v1.8h-3.7zM340.7 422.75h3.7v1.8h-3.7zM356.7 422.75h3.7v1.8h-3.7zM374.3 422.75h3.7v1.8h-3.7zM390.3 422.75h3.7v1.8h-3.7zM407.9 422.75h3.7v1.8h-3.7zM257.5 433.95h3.7v1.8h-3.7zM273.5 433.95h3.7v1.8h-3.7zM291.1 433.95h3.7v1.8h-3.7zM307.1 433.95h3.7v1.8h-3.7zM324.7 433.95h3.7v1.8h-3.7zM340.7 433.95h3.7v1.8h-3.7zM356.7 433.95h3.7v1.8h-3.7zM374.3 433.95h3.7v1.8h-3.7zM390.3 433.95h3.7v1.8h-3.7zM407.9 433.95h3.7v1.8h-3.7zM257.5 445.15h3.7v1.8h-3.7zM273.5 445.15h3.7v1.8h-3.7zM291.1 445.15h3.7v1.8h-3.7zM307.1 445.15h3.7v1.8h-3.7zM324.7 445.15h3.7v1.8h-3.7zM340.7 445.15h3.7v1.8h-3.7zM356.7 445.15h3.7v1.8h-3.7zM374.3 445.15h3.7v1.8h-3.7zM390.3 445.15h3.7v1.8h-3.7zM407.9 445.15h3.7v1.8h-3.7zM257.5 456.35h3.7v1.8h-3.7zM273.5 456.35h3.7v1.8h-3.7zM291.1 456.35h3.7v1.8h-3.7zM307.1 456.35h3.7v1.8h-3.7zM324.7 456.35h3.7v1.8h-3.7zM340.7 456.35h3.7v1.8h-3.7zM356.7 456.35h3.7v1.8h-3.7zM374.3 456.35h3.7v1.8h-3.7zM390.3 456.35h3.7v1.8h-3.7zM407.9 456.35h3.7v1.8h-3.7zM273.5 467.55h3.7v1.8h-3.7zM291.1 467.55h3.7v1.8h-3.7zM307.1 467.55h3.7v1.8h-3.7zM324.7 467.55h3.7v1.8h-3.7zM340.7 467.55h3.7v1.8h-3.7zM356.7 467.55h3.7v1.8h-3.7zM374.3 467.55h3.7v1.8h-3.7zM390.3 467.55h3.7v1.8h-3.7zM407.9 467.55h3.7v1.8h-3.7z"/>
</g>
<g>
<rect x="424" y="400.15" width="18.6" height="12.2" fill="#cfff30"/>
<rect x="441.6" y="400.15" width="17" height="12.2" fill="#ffaf00"/>
<rect x="457.6" y="400.15" width="18.6" height="12.2" fill="#ff6000"/>
<rect x="475.2" y="400.15" width="17" height="12.2" fill="#ff3000"/>
<rect x="491.2" y="400.15" width="18.6" height="12.2" fill="#ff1000"/>
<rect x="508.8" y="400.15" width="17" height="12.2" fill="#ff0000"/>
<rect x="524.8" y="400.15" width="18.6" height="12.2" fill="#ef0000"/>
<rect x="542.4" y="400.15" width="17" height="12.2" fill="#df0000"/>
<rect x="558.4" y="400.15" width="17.6" height="12.2" fill="#df0000"/>
<rect x="424" y="411.35" width="18.6" height="12.2" fill="#ffef00"/>
<rect x="441.6" y="411.35" width="17" height="12.2" fill="#ff8000"/>
<rect x="457.6" y="411.35" width="18.6" height="12.2" fill="#ff3000"/>
<rect x="475.2" y="411.35" width="17" height="12.2" fill="#ff0000"/>
<rect x="491.2" y="411.35" width="18.6" height="12.2" fill="#ef0000"/>
<rect x="508.8" y="411.35" width="17" height="12.2" fill="#df0000"/>
<rect x="524.8" y="411.35" width="18.6" height="12.2" fill="#cf0000"/>
<rect x="542.4" y="411.35" width="17" height="12.2" fill="#bf0000"/>
<rect x="558.4" y="411.35" width="17.6" height="12.2" fill="#bf0000"/>
<rect x="424" y="422.55" width="18.6" height="12.2" fill="#ffff00"/>
<rect x="441.6" y="422.55" width="17" height="12.2" fill="#ff8f00"/>
<rect x="457.6" y="422.55" width="18.6" height="12.2" fill="#ff4000"/>
<rect x="475.2" y="422.55" width="17" height="12.2" fill="#ff2000"/>
<rect x="491.2" y="422.55" width="18.6" height="12.2" fill="#ff0000"/>
<rect x="508.8" y="422.55" width="17" height="12.2" fill="#ef0000"/>
<rect x="524.8" y="422.55" width="18.6" height="12.2" fill="#ef0000"/>
<rect x="542.4" y="422.55" width="17" height="12.2" fill="#ef0000"/>
<rect x="558.4" y="422.55" width="17.6" height="12.2" fill="#ef0000"/>
<rect x="424" y="433.75" width="18.6" height="12.2" fill="#bfff40"/>
<rect x="441.6" y="433.75" width="17" height="12.2" fill="#ffcf00"/>
<rect x="457.6" y="433.75" width="18.6" height="12.2" fill="#ff9f00"/>
<rect x="475.2" y="433.75" width="17" height="12.2" fill="#ff8000"/>
<rect x="491.2" y="433.75" width="18.6" height="12.2" fill="#ff7000"/>
<rect x="508.8" y="433.75" width="17" height="12.2" fill="#ff6000"/>
<rect x="524.8" y="433.75" width="18.6" height="12.2" fill="#ff6000"/>
<rect x="542.4" y="433.75" width="17" height="12.2" fill="#ff6000"/>
<rect x="558.4" y="433.75" width="17.6" height="12.2" fill="#ff6000"/>
<rect x="424" y="444.95" width="18.6" height="12.2" fill="#40ffbf"/>
<rect x="441.6" y="444.95" width="17" height="12.2" fill="#8fff70"/>
<rect x="457.6" y="444.95" width="18.6" height="12.2" fill="#bfff40"/>
<rect x="475.2" y="444.95" width="17" height="12.2" fill="#dfff20"/>
<rect x="491.2" y="444.95" width="18.6" height="12.2" fill="#dfff20"/>
<rect x="508.8" y="444.95" width="17" height="12.2" fill="#dfff20"/>
<rect x="524.8" y="444.95" width="18.6" height="12.2" fill="#dfff20"/>
<rect x="542.4" y="444.95" width="17" height="12.2" fill="#dfff20"/>
<rect x="558.4" y="444.95" width="17.6" height="12.2" fill="#cfff30"/>
<rect x="424" y="456.15" width="18.6" height="11.2" fill="#0060ff"/>
<rect x="441.6" y="456.15" width="17" height="11.2" fill="#00afff"/>
<rect x="457.6" y="456.15" width="18.6" height="11.2" fill="#00cfff"/>
<rect x="475.2" y="456.15" width="17" height="11.2" fill="#00dfff"/>
<rect x="491.2" y="456.15" width="18.6" height="11.2" fill="#00dfff"/>
<rect x="508.8" y="456.15" width="17" height="11.2" fill="#00cfff"/>
<rect x="524.8" y="456.15" width="18.6" height="11.2" fill="#00cfff"/>
<rect x="542.4" y="456.15" width="17" height="11.2" fill="#00bfff"/>
<rect x="558.4" y="456.15" width="17.6" height="11.2" fill="#00afff"/>
<path class="g" d="M441.6 400.15V467.35M457.6 400.15V467.35M475.2 400.15V467.35M491.2 400.15V467.35M508.8 400.15V467.35M524.8 400.15V467.35M542.4 400.15V467.35M558.4 400.15V467.35M424 411.35H576M424 422.55H576M424 433.75H576M424 444.95H576M424 456.15H576"/>
<path class="b" d="M424 467.35V400.15H576"/>
<path class="t" d="M423.9 400.35h3.7v1.8h-3.7zM441.5 400.35h3.7v1.8h-3.7zM457.5 400.35h3.7v1.8h-3.7zM475.1 400.35h3.7v1.8h-3.7zM491.1 400.35h3.7v1.8h-3.7zM508.7 400.35h3.7v1.8h-3.7zM524.7 400.35h3.7v1.8h-3.7zM542.3 400.35h3.7v1.8h-3.7zM558.3 400.35h3.7v1.8h-3.7zM575.9 400.35h3.7v1.8h-3.7zM423.9 411.55h3.7v1.8h-3.7zM441.5 411.55h3.7v1.8h-3.7zM457.5 411.55h3.7v1.8h-3.7zM475.1 411.55h3.7v1.8h-3.7zM491.1 411.55h3.7v1.8h-3.7zM508.7 411.55h3.7v1.8h-3.7zM524.7 411.55h3.7v1.8h-3.7zM542.3 411.55h3.7v1.8h-3.7zM558.3 411.55h3.7v1.8h-3.7zM575.9 411.55h3.7v1.8h-3.7zM423.9 422.75h3.7v1.8h-3.7zM441.5 422.75h3.7v1.8h-3.7zM457.5 422.75h3.7v1.8h-3.7zM475.1 422.75h3.7v1.8h-3.7zM491.1 422.75h3.7v1.8h-3.7zM508.7 422.75h3.7v1.8h-3.7zM524.7 422.75h3.7v1.8h-3.7zM542.3 422.75h3.7v1.8h-3.7zM558.3 422.75h3.7v1.8h-3.7zM575.9 422.75h3.7v1.8h-3.7zM423.9 433.95h3.7v1.8h-3.7zM441.5 433.95h3.7v1.8h-3.7zM457.5 433.95h3.7v1.8h-3.7zM475.1 433.95h3.7v1.8h-3.7zM491.1 433.95h3.7v1.8h-3.7zM508.7 433.95h3.7v1.8h-3.7zM524.7 433.95h3.7v1.8h-3.7zM542.3 433.95h3.7v1.8h-3.7zM558.3 433.95h3.7v1.8h-3.7zM575.9 433.95h3.7v1.8h-3.7zM423.9 445.15h3.7v1.8h-3.7zM441.5 445.15h3.7v1.8h-3.7zM457.5 445.15h3.7v1.8h-3.7zM475.1 445.15h3.7v1.8h-3.7zM491.1 445.15h3.7v1.8h-3.7zM508.7 445.15h3.7v1.8h-3.7zM524.7 445.15h3.7v1.8h-3.7zM542.3 445.15h3.7v1.8h-3.7zM558.3 445.15h3.7v1.8h-3.7zM575.9 445.15h3.7v1.8h-3.7zM423.9 456.35h3.7v1.8h-3.7zM441.5 456.35h3.7v1.8h-3.7zM457.5 456.35h3.7v1.8h-3.7zM475.1 456.35h3.7v1.8h-3.7zM491.1 456.35h3.7v1.8h-3.7zM508.7 456.35h3.7v1.8h-3.7zM524.7 456.35h3.7v1.8h-3.7zM542.3 456.35h3.7v1.8h-3.7zM558.3 456.35h3.7v1.8h-3.7zM575.9 456.35h3.7v1.8h-3.7zM441.5 467.55h3.7v1.8h-3.7zM457.5 467.55h3.7v1.8h-3.7zM475.1 467.55h3.7v1.8h-3.7zM491.1 467.55h3.7v1.8h-3.7zM508.7 467.55h3.7v1.8h-3.7zM524.7 467.55h3.7v1.8h-3.7zM542.3 467.55h3.7v1.8h-3.7zM558.3 467.55h3.7v1.8h-3.7zM575.9 467.55h3.7v1.8h-3.7z"/>
</g>
<g>
<rect x="592" y="400.15" width="18.6" height="12.2" fill="#afff50"/>
<rect x="609.6" y="400.15" width="17" height="12.2" fill="#ffcf00"/>
<rect x="625.6" y="400.15" width="18.6" height="12.2" fill="#ff8000"/>
<rect x="643.2" y="400.15" width="17" height="12.2" fill="#ff4000"/>
<rect x="659.2" y="400.15" width="17" height="12.2" fill="#ff2000"/>
<rect x="675.2" y="400.15" width="18.6" height="12.2" fill="#ff1000"/>
<rect x="692.8" y="400.15" width="17" height="12.2" fill="#ef0000"/>
<rect x="708.8" y="400.15" width="18.6" height="12.2" fill="#ef0000"/>
<rect x="726.4" y="400.15" width="16" height="12.2" fill="#df0000"/>
<rect x="592" y="411.35" width="18.6" height="12.2" fill="#efff10"/>
<rect x="609.6" y="411.35" width="17" height="12.2" fill="#ff8f00"/>
<rect x="625.6" y="411.35" width="18.6" height="12.2" fill="#ff4000"/>
<rect x="643.2" y="411.35" width="17" height="12.2" fill="#ff1000"/>
<rect x="659.2" y="411.35" width="17" height="12.2" fill="#ef0000"/>
<rect x="675.2" y="411.35" width="18.6" height="12.2" fill="#df0000"/>
<rect x="692.8" y="411.35" width="17" height="12.2" fill="#cf0000"/>
<rect x="708.8" y="411.35" width="18.6" height="12.2" fill="#bf0000"/>
<rect x="726.4" y="411.35" width="16" height="12.2" fill="#bf0000"/>
<rect x="592" y="422.55" width="18.6" height="12.2" fill="#ffff00"/>
<rect x="609.6" y="422.55" width="17" height="12.2" fill="#ff8f00"/>
<rect x="625.6" y="422.55" width="18.6" height="12.2" fill="#ff4000"/>
<rect x="643.2" y="422.55" width="17" height="12.2" fill="#ff2000"/>
<rect x="659.2" y="422.55" width="17" height="12.2" fill="#ff0000"/>
<rect x="675.2" y="422.55" width="18.6" height="12.2" fill="#ef0000"/>
<rect x="692.8" y="422.55" width="17" height="12.2" fill="#df0000"/>
<rect x="708.8" y="422.55" width="18.6" height="12.2" fill="#df0000"/>
<rect x="726.4" y="422.55" width="16" height="12.2" fill="#df0000"/>
<rect x="592" y="433.75" width="18.6" height="12.2" fill="#cfff30"/>
<rect x="609.6" y="433.75" width="17" height="12.2" fill="#ffcf00"/>
<rect x="625.6" y="433.75" width="18.6" height="12.2" fill="#ff8f00"/>
<rect x="643.2" y="433.75" width="17" height="12.2" fill="#ff7000"/>
<rect x="659.2" y="433.75" width="17" height="12.2" fill="#ff6000"/>
<rect x="675.2" y="433.75" width="18.6" height="12.2" fill="#ff5000"/>
<rect x="692.8" y="433.75" width="17" height="12.2" fill="#ff5000"/>
<rect x="708.8" y="433.75" width="18.6" height="12.2" fill="#ff5000"/>
<rect x="726.4" y="433.75" width="16" height="12.2" fill="#ff5000"/>
<rect x="592" y="444.95" width="18.6" height="12.2" fill="#50ffaf"/>
<rect x="609.6" y="444.95" width="17" height="12.2" fill="#9fff60"/>
<rect x="625.6" y="444.95" width="18.6" height="12.2" fill="#cfff30"/>
<rect x="643.2" y="444.95" width="17" height="12.2" fill="#efff10"/>
<rect x="659.2" y="444.95" width="17" height="12.2" fill="#ffff00"/>
<rect x="675.2" y="444.95" width="18.6" height="12.2" fill="#ffff00"/>
<rect x="692.8" y="444.95" width="17" height="12.2" fill="#ffff00"/>
<rect x="708.8" y="444.95" width="18.6" height="12.2" fill="#efff10"/>
<rect x="726.4" y="444.95" width="16" height="12.2" fill="#efff10"/>
<rect x="592" y="456.15" width="18.6" height="11.2" fill="#0080ff"/>
<rect x="609.6" y="456.15" width="17" height="11.2" fill="#00bfff"/>
<rect x="625.6" y="456.15" width="18.6" height="11.2" fill="#00dfff"/>
<rect x="643.2" y="456.15" width="17" height="11.2" fill="#00efff"/>
<rect x="659.2" y="456.15" width="17" height="11.2" fill="#00ffff"/>
<rect x="675.2" y="456.15" width="18.6" height="11.2" fill="#00efff"/>
<rect x="692.8" y="456.15" width="17" height="11.2" fill="#00efff"/>
<rect x="708.8" y="456.15" width="18.6" height="11.2" fill="#00dfff"/>
<rect x="726.4" y="456.15" width="16" height="11.2" fill="#00cfff"/>
<path class="g" d="M609.6 400.15V467.35M625.6 400.15V467.35M643.2 400.15V467.35M659.2 400.15V467.35M675.2 400.15V467.35M692.8 400.15V467.35M708.8 400.15V467.35M726.4 400.15V467.35M592 411.35H742.4M592 422.55H742.4M592 433.75H742.4M592 444.95H742.4M592 456.15H742.4"/>
<path class="b" d="M592 467.35V400.15H742.4"/>
<path class="t" d="M591.9 400.35h3.7v1.8h-3.7zM609.5 400.35h3.7v1.8h-3.7zM625.5 400.35h3.7v1.8h-3.7zM643.1 400.35h3.7v1.8h-3.7zM659.1 400.35h3.7v1.8h-3.7zM675.1 400.35h3.7v1.8h-3.7zM692.7 400.35h3.7v1.8h-3.7zM708.7 400.35h3.7v1.8h-3.7zM726.3 400.35h3.7v1.8h-3.7zM742.3 400.35h3.7v1.8h-3.7zM591.9 411.55h3.7v1.8h-3.7zM609.5 411.55h3.7v1.8h-3.7zM625.5 411.55h3.7v1.8h-3.7zM643.1 411.55h3.7v1.8h-3.7zM659.1 411.55h3.7v1.8h-3.7zM675.1 411.55h3.7v1.8h-3.7zM692.7 411.55h3.7v1.8h-3.7zM708.7 411.55h3.7v1.8h-3.7zM726.3 411.55h3.7v1.8h-3.7zM742.3 411.55h3.7v1.8h-3.7zM591.9 422.75h3.7v1.8h-3.7zM609.5 422.75h3.7v1.8h-3.7zM625.5 422.75h3.7v1.8h-3.7zM643.1 422.75h3.7v1.8h-3.7zM659.1 422.75h3.7v1.8h-3.7zM675.1 422.75h3.7v1.8h-3.7zM692.7 422.75h3.7v1.8h-3.7zM708.7 422.75h3.7v1.8h-3.7zM726.3 422.75h3.7v1.8h-3.7zM742.3 422.75h3.7v1.8h-3.7zM591.9 433.95h3.7v1.8h-3.7zM609.5 433.95h3.7v1.8h-3.7zM625.5 433.95h3.7v1.8h-3.7zM643.1 433.95h3.7v1.8h-3.7zM659.1 433.95h3.7v1.8h-3.7zM675.1 433.95h3.7v1.8h-3.7zM692.7 433.95h3.7v1.8h-3.7zM708.7 433.95h3.7v1.8h-3.7zM726.3 433.95h3.7v1.8h-3.7zM742.3 433.95h3.7v1.8h-3.7zM591.9 445.15h3.7v1.8h-3.7zM609.5 445.15h3.7v1.8h-3.7zM625.5 445.15h3.7v1.8h-3.7zM643.1 445.15h3.7v1.8h-3.7zM659.1 445.15h3.7v1.8h-3.7zM675.1 445.15h3.7v1.8h-3.7zM692.7 445.15h3.7v1.8h-3.7zM708.7 445.15h3.7v1.8h-3.7zM726.3 445.15h3.7v1.8h-3.7zM742.3 445.15h3.7v1.8h-3.7zM591.9 456.35h3.7v1.8h-3.7zM609.5 456.35h3.7v1.8h-3.7zM625.5 456.35h3.7v1.8h-3.7zM643.1 456.35h3.7v1.8h-3.7zM659.1 456.35h3.7v1.8h-3.7zM675.1 456.35h3.7v1.8h-3.7zM692.7 456.35h3.7v1.8h-3.7zM708.7 456.35h3.7v1.8h-3.7zM726.3 456.35h3.7v1.8h-3.7zM742.3 456.35h3.7v1.8h-3.7zM609.5 467.55h3.7v1.8h-3.7zM625.5 467.55h3.7v1.8h-3.7zM643.1 467.55h3.7v1.8h-3.7zM659.1 467.55h3.7v1.8h-3.7zM675.1 467.55h3.7v1.8h-3.7zM692.7 467.55h3.7v1.8h-3.7zM708.7 467.55h3.7v1.8h-3.7zM726.3 467.55h3.7v1.8h-3.7zM742.3 467.55h3.7v1.8h-3.7z"/>
</g>
<g>
<rect x="760" y="400.15" width="17" height="12.2" fill="#60ff9f"/>
<rect x="776" y="400.15" width="18.6" height="12.2" fill="#efff10"/>
<rect x="793.6" y="400.15" width="17" height="12.2" fill="#ffaf00"/>
<rect x="809.6" y="400.15" width="18.6" height="12.2" fill="#ff7000"/>
<rect x="827.2" y="400.15" width="17" height="12.2" fill="#ff4000"/>
<rect x="843.2" y="400.15" width="18.6" height="12.2" fill="#ff2000"/>
<rect x="860.8" y="400.15" width="17" height="12.2" fill="#ff1000"/>
<rect x="876.8" y="400.15" width="18.6" height="12.2" fill="#ff0000"/>
<rect x="894.4" y="400.15" width="16" height="12.2" fill="#ef0000"/>
<rect x="760" y="411.35" width="17" height="12.2" fill="#afff50"/>
<rect x="776" y="411.35" width="18.6" height="12.2" fill="#ffcf00"/>
<rect x="793.6" y="411.35" width="17" height="12.2" fill="#ff7000"/>
<rect x="809.6" y="411.35" width="18.6" height="12.2" fill="#ff3000"/>
<rect x="827.2" y="411.35" width="17" height="12.2" fill="#ff1000"/>
<rect x="843.2" y="411.35" width="18.6" height="12.2" fill="#ef0000"/>
<rect x="860.8" y="411.35" width="17" height="12.2" fill="#df0000"/>
<rect x="876.8" y="411.35" width="18.6" height="12.2" fill="#cf0000"/>
<rect x="894.4" y="411.35" width="16" height="12.2" fill="#bf0000"/>
<rect x="760" y="422.55" width="17" height="12.2" fill="#bfff40"/>
<rect x="776" y="422.55" width="18.6" height="12.2" fill="#ffbf00"/>
<rect x="793.6" y="422.55" width="17" height="12.2" fill="#ff7000"/>
<rect x="809.6" y="422.55" width="18.6" height="12.2" fill="#ff3000"/>
<rect x="827.2" y="422.55" width="17" height="12.2" fill="#ff1000"/>
<rect x="843.2" y="422.55" width="18.6" height="12.2" fill="#ff0000"/>
<rect x="860.8" y="422.55" width="17" height="12.2" fill="#ef0000"/>
<rect x="876.8" y="422.55" width="18.6" height="12.2" fill="#df0000"/>
<rect x="894.4" y="422.55" width="16" height="12.2" fill="#df0000"/>
<rect x="760" y="433.75" width="17" height="12.2" fill="#8fff70"/>
<rect x="776" y="433.75" width="18.6" height="12.2" fill="#ffef00"/>
<rect x="793.6" y="433.75" width="17" height="12.2" fill="#ffaf00"/>
<rect x="809.6" y="433.75" width="18.6" height="12.2" fill="#ff8000"/>
<rect x="827.2" y="433.75" width="17" height="12.2" fill="#ff6000"/>
<rect x="843.2" y="433.75" width="18.6" height="12.2" fill="#ff5000"/>
<rect x="860.8" y="433.75" width="17" height="12.2" fill="#ff5000"/>
<rect x="876.8" y="433.75" width="18.6" height="12.2" fill="#ff4000"/>
<rect x="894.4" y="433.75" width="16" height="12.2" fill="#ff4000"/>
<rect x="760" y="444.95" width="17" height="12.2" fill="#30ffcf"/>
<rect x="776" y="444.95" width="18.6" height="12.2" fill="#80ff80"/>
<rect x="793.6" y="444.95" width="17" height="12.2" fill="#bfff40"/>
<rect x="809.6" y="444.95" width="18.6" height="12.2" fill="#dfff20"/>
<rect x="827.2" y="444.95" width="17" height="12.2" fill="#ffff00"/>
<rect x="843.2" y="444.95" width="18.6" height="12.2" fill="#ffff00"/>
<rect x="860.8" y="444.95" width="17" height="12.2" fill="#ffef00"/>
<rect x="876.8" y="444.95" width="18.6" height="12.2" fill="#ffef00"/>
<rect x="894.4" y="444.95" width="16" height="12.2" fill="#ffff00"/>
<rect x="760" y="456.15" width="17" height="11.2" fill="#0070ff"/>
<rect x="776" y="456.15" width="18.6" height="11.2" fill="#00bfff"/>
<rect x="793.6" y="456.15" width="17" height="11.2" fill="#00dfff"/>
<rect x="809.6" y="456.15" width="18.6" height="11.2" fill="#00ffff"/>
<rect x="827.2" y="456.15" width="17" height="11.2" fill="#00ffff"/>
<rect x="843.2" y="456.15" width="18.6" height="11.2" fill="#00ffff"/>
<rect x="860.8" y="456.15" width="17" height="11.2" fill="#00ffff"/>
<rect x="876.8" y="456.15" width="18.6" height="11.2" fill="#00ffff"/>
<rect x="894.4" y="456.15" width="16" height="11.2" fill="#00efff"/>
<path class="g" d="M776 400.15V467.35M793.6 400.15V467.35M809.6 400.15V467.35M827.2 400.15V467.35M843.2 400.15V467.35M860.8 400.15V467.35M876.8 400.15V467.35M894.4 400.15V467.35M760 411.35H910.4M760 422.55H910.4M760 433.75H910.4M760 444.95H910.4M760 456.15H910.4"/>
<path class="b" d="M760 467.35V400.15H910.4"/>
<path class="t" d="M759.9 400.35h3.7v1.8h-3.7zM775.9 400.35h3.7v1.8h-3.7zM793.5 400.35h3.7v1.8h-3.7zM809.5 400.35h3.7v1.8h-3.7zM827.1 400.35h3.7v1.8h-3.7zM843.1 400.35h3.7v1.8h-3.7zM860.7 400.35h3.7v1.8h-3.7zM876.7 400.35h3.7v1.8h-3.7zM894.3 400.35h3.7v1.8h-3.7zM910.3 400.35h3.7v1.8h-3.7zM759.9 411.55h3.7v1.8h-3.7zM775.9 411.55h3.7v1.8h-3.7zM793.5 411.55h3.7v1.8h-3.7zM809.5 411.55h3.7v1.8h-3.7zM827.1 411.55h3.7v1.8h-3.7zM843.1 411.55h3.7v1.8h-3.7zM860.7 411.55h3.7v1.8h-3.7zM876.7 411.55h3.7v1.8h-3.7zM894.3 411.55h3.7v1.8h-3.7zM910.3 411.55h3.7v1.8h-3.7zM759.9 422.75h3.7v1.8h-3.7zM775.9 422.75h3.7v1.8h-3.7zM793.5 422.75h3.7v1.8h-3.7zM809.5 422.75h3.7v1.8h-3.7zM827.1 422.75h3.7v1.8h-3.7zM843.1 422.75h3.7v1.8h-3.7zM860.7 422.75h3.7v1.8h-3.7zM876.7 422.75h3.7v1.8h-3.7zM894.3 422.75h3.7v1.8h-3.7zM910.3 422.75h3.7v1.8h-3.7zM759.9 433.95h3.7v1.8h-3.7zM775.9 433.95h3.7v1.8h-3.7zM793.5 433.95h3.7v1.8h-3.7zM809.5 433.95h3.7v1.8h-3.7zM827.1 433.95h3.7v1.8h-3.7zM843.1 433.95h3.7v1.8h-3.7zM860.7 433.95h3.7v1.8h-3.7zM876.7 433.95h3.7v1.8h-3.7zM894.3 433.95h3.7v1.8h-3.7zM910.3 433.95h3.7v1.8h-3.7zM759.9 445.15h3.7v1.8h-3.7zM775.9 445.15h3.7v1.8h-3.7zM793.5 445.15h3.7v1.8h-3.7zM809.5 445.15h3.7v1.8h-3.7zM827.1 445.15h3.7v1.8h-3.7zM843.1 445.15h3.7v1.8h-3.7zM860.7 445.15h3.7v1.8h-3.7zM876.7 445.15h3.7v1.8h-3.7zM894.3 445.15h3.7v1.8h-3.7zM910.3 445.15h3.7v1.8h-3.7zM759.9 456.35h3.7v1.8h-3.7zM775.9 456.35h3.7v1.8h-3.7zM793.5 456.35h3.7v1.8h-3.7zM809.5 456.35h3.7v1.8h-3.7zM827.1 456.35h3.7v1.8h-3.7zM843.1 456.35h3.7v1.8h-3.7zM860.7 456.35h3.7v1.8h-3.7zM876.7 456.35h3.7v1.8h-3.7zM894.3 456.35h3.7v1.8h-3.7zM910.3 456.35h3.7v1.8h-3.7zM775.9 467.55h3.7v1.8h-3.7zM793.5 467.55h3.7v1.8h-3.7zM809.5 467.55h3.7v1.8h-3.7zM827.1 467.55h3.7v1.8h-3.7zM843.1 467.55h3.7v1.8h-3.7zM860.7 467.55h3.7v1.8h-3.7zM876.7 467.55h3.7v1.8h-3.7zM894.3 467.55h3.7v1.8h-3.7zM910.3 467.55h3.7v1.8h-3.7z"/>
</g>
<g>
<rect x="89.6" y="489.75" width="17" height="12.2" fill="#70ff8f"/>
<rect x="105.6" y="489.75" width="18.6" height="12.2" fill="#efff10"/>
<rect x="123.2" y="489.75" width="17" height="12.2" fill="#ffcf00"/>
<rect x="139.2" y="489.75" width="18.6" height="12.2" fill="#ff9f00"/>
<rect x="156.8" y="489.75" width="17" height="12.2" fill="#ff8000"/>
<rect x="172.8" y="489.75" width="18.6" height="12.2" fill="#ff6000"/>
<rect x="190.4" y="489.75" width="17" height="12.2" fill="#ff5000"/>
<rect x="206.4" y="489.75" width="18.6" height="12.2" fill="#ff5000"/>
<rect x="224" y="489.75" width="16" height="12.2" fill="#ff4000"/>
<rect x="89.6" y="500.95" width="17" height="12.2" fill="#8fff70"/>
<rect x="105.6" y="500.95" width="18.6" height="12.2" fill="#ffef00"/>
<rect x="123.2" y="500.95" width="17" height="12.2" fill="#ffaf00"/>
<rect x="139.2" y="500.95" width="18.6" height="12.2" fill="#ff8000"/>
<rect x="156.8" y="500.95" width="17" height="12.2" fill="#ff6000"/>
<rect x="172.8" y="500.95" width="18.6" height="12.2" fill="#ff4000"/>
<rect x="190.4" y="500.95" width="17" height="12.2" fill="#ff3000"/>
<rect x="206.4" y="500.95" width="18.6" height="12.2" fill="#ff3000"/>
<rect x="224" y="500.95" width="16" height="12.2" fill="#ff3000"/>
<rect x="89.6" y="512.15" width="17" height="10.6" fill="#80ff80"/>
<rect x="105.6" y="512.15" width="18.6" height="10.6" fill="#efff10"/>
<rect x="123.2" y="512.15" width="17" height="10.6" fill="#ffbf00"/>
<rect x="139.2" y="512.15" width="18.6" height="10.6" fill="#ff9f00"/>
<rect x="156.8" y="512.15" width="17" height="10.6" fill="#ff8000"/>
<rect x="172.8" y="512.15" width="18.6" height="10.6" fill="#ff7000"/>
<rect x="190.4" y="512.15" width="17" height="10.6" fill="#ff6000"/>
<rect x="206.4" y="512.15" width="18.6" height="10.6" fill="#ff6000"/>
<rect x="224" y="512.15" width="16" height="10.6" fill="#ff6000"/>
<rect x="89.6" y="521.75" width="17" height="12.2" fill="#30ffcf"/>
<rect x="105.6" y="521.75" width="18.6" height="12.2" fill="#9fff60"/>
<rect x="123.2" y="521.75" width="17" height="12.2" fill="#dfff20"/>
<rect x="139.2" y="521.75" width="18.6" height="12.2" fill="#ffff00"/>
<rect x="156.8" y="521.75" width="17" height="12.2" fill="#ffdf00"/>
<rect x="172.8" y="521.75" width="18.6" height="12.2" fill="#ffdf00"/>
<rect x="190.4" y="521.75" width="17" height="12.2" fill="#ffcf00"/>
<rect x="206.4" y="521.75" width="18.6" height="12.2" fill="#ffcf00"/>
<rect x="224" y="521.75" width="16" height="12.2" fill="#ffcf00"/>
<rect x="89.6" y="532.95" width="17" height="12.2" fill="#009fff"/>
<rect x="105.6" y="532.95" width="18.6" height="12.2" fill="#00ffff"/>
<rect x="123.2" y="532.95" width="17" height="12.2" fill="#30ffcf"/>
<rect x="139.2" y="532.95" width="18.6" height="12.2" fill="#50ffaf"/>
<rect x="156.8" y="532.95" width="17" height="12.2" fill="#60ff9f"/>
<rect x="172.8" y="532.95" width="18.6" height="12.2" fill="#70ff8f"/>
<rect x="190.4" y="532.95" width="17" height="12.2" fill="#60ff9f"/>
<rect x="206.4" y="532.95" width="18.6" height="12.2" fill="#60ff9f"/>
<rect x="224" y="532.95" width="16" height="12.2" fill="#50ffaf"/>
<rect x="89.6" y="544.15" width="17" height="11.2" fill="#0000cf"/>
<rect x="105.6" y="544.15" width="18.6" height="11.2" fill="#0020ff"/>
<rect x="123.2" y="544.15" width="17" height="11.2" fill="#0050ff"/>
<rect x="139.2" y="544.15" width="18.6" height="11.2" fill="#0060ff"/>
<rect x="156.8" y="544.15" width="17" height="11.2" fill="#0060ff"/>
<rect x="172.8" y="544.15" width="18.6" height="11.2" fill="#0060ff"/>
<rect x="190.4" y="544.15" width="17" height="11.2" fill="#0050ff"/>
<rect x="206.4" y="544.15" width="18.6" height="11.2" fill="#0040ff"/>
<rect x="224" y="544.15" width="16" height="11.2" fill="#0030ff"/>
<path class="g" d="M105.6 489.75V555.35M123.2 489.75V555.35M139.2 489.75V555.35M156.8 489.75V555.35M172.8 489.75V555.35M190.4 489.75V555.35M206.4 489.75V555.35M224 489.75V555.35M89.6 500.95H240M89.6 512.15H240M89.6 521.75H240M89.6 532.95H240M89.6 544.15H240"/>
<path class="b" d="M89.6 555.35V489.75H240"/>
<path class="t" d="M89.5 489.95h3.7v1.8h-3.7zM105.5 489.95h3.7v1.8h-3.7zM123.1 489.95h3.7v1.8h-3.7zM139.1 489.95h3.7v1.8h-3.7zM156.7 489.95h3.7v1.8h-3.7zM172.7 489.95h3.7v1.8h-3.7zM190.3 489.95h3.7v1.8h-3.7zM206.3 489.95h3.7v1.8h-3.7zM223.9 489.95h3.7v1.8h-3.7zM239.9 489.95h3.7v1.8h-3.7zM89.5 501.15h3.7v1.8h-3.7zM105.5 501.15h3.7v1.8h-3.7zM123.1 501.15h3.7v1.8h-3.7zM139.1 501.15h3.7v1.8h-3.7zM156.7 501.15h3.7v1.8h-3.7zM172.7 501.15h3.7v1.8h-3.7zM190.3 501.15h3.7v1.8h-3.7zM206.3 501.15h3.7v1.8h-3.7zM223.9 501.15h3.7v1.8h-3.7zM239.9 501.15h3.7v1.8h-3.7zM89.5 512.35h3.7v1.8h-3.7zM105.5 512.35h3.7v1.8h-3.7zM123.1 512.35h3.7v1.8h-3.7zM139.1 512.35h3.7v1.8h-3.7zM156.7 512.35h3.7v1.8h-3.7zM172.7 512.35h3.7v1.8h-3.7zM190.3 512.35h3.7v1.8h-3.7zM206.3 512.35h3.7v1.8h-3.7zM223.9 512.35h3.7v1.8h-3.7zM239.9 512.35h3.7v1.8h-3.7zM89.5 521.95h3.7v1.8h-3.7zM105.5 521.95h3.7v1.8h-3.7zM123.1 521.95h3.7v1.8h-3.7zM139.1 521.95h3.7v1.8h-3.7zM156.7 521.95h3.7v1.8h-3.7zM172.7 521.95h3.7v1.8h-3.7zM190.3 521.95h3.7v1.8h-3.7zM206.3 521.95h3.7v1.8h-3.7zM223.9 521.95h3.7v1.8h-3.7zM239.9 521.95h3.7v1.8h-3.7zM89.5 533.15h3.7v1.8h-3.7zM105.5 533.15h3.7v1.8h-3.7zM123.1 533.15h3.7v1.8h-3.7zM139.1 533.15h3.7v1.8h-3.7zM156.7 533.15h3.7v1.8h-3.7zM172.7 533.15h3.7v1.8h-3.7zM190.3 533.15h3.7v1.8h-3.7zM206.3 533.15h3.7v1.8h-3.7zM223.9 533.15h3.7v1.8h-3.7zM239.9 533.15h3.7v1.8h-3.7zM89.5 544.35h3.7v1.8h-3.7zM105.5 544.35h3.7v1.8h-3.7zM123.1 544.35h3.7v1.8h-3.7zM139.1 544.35h3.7v1.8h-3.7zM156.7 544.35h3.7v1.8h-3.7zM172.7 544.35h3.7v1.8h-3.7zM190.3 544.35h3.7v1.8h-3.7zM206.3 544.35h3.7v1.8h-3.7zM223.9 544.35h3.7v1.8h-3.7zM239.9 544.35h3.7v1.8h-3.7zM105.5 555.55h3.7v1.8h-3.7zM123.1 555.55h3.7v1.8h-3.7zM139.1 555.55h3.7v1.8h-3.7zM156.7 555.55h3.7v1.8h-3.7zM172.7 555.55h3.7v1.8h-3.7zM190.3 555.55h3.7v1.8h-3.7zM206.3 555.55h3.7v1.8h-3.7zM223.9 555.55h3.7v1.8h-3.7zM239.9 555.55h3.7v1.8h-3.7z"/>
</g>
<g>
<rect x="257.6" y="489.75" width="17" height="12.2" fill="#9fff60"/>
<rect x="273.6" y="489.75" width="18.6" height="12.2" fill="#ffef00"/>
<rect x="291.2" y="489.75" width="17" height="12.2" fill="#ff9f00"/>
<rect x="307.2" y="489.75" width="18.6" height="12.2" fill="#ff8000"/>
<rect x="324.8" y="489.75" width="17" height="12.2" fill="#ff6000"/>
<rect x="340.8" y="489.75" width="17" height="12.2" fill="#ff5000"/>
<rect x="356.8" y="489.75" width="18.6" height="12.2" fill="#ff4000"/>
<rect x="374.4" y="489.75" width="17" height="12.2" fill="#ff4000"/>
<rect x="390.4" y="489.75" width="17.6" height="12.2" fill="#ff3000"/>
<rect x="257.6" y="500.95" width="17" height="12.2" fill="#cfff30"/>
<rect x="273.6" y="500.95" width="18.6" height="12.2" fill="#ffbf00"/>
<rect x="291.2" y="500.95" width="17" height="12.2" fill="#ff8000"/>
<rect x="307.2" y="500.95" width="18.6" height="12.2" fill="#ff5000"/>
<rect x="324.8" y="500.95" width="17" height="12.2" fill="#ff4000"/>
<rect x="340.8" y="500.95" width="17" height="12.2" fill="#ff3000"/>
<rect x="356.8" y="500.95" width="18.6" height="12.2" fill="#ff2000"/>
<rect x="374.4" y="500.95" width="17" height="12.2" fill="#ff2000"/>
<rect x="390.4" y="500.95" width="17.6" height="12.2" fill="#ff1000"/>
<rect x="257.6" y="512.15" width="17" height="10.6" fill="#bfff40"/>
<rect x="273.6" y="512.15" width="18.6" height="10.6" fill="#ffcf00"/>
<rect x="291.2" y="512.15" width="17" height="10.6" fill="#ff8f00"/>
<rect x="307.2" y="512.15" width="18.6" height="10.6" fill="#ff7000"/>
<rect x="324.8" y="512.15" width="17" height="10.6" fill="#ff5000"/>
<rect x="340.8" y="512.15" width="17" height="10.6" fill="#ff5000"/>
<rect x="356.8" y="512.15" width="18.6" height="10.6" fill="#ff4000"/>
<rect x="374.4" y="512.15" width="17" height="10.6" fill="#ff4000"/>
<rect x="390.4" y="512.15" width="17.6" height="10.6" fill="#ff4000"/>
<rect x="257.6" y="521.75" width="17" height="12.2" fill="#80ff80"/>
<rect x="273.6" y="521.75" width="18.6" height="12.2" fill="#dfff20"/>
<rect x="291.2" y="521.75" width="17" height="12.2" fill="#ffdf00"/>
<rect x="307.2" y="521.75" width="18.6" height="12.2" fill="#ffbf00"/>
<rect x="324.8" y="521.75" width="17" height="12.2" fill="#ffaf00"/>
<rect x="340.8" y="521.75" width="17" height="12.2" fill="#ffaf00"/>
<rect x="356.8" y="521.75" width="18.6" height="12.2" fill="#ffaf00"/>
<rect x="374.4" y="521.75" width="17" height="12.2" fill="#ffaf00"/>
<rect x="390.4" y="521.75" width="17.6" height="12.2" fill="#ffaf00"/>
<rect x="257.6" y="532.95" width="17" height="12.2" fill="#00ffff"/>
<rect x="273.6" y="532.95" width="18.6" height="12.2" fill="#50ffaf"/>
<rect x="291.2" y="532.95" width="17" height="12.2" fill="#80ff80"/>
<rect x="307.2" y="532.95" width="18.6" height="12.2" fill="#8fff70"/>
<rect x="324.8" y="532.95" width="17" height="12.2" fill="#9fff60"/>
<rect x="340.8" y="532.95" width="17" height="12.2" fill="#9fff60"/>
<rect x="356.8" y="532.95" width="18.6" height="12.2" fill="#9fff60"/>
<rect x="374.4" y="532.95" width="17" height="12.2" fill="#8fff70"/>
<rect x="390.4" y="532.95" width="17.6" height="12.2" fill="#80ff80"/>
<rect x="257.6" y="544.15" width="17" height="11.2" fill="#0020ff"/>
<rect x="273.6" y="544.15" width="18.6" height="11.2" fill="#0070ff"/>
<rect x="291.2" y="544.15" width="17" height="11.2" fill="#008fff"/>
<rect x="307.2" y="544.15" width="18.6" height="11.2" fill="#009fff"/>
<rect x="324.8" y="544.15" width="17" height="11.2" fill="#009fff"/>
<rect x="340.8" y="544.15" width="17" height="11.2" fill="#008fff"/>
<rect x="356.8" y="544.15" width="18.6" height="11.2" fill="#0080ff"/>
<rect x="374.4" y="544.15" width="17" height="11.2" fill="#0070ff"/>
<rect x="390.4" y="544.15" width="17.6" height="11.2" fill="#0060ff"/>
<path class="g" d="M273.6 489.75V555.35M291.2 489.75V555.35M307.2 489.75V555.35M324.8 489.75V555.35M340.8 489.75V555.35M356.8 489.75V555.35M374.4 489.75V555.35M390.4 489.75V555.35M257.6 500.95H408M257.6 512.15H408M257.6 521.75H408M257.6 532.95H408M257.6 544.15H408"/>
<path class="b" d="M257.6 555.35V489.75H408"/>
<path class="t" d="M257.5 489.95h3.7v1.8h-3.7zM273.5 489.95h3.7v1.8h-3.7zM291.1 489.95h3.7v1.8h-3.7zM307.1 489.95h3.7v1.8h-3.7zM324.7 489.95h3.7v1.8h-3.7zM340.7 489.95h3.7v1.8h-3.7zM356.7 489.95h3.7v1.8h-3.7zM374.3 489.95h3.7v1.8h-3.7zM390.3 489.95h3.7v1.8h-3.7zM407.9 489.95h3.7v1.8h-3.7zM257.5 501.15h3.7v1.8h-3.7zM273.5 501.15h3.7v1.8h-3.7zM291.1 501.15h3.7v1.8h-3.7zM307.1 501.15h3.7v1.8h-3.7zM324.7 501.15h3.7v1.8h-3.7zM340.7 501.15h3.7v1.8h-3.7zM356.7 501.15h3.7v1.8h-3.7zM374.3 501.15h3.7v1.8h-3.7zM390.3 501.15h3.7v1.8h-3.7zM407.9 501.15h3.7v1.8h-3.7zM257.5 512.35h3.7v1.8h-3.7zM273.5 512.35h3.7v1.8h-3.7zM291.1 512.35h3.7v1.8h-3.7zM307.1 512.35h3.7v1.8h-3.7zM324.7 512.35h3.7v1.8h-3.7zM340.7 512.35h3.7v1.8h-3.7zM356.7 512.35h3.7v1.8h-3.7zM374.3 512.35h3.7v1.8h-3.7zM390.3 512.35h3.7v1.8h-3.7zM407.9 512.35h3.7v1.8h-3.7zM257.5 521.95h3.7v1.8h-3.7zM273.5 521.95h3.7v1.8h-3.7zM291.1 521.95h3.7v1.8h-3.7zM307.1 521.95h3.7v1.8h-3.7zM324.7 521.95h3.7v1.8h-3.7zM340.7 521.95h3.7v1.8h-3.7zM356.7 521.95h3.7v1.8h-3.7zM374.3 521.95h3.7v1.8h-3.7zM390.3 521.95h3.7v1.8h-3.7zM407.9 521.95h3.7v1.8h-3.7zM257.5 533.15h3.7v1.8h-3.7zM273.5 533.15h3.7v1.8h-3.7zM291.1 533.15h3.7v1.8h-3.7zM307.1 533.15h3.7v1.8h-3.7zM324.7 533.15h3.7v1.8h-3.7zM340.7 533.15h3.7v1.8h-3.7zM356.7 533.15h3.7v1.8h-3.7zM374.3 533.15h3.7v1.8h-3.7zM390.3 533.15h3.7v1.8h-3.7zM407.9 533.15h3.7v1.8h-3.7zM257.5 544.35h3.7v1.8h-3.7zM273.5 544.35h3.7v1.8h-3.7zM291.1 544.35h3.7v1.8h-3.7zM307.1 544.35h3.7v1.8h-3.7zM324.7 544.35h3.7v1.8h-3.7zM340.7 544.35h3.7v1.8h-3.7zM356.7 544.35h3.7v1.8h-3.7zM374.3 544.35h3.7v1.8h-3.7zM390.3 544.35h3.7v1.8h-3.7zM407.9 544.35h3.7v1.8h-3.7zM273.5 555.55h3.7v1.8h-3.7zM291.1 555.55h3.7v1.8h-3.7zM307.1 555.55h3.7v1.8h-3.7zM324.7 555.55h3.7v1.8h-3.7zM340.7 555.55h3.7v1.8h-3.7zM356.7 555.55h3.7v1.8h-3.7zM374.3 555.55h3.7v1.8h-3.7zM390.3 555.55h3.7v1.8h-3.7zM407.9 555.55h3.7v1.8h-3.7z"/>
</g>
<g>
<rect x="424" y="489.75" width="18.6" height="12.2" fill="#afff50"/>
<rect x="441.6" y="489.75" width="17" height="12.2" fill="#ffdf00"/>
<rect x="457.6" y="489.75" width="18.6" height="12.2" fill="#ff9f00"/>
<rect x="475.2" y="489.75" width="17" height="12.2" fill="#ff7000"/>
<rect x="491.2" y="489.75" width="18.6" height="12.2" fill="#ff6000"/>
<rect x="508.8" y="489.75" width="17" height="12.2" fill="#ff5000"/>
<rect x="524.8" y="489.75" width="18.6" height="12.2" fill="#ff4000"/>
<rect x="542.4" y="489.75" width="17" height="12.2" fill="#ff3000"/>
<rect x="558.4" y="489.75" width="17.6" height="12.2" fill="#ff3000"/>
<rect x="424" y="500.95" width="18.6" height="12.2" fill="#dfff20"/>
<rect x="441.6" y="500.95" width="17" height="12.2" fill="#ffaf00"/>
<rect x="457.6" y="500.95" width="18.6" height="12.2" fill="#ff7000"/>
<rect x="475.2" y="500.95" width="17" height="12.2" fill="#ff4000"/>
<rect x="491.2" y="500.95" width="18.6" height="12.2" fill="#ff3000"/>
<rect x="508.8" y="500.95" width="17" height="12.2" fill="#ff2000"/>
<rect x="524.8" y="500.95" width="18.6" height="12.2" fill="#ff1000"/>
<rect x="542.4" y="500.95" width="17" height="12.2" fill="#ff1000"/>
<rect x="558.4" y="500.95" width="17.6" height="12.2" fill="#ff1000"/>
<rect x="424" y="512.15" width="18.6" height="10.6" fill="#efff10"/>
<rect x="441.6" y="512.15" width="17" height="10.6" fill="#ffaf00"/>
<rect x="457.6" y="512.15" width="18.6" height="10.6" fill="#ff7000"/>
<rect x="475.2" y="512.15" width="17" height="10.6" fill="#ff5000"/>
<rect x="491.2" y="512.15" width="18.6" height="10.6" fill="#ff4000"/>
<rect x="508.8" y="512.15" width="17" height="10.6" fill="#ff3000"/>
<rect x="524.8" y="512.15" width="18.6" height="10.6" fill="#ff3000"/>
<rect x="542.4" y="512.15" width="17" height="10.6" fill="#ff3000"/>
<rect x="558.4" y="512.15" width="17.6" height="10.6" fill="#ff3000"/>
<rect x="424" y="521.75" width="18.6" height="12.2" fill="#afff50"/>
<rect x="441.6" y="521.75" width="17" height="12.2" fill="#ffef00"/>
<rect x="457.6" y="521.75" width="18.6" height="12.2" fill="#ffbf00"/>
<rect x="475.2" y="521.75" width="17" height="12.2" fill="#ff9f00"/>
<rect x="491.2" y="521.75" width="18.6" height="12.2" fill="#ff9f00"/>
<rect x="508.8" y="521.75" width="17" height="12.2" fill="#ff8f00"/>
<rect x="524.8" y="521.75" width="18.6" height="12.2" fill="#ff8f00"/>
<rect x="542.4" y="521.75" width="17" height="12.2" fill="#ff8f00"/>
<rect x="558.4" y="521.75" width="17.6" height="12.2" fill="#ff9f00"/>
<rect x="424" y="532.95" width="18.6" height="12.2" fill="#30ffcf"/>
<rect x="441.6" y="532.95" width="17" height="12.2" fill="#80ff80"/>
<rect x="457.6" y="532.95" width="18.6" height="12.2" fill="#9fff60"/>
<rect x="475.2" y="532.95" width="17" height="12.2" fill="#bfff40"/>
<rect x="491.2" y="532.95" width="18.6" height="12.2" fill="#bfff40"/>
<rect x="508.8" y="532.95" width="17" height="12.2" fill="#bfff40"/>
<rect x="524.8" y="532.95" width="18.6" height="12.2" fill="#bfff40"/>
<rect x="542.4" y="532.95" width="17" height="12.2" fill="#afff50"/>
<rect x="558.4" y="532.95" width="17.6" height="12.2" fill="#9fff60"/>
<rect x="424" y="544.15" width="18.6" height="11.2" fill="#0050ff"/>
<rect x="441.6" y="544.15" width="17" height="11.2" fill="#009fff"/>
<rect x="457.6" y="544.15" width="18.6" height="11.2" fill="#00bfff"/>
<rect x="475.2" y="544.15" width="17" height="11.2" fill="#00bfff"/>
<rect x="491.2" y="544.15" width="18.6" height="11.2" fill="#00bfff"/>
<rect x="508.8" y="544.15" width="17" height="11.2" fill="#00bfff"/>
<rect x="524.8" y="544.15" width="18.6" height="11.2" fill="#00afff"/>
<rect x="542.4" y="544.15" width="17" height="11.2" fill="#009fff"/>
<rect x="558.4" y="544.15" width="17.6" height="11.2" fill="#008fff"/>
<path class="g" d="M441.6 489.75V555.35M457.6 489.75V555.35M475.2 489.75V555.35M491.2 489.75V555.35M508.8 489.75V555.35M524.8 489.75V555.35M542.4 489.75V555.35M558.4 489.75V555.35M424 500.95H576M424 512.15H576M424 521.75H576M424 532.95H576M424 544.15H576"/>
<path class="b" d="M424 555.35V489.75H576"/>
<path class="t" d="M423.9 489.95h3.7v1.8h-3.7zM441.5 489.95h3.7v1.8h-3.7zM457.5 489.95h3.7v1.8h-3.7zM475.1 489.95h3.7v1.8h-3.7zM491.1 489.95h3.7v1.8h-3.7zM508.7 489.95h3.7v1.8h-3.7zM524.7 489.95h3.7v1.8h-3.7zM542.3 489.95h3.7v1.8h-3.7zM558.3 489.95h3.7v1.8h-3.7zM575.9 489.95h3.7v1.8h-3.7zM423.9 501.15h3.7v1.8h-3.7zM441.5 501.15h3.7v1.8h-3.7zM457.5 501.15h3.7v1.8h-3.7zM475.1 501.15h3.7v1.8h-3.7zM491.1 501.15h3.7v1.8h-3.7zM508.7 501.15h3.7v1.8h-3.7zM524.7 501.15h3.7v1.8h-3.7zM542.3 501.15h3.7v1.8h-3.7zM558.3 501.15h3.7v1.8h-3.7zM575.9 501.15h3.7v1.8h-3.7zM423.9 512.35h3.7v1.8h-3.7zM441.5 512.35h3.7v1.8h-3.7zM457.5 512.35h3.7v1.8h-3.7zM475.1 512.35h3.7v1.8h-3.7zM491.1 512.35h3.7v1.8h-3.7zM508.7 512.35h3.7v1.8h-3.7zM524.7 512.35h3.7v1.8h-3.7zM542.3 512.35h3.7v1.8h-3.7zM558.3 512.35h3.7v1.8h-3.7zM575.9 512.35h3.7v1.8h-3.7zM423.9 521.95h3.7v1.8h-3.7zM441.5 521.95h3.7v1.8h-3.7zM457.5 521.95h3.7v1.8h-3.7zM475.1 521.95h3.7v1.8h-3.7zM491.1 521.95h3.7v1.8h-3.7zM508.7 521.95h3.7v1.8h-3.7zM524.7 521.95h3.7v1.8h-3.7zM542.3 521.95h3.7v1.8h-3.7zM558.3 521.95h3.7v1.8h-3.7zM575.9 521.95h3.7v1.8h-3.7zM423.9 533.15h3.7v1.8h-3.7zM441.5 533.15h3.7v1.8h-3.7zM457.5 533.15h3.7v1.8h-3.7zM475.1 533.15h3.7v1.8h-3.7zM491.1 533.15h3.7v1.8h-3.7zM508.7 533.15h3.7v1.8h-3.7zM524.7 533.15h3.7v1.8h-3.7zM542.3 533.15h3.7v1.8h-3.7zM558.3 533.15h3.7v1.8h-3.7zM575.9 533.15h3.7v1.8h-3.7zM423.9 544.35h3.7v1.8h-3.7zM441.5 544.35h3.7v1.8h-3.7zM457.5 544.35h3.7v1.8h-3.7zM475.1 544.35h3.7v1.8h-3.7zM491.1 544.35h3.7v1.8h-3.7zM508.7 544.35h3.7v1.8h-3.7zM524.7 544.35h3.7v1.8h-3.7zM542.3 544.35h3.7v1.8h-3.7zM558.3 544.35h3.7v1.8h-3.7zM575.9 544.35h3.7v1.8h-3.7zM441.5 555.55h3.7v1.8h-3.7zM457.5 555.55h3.7v1.8h-3.7zM475.1 555.55h3.7v1.8h-3.7zM491.1 555.55h3.7v1.8h-3.7zM508.7 555.55h3.7v1.8h-3.7zM524.7 555.55h3.7v1.8h-3.7zM542.3 555.55h3.7v1.8h-3.7zM558.3 555.55h3.7v1.8h-3.7zM575.9 555.55h3.7v1.8h-3.7z"/>
</g>
<g>
<rect x="592" y="489.75" width="18.6" height="12.2" fill="#8fff70"/>
<rect x="609.6" y="489.75" width="17" height="12.2" fill="#ffff00"/>
<rect x="625.6" y="489.75" width="18.6" height="12.2" fill="#ffaf00"/>
<rect x="643.2" y="489.75" width="17" height="12.2" fill="#ff8000"/>
<rect x="659.2" y="489.75" width="17" height="12.2" fill="#ff6000"/>
<rect x="675.2" y="489.75" width="18.6" height="12.2" fill="#ff5000"/>
<rect x="692.8" y="489.75" width="17" height="12.2" fill="#ff4000"/>
<rect x="708.8" y="489.75" width="18.6" height="12.2" fill="#ff3000"/>
<rect x="726.4" y="489.75" width="16" height="12.2" fill="#ff3000"/>
<rect x="592" y="500.95" width="18.6" height="12.2" fill="#cfff30"/>
<rect x="609.6" y="500.95" width="17" height="12.2" fill="#ffbf00"/>
<rect x="625.6" y="500.95" width="18.6" height="12.2" fill="#ff7000"/>
<rect x="643.2" y="500.95" width="17" height="12.2" fill="#ff4000"/>
<rect x="659.2" y="500.95" width="17" height="12.2" fill="#ff3000"/>
<rect x="675.2" y="500.95" width="18.6" height="12.2" fill="#ff2000"/>
<rect x="692.8" y="500.95" width="17" height="12.2" fill="#ff1000"/>
<rect x="708.8" y="500.95" width="18.6" height="12.2" fill="#ff1000"/>
<rect x="726.4" y="500.95" width="16" height="12.2" fill="#ff0000"/>
<rect x="592" y="512.15" width="18.6" height="10.6" fill="#dfff20"/>
<rect x="609.6" y="512.15" width="17" height="10.6" fill="#ffaf00"/>
<rect x="625.6" y="512.15" width="18.6" height="10.6" fill="#ff7000"/>
<rect x="643.2" y="512.15" width="17" height="10.6" fill="#ff5000"/>
<rect x="659.2" y="512.15" width="17" height="10.6" fill="#ff3000"/>
<rect x="675.2" y="512.15" width="18.6" height="10.6" fill="#ff2000"/>
<rect x="692.8" y="512.15" width="17" height="10.6" fill="#ff2000"/>
<rect x="708.8" y="512.15" width="18.6" height="10.6" fill="#ff2000"/>
<rect x="726.4" y="512.15" width="16" height="10.6" fill="#ff2000"/>
<rect x="592" y="521.75" width="18.6" height="12.2" fill="#afff50"/>
<rect x="609.6" y="521.75" width="17" height="12.2" fill="#ffef00"/>
<rect x="625.6" y="521.75" width="18.6" height="12.2" fill="#ffaf00"/>
<rect x="643.2" y="521.75" width="17" height="12.2" fill="#ff9f00"/>
<rect x="659.2" y="521.75" width="17" height="12.2" fill="#ff8f00"/>
<rect x="675.2" y="521.75" width="18.6" height="12.2" fill="#ff8000"/>
<rect x="692.8" y="521.75" width="17" height="12.2" fill="#ff8000"/>
<rect x="708.8" y="521.75" width="18.6" height="12.2" fill="#ff8000"/>
<rect x="726.4" y="521.75" width="16" height="12.2" fill="#ff8000"/>
<rect x="592" y="532.95" width="18.6" height="12.2" fill="#40ffbf"/>
<rect x="609.6" y="532.95" width="17" height="12.2" fill="#80ff80"/>
<rect x="625.6" y="532.95" width="18.6" height="12.2" fill="#bfff40"/>
<rect x="643.2" y="532.95" width="17" height="12.2" fill="#cfff30"/>
<rect x="659.2" y="532.95" width="17" height="12.2" fill="#cfff30"/>
<rect x="675.2" y="532.95" width="18.6" height="12.2" fill="#cfff30"/>
<rect x="692.8" y="532.95" width="17" height="12.2" fill="#cfff30"/>
<rect x="708.8" y="532.95" width="18.6" height="12.2" fill="#cfff30"/>
<rect x="726.4" y="532.95" width="16" height="12.2" fill="#bfff40"/>
<rect x="592" y="544.15" width="18.6" height="11.2" fill="#0070ff"/>
<rect x="609.6" y="544.15" width="17" height="11.2" fill="#00afff"/>
<rect x="625.6" y="544.15" width="18.6" height="11.2" fill="#00cfff"/>
<rect x="643.2" y="544.15" width="17" height="11.2" fill="#00dfff"/>
<rect x="659.2" y="544.15" width="17" height="11.2" fill="#00dfff"/>
<rect x="675.2" y="544.15" width="18.6" height="11.2" fill="#00dfff"/>
<rect x="692.8" y="544.15" width="17" height="11.2" fill="#00cfff"/>
<rect x="708.8" y="544.15" width="18.6" height="11.2" fill="#00bfff"/>
<rect x="726.4" y="544.15" width="16" height="11.2" fill="#00afff"/>
<path class="g" d="M609.6 489.75V555.35M625.6 489.75V555.35M643.2 489.75V555.35M659.2 489.75V555.35M675.2 489.75V555.35M692.8 489.75V555.35M708.8 489.75V555.35M726.4 489.75V555.35M592 500.95H742.4M592 512.15H742.4M592 521.75H742.4M592 532.95H742.4M592 544.15H742.4"/>
<path class="b" d="M592 555.35V489.75H742.4"/>
<path class="t" d="M591.9 489.95h3.7v1.8h-3.7zM609.5 489.95h3.7v1.8h-3.7zM625.5 489.95h3.7v1.8h-3.7zM643.1 489.95h3.7v1.8h-3.7zM659.1 489.95h3.7v1.8h-3.7zM675.1 489.95h3.7v1.8h-3.7zM692.7 489.95h3.7v1.8h-3.7zM708.7 489.95h3.7v1.8h-3.7zM726.3 489.95h3.7v1.8h-3.7zM742.3 489.95h3.7v1.8h-3.7zM591.9 501.15h3.7v1.8h-3.7zM609.5 501.15h3.7v1.8h-3.7zM625.5 501.15h3.7v1.8h-3.7zM643.1 501.15h3.7v1.8h-3.7zM659.1 501.15h3.7v1.8h-3.7zM675.1 501.15h3.7v1.8h-3.7zM692.7 501.15h3.7v1.8h-3.7zM708.7 501.15h3.7v1.8h-3.7zM726.3 501.15h3.7v1.8h-3.7zM742.3 501.15h3.7v1.8h-3.7zM591.9 512.35h3.7v1.8h-3.7zM609.5 512.35h3.7v1.8h-3.7zM625.5 512.35h3.7v1.8h-3.7zM643.1 512.35h3.7v1.8h-3.7zM659.1 512.35h3.7v1.8h-3.7zM675.1 512.35h3.7v1.8h-3.7zM692.7 512.35h3.7v1.8h-3.7zM708.7 512.35h3.7v1.8h-3.7zM726.3 512.35h3.7v1.8h-3.7zM742.3 512.35h3.7v1.8h-3.7zM591.9 521.95h3.7v1.8h-3.7zM609.5 521.95h3.7v1.8h-3.7zM625.5 521.95h3.7v1.8h-3.7zM643.1 521.95h3.7v1.8h-3.7zM659.1 521.95h3.7v1.8h-3.7zM675.1 521.95h3.7v1.8h-3.7zM692.7 521.95h3.7v1.8h-3.7zM708.7 521.95h3.7v1.8h-3.7zM726.3 521.95h3.7v1.8h-3.7zM742.3 521.95h3.7v1.8h-3.7zM591.9 533.15h3.7v1.8h-3.7zM609.5 533.15h3.7v1.8h-3.7zM625.5 533.15h3.7v1.8h-3.7zM643.1 533.15h3.7v1.8h-3.7zM659.1 533.15h3.7v1.8h-3.7zM675.1 533.15h3.7v1.8h-3.7zM692.7 533.15h3.7v1.8h-3.7zM708.7 533.15h3.7v1.8h-3.7zM726.3 533.15h3.7v1.8h-3.7zM742.3 533.15h3.7v1.8h-3.7zM591.9 544.35h3.7v1.8h-3.7zM609.5 544.35h3.7v1.8h-3.7zM625.5 544.35h3.7v1.8h-3.7zM643.1 544.35h3.7v1.8h-3.7zM659.1 544.35h3.7v1.8h-3.7zM675.1 544.35h3.7v1.8h-3.7zM692.7 544.35h3.7v1.8h-3.7zM708.7 544.35h3.7v1.8h-3.7zM726.3 544.35h3.7v1.8h-3.7zM742.3 544.35h3.7v1.8h-3.7zM609.5 555.55h3.7v1.8h-3.7zM625.5 555.55h3.7v1.8h-3.7zM643.1 555.55h3.7v1.8h-3.7zM659.1 555.55h3.7v1.8h-3.7zM675.1 555.55h3.7v1.8h-3.7zM692.7 555.55h3.7v1.8h-3.7zM708.7 555.55h3.7v1.8h-3.7zM726.3 555.55h3.7v1.8h-3.7zM742.3 555.55h3.7v1.8h-3.7z"/>
</g>
<g>
<rect x="760" y="489.75" width="17" height="12.2" fill="#40ffbf"/>
<rect x="776" y="489.75" width="18.6" height="12.2" fill="#bfff40"/>
<rect x="793.6" y="489.75" width="17" height="12.2" fill="#ffdf00"/>
<rect x="809.6" y="489.75" width="18.6" height="12.2" fill="#ffaf00"/>
<rect x="827.2" y="489.75" width="17" height="12.2" fill="#ff8000"/>
<rect x="843.2" y="489.75" width="18.6" height="12.2" fill="#ff6000"/>
<rect x="860.8" y="489.75" width="17" height="12.2" fill="#ff5000"/>
<rect x="876.8" y="489.75" width="18.6" height="12.2" fill="#ff4000"/>
<rect x="894.4" y="489.75" width="16" height="12.2" fill="#ff4000"/>
<rect x="760" y="500.95" width="17" height="12.2" fill="#8fff70"/>
<rect x="776" y="500.95" width="18.6" height="12.2" fill="#ffef00"/>
<rect x="793.6" y="500.95" width="17" height="12.2" fill="#ff9f00"/>
<rect x="809.6" y="500.95" width="18.6" height="12.2" fill="#ff6000"/>
<rect x="827.2" y="500.95" width="17" height="12.2" fill="#ff4000"/>
<rect x="843.2" y="500.95" width="18.6" height="12.2" fill="#ff3000"/>
<rect x="860.8" y="500.95" width="17" height="12.2" fill="#ff2000"/>
<rect x="876.8" y="500.95" width="18.6" height="12.2" fill="#ff1000"/>
<rect x="894.4" y="500.95" width="16" height="12.2" fill="#ff0000"/>
<rect x="760" y="512.15" width="17" height="10.6" fill="#9fff60"/>
<rect x="776" y="512.15" width="18.6" height="10.6" fill="#ffdf00"/>
<rect x="793.6" y="512.15" width="17" height="10.6" fill="#ff8f00"/>
<rect x="809.6" y="512.15" width="18.6" height="10.6" fill="#ff6000"/>
<rect x="827.2" y="512.15" width="17" height="10.6" fill="#ff4000"/>
<rect x="843.2" y="512.15" width="18.6" height="10.6" fill="#ff3000"/>
<rect x="860.8" y="512.15" width="17" height="10.6" fill="#ff2000"/>
<rect x="876.8" y="512.15" width="18.6" height="10.6" fill="#ff2000"/>
<rect x="894.4" y="512.15" width="16" height="10.6" fill="#ff2000"/>
<rect x="760" y="521.75" width="17" height="12.2" fill="#80ff80"/>
<rect x="776" y="521.75" width="18.6" height="12.2" fill="#efff10"/>
<rect x="793.6" y="521.75" width="17" height="12.2" fill="#ffbf00"/>
<rect x="809.6" y="521.75" width="18.6" height="12.2" fill="#ff9f00"/>
<rect x="827.2" y="521.75" width="17" height="12.2" fill="#ff8f00"/>
<rect x="843.2" y="521.75" width="18.6" height="12.2" fill="#ff8000"/>
<rect x="860.8" y="521.75" width="17" height="12.2" fill="#ff8000"/>
<rect x="876.8" y="521.75" width="18.6" height="12.2" fill="#ff7000"/>
<rect x="894.4" y="521.75" width="16" height="12.2" fill="#ff7000"/>
<rect x="760" y="532.95" width="17" height="12.2" fill="#10ffef"/>
<rect x="776" y="532.95" width="18.6" height="12.2" fill="#70ff8f"/>
<rect x="793.6" y="532.95" width="17" height="12.2" fill="#9fff60"/>
<rect x="809.6" y="532.95" width="18.6" height="12.2" fill="#cfff30"/>
<rect x="827.2" y="532.95" width="17" height="12.2" fill="#dfff20"/>
<rect x="843.2" y="532.95" width="18.6" height="12.2" fill="#dfff20"/>
<rect x="860.8" y="532.95" width="17" height="12.2" fill="#dfff20"/>
<rect x="876.8" y="532.95" width="18.6" height="12.2" fill="#dfff20"/>
<rect x="894.4" y="532.95" width="16" height="12.2" fill="#dfff20"/>
<rect x="760" y="544.15" width="17" height="11.2" fill="#0060ff"/>
<rect x="776" y="544.15" width="18.6" height="11.2" fill="#00afff"/>
<rect x="793.6" y="544.15" width="17" height="11.2" fill="#00cfff"/>
<rect x="809.6" y="544.15" width="18.6" height="11.2" fill="#00efff"/>
<rect x="827.2" y="544.15" width="17" height="11.2" fill="#00efff"/>
<rect x="843.2" y="544.15" width="18.6" height="11.2" fill="#00efff"/>
<rect x="860.8" y="544.15" width="17" height="11.2" fill="#00efff"/>
<rect x="876.8" y="544.15" width="18.6" height="11.2" fill="#00dfff"/>
<rect x="894.4" y="544.15" width="16" height="11.2" fill="#00dfff"/>
<path class="g" d="M776 489.75V555.35M793.6 489.75V555.35M809.6 489.75V555.35M827.2 489.75V555.35M843.2 489.75V555.35M860.8 489.75V555.35M876.8 489.75V555.35M894.4 489.75V555.35M760 500.95H910.4M760 512.15H910.4M760 521.75H910.4M760 532.95H910.4M760 544.15H910.4"/>
<path class="b" d="M760 555.35V489.75H910.4"/>
<path class="t" d="M759.9 489.95h3.7v1.8h-3.7zM775.9 489.95h3.7v1.8h-3.7zM793.5 489.95h3.7v1.8h-3.7zM809.5 489.95h3.7v1.8h-3.7zM827.1 489.95h3.7v1.8h-3.7zM843.1 489.95h3.7v1.8h-3.7zM860.7 489.95h3.7v1.8h-3.7zM876.7 489.95h3.7v1.8h-3.7zM894.3 489.95h3.7v1.8h-3.7zM910.3 489.95h3.7v1.8h-3.7zM759.9 501.15h3.7v1.8h-3.7zM775.9 501.15h3.7v1.8h-3.7zM793.5 501.15h3.7v1.8h-3.7zM809.5 501.15h3.7v1.8h-3.7zM827.1 501.15h3.7v1.8h-3.7zM843.1 501.15h3.7v1.8h-3.7zM860.7 501.15h3.7v1.8h-3.7zM876.7 501.15h3.7v1.8h-3.7zM894.3 501.15h3.7v1.8h-3.7zM910.3 501.15h3.7v1.8h-3.7zM759.9 512.35h3.7v1.8h-3.7zM775.9 512.35h3.7v1.8h-3.7zM793.5 512.35h3.7v1.8h-3.7zM809.5 512.35h3.7v1.8h-3.7zM827.1 512.35h3.7v1.8h-3.7zM843.1 512.35h3.7v1.8h-3.7zM860.7 512.35h3.7v1.8h-3.7zM876.7 512.35h3.7v1.8h-3.7zM894.3 512.35h3.7v1.8h-3.7zM910.3 512.35h3.7v1.8h-3.7zM759.9 521.95h3.7v1.8h-3.7zM775.9 521.95h3.7v1.8h-3.7zM793.5 521.95h3.7v1.8h-3.7zM809.5 521.95h3.7v1.8h-3.7zM827.1 521.95h3.7v1.8h-3.7zM843.1 521.95h3.7v1.8h-3.7zM860.7 521.95h3.7v1.8h-3.7zM876.7 521.95h3.7v1.8h-3.7zM894.3 521.95h3.7v1.8h-3.7zM910.3 521.95h3.7v1.8h-3.7zM759.9 533.15h3.7v1.8h-3.7zM775.9 533.15h3.7v1.8h-3.7zM793.5 533.15h3.7v1.8h-3.7zM809.5 533.15h3.7v1.8h-3.7zM827.1 533.15h3.7v1.8h-3.7zM843.1 533.15h3.7v1.8h-3.7zM860.7 533.15h3.7v1.8h-3.7zM876.7 533.15h3.7v1.8h-3.7zM894.3 533.15h3.7v1.8h-3.7zM910.3 533.15h3.7v1.8h-3.7zM759.9 544.35h3.7v1.8h-3.7zM775.9 544.35h3.7v1.8h-3.7zM793.5 544.35h3.7v1.8h-3.7zM809.5 544.35h3.7v1.8h-3.7zM827.1 544.35h3.7v1.8h-3.7zM843.1 544.35h3.7v1.8h-3.7zM860.7 544.35h3.7v1.8h-3.7zM876.7 544.35h3.7v1.8h-3.7zM894.3 544.35h3.7v1.8h-3.7zM910.3 544.35h3.7v1.8h-3.7zM775.9 555.55h3.7v1.8h-3.7zM793.5 555.55h3.7v1.8h-3.7zM809.5 555.55h3.7v1.8h-3.7zM827.1 555.55h3.7v1.8h-3.7zM843.1 555.55h3.7v1.8h-3.7zM860.7 555.55h3.7v1.8h-3.7zM876.7 555.55h3.7v1.8h-3.7zM894.3 555.55h3.7v1.8h-3.7zM910.3 555.55h3.7v1.8h-3.7z"/>
</g>
<g>
<rect x="89.6" y="577.75" width="17" height="12.2" fill="#40ffbf"/>
<rect x="105.6" y="577.75" width="18.6" height="12.2" fill="#afff50"/>
<rect x="123.2" y="577.75" width="17" height="12.2" fill="#efff10"/>
<rect x="139.2" y="577.75" width="18.6" height="12.2" fill="#ffef00"/>
<rect x="156.8" y="577.75" width="17" height="12.2" fill="#ffcf00"/>
<rect x="172.8" y="577.75" width="18.6" height="12.2" fill="#ffbf00"/>
<rect x="190.4" y="577.75" width="17" height="12.2" fill="#ffbf00"/>
<rect x="206.4" y="577.75" width="18.6" height="12.2" fill="#ffaf00"/>
<rect x="224" y="577.75" width="16" height="12.2" fill="#ffaf00"/>
<rect x="89.6" y="588.95" width="17" height="12.2" fill="#60ff9f"/>
<rect x="105.6" y="588.95" width="18.6" height="12.2" fill="#cfff30"/>
<rect x="123.2" y="588.95" width="17" height="12.2" fill="#ffdf00"/>
<rect x="139.2" y="588.95" width="18.6" height="12.2" fill="#ffbf00"/>
<rect x="156.8" y="588.95" width="17" height="12.2" fill="#ffaf00"/>
<rect x="172.8" y="588.95" width="18.6" height="12.2" fill="#ff9f00"/>
<rect x="190.4" y="588.95" width="17" height="12.2" fill="#ff8f00"/>
<rect x="206.4" y="588.95" width="18.6" height="12.2" fill="#ff8f00"/>
<rect x="224" y="588.95" width="16" height="12.2" fill="#ff8f00"/>
<rect x="89.6" y="600.15" width="17" height="12.2" fill="#50ffaf"/>
<rect x="105.6" y="600.15" width="18.6" height="12.2" fill="#bfff40"/>
<rect x="123.2" y="600.15" width="17" height="12.2" fill="#ffff00"/>
<rect x="139.2" y="600.15" width="18.6" height="12.2" fill="#ffdf00"/>
<rect x="156.8" y="600.15" width="17" height="12.2" fill="#ffbf00"/>
<rect x="172.8" y="600.15" width="18.6" height="12.2" fill="#ffaf00"/>
<rect x="190.4" y="600.15" width="17" height="12.2" fill="#ffaf00"/>
<rect x="206.4" y="600.15" width="18.6" height="12.2" fill="#ffaf00"/>
<rect x="224" y="600.15" width="16" height="12.2" fill="#ffaf00"/>
<rect x="89.6" y="611.35" width="17" height="12.2" fill="#10ffef"/>
<rect x="105.6" y="611.35" width="18.6" height="12.2" fill="#70ff8f"/>
<rect x="123.2" y="611.35" width="17" height="12.2" fill="#afff50"/>
<rect x="139.2" y="611.35" width="18.6" height="12.2" fill="#bfff40"/>
<rect x="156.8" y="611.35" width="17" height="12.2" fill="#dfff20"/>
<rect x="172.8" y="611.35" width="18.6" height="12.2" fill="#dfff20"/>
<rect x="190.4" y="611.35" width="17" height="12.2" fill="#dfff20"/>
<rect x="206.4" y="611.35" width="18.6" height="12.2" fill="#dfff20"/>
<rect x="224" y="611.35" width="16" height="12.2" fill="#cfff30"/>
<rect x="89.6" y="622.55" width="17" height="12.2" fill="#0080ff"/>
<rect x="105.6" y="622.55" width="18.6" height="12.2" fill="#00dfff"/>
<rect x="123.2" y="622.55" width="17" height="12.2" fill="#10ffef"/>
<rect x="139.2" y="622.55" width="18.6" height="12.2" fill="#20ffdf"/>
<rect x="156.8" y="622.55" width="17" height="12.2" fill="#30ffcf"/>
<rect x="172.8" y="622.55" width="18.6" height="12.2" fill="#30ffcf"/>
<rect x="190.4" y="622.55" width="17" height="12.2" fill="#20ffdf"/>
<rect x="206.4" y="622.55" width="18.6" height="12.2" fill="#20ffdf"/>
<rect x="224" y="622.55" width="16" height="12.2" fill="#10ffef"/>
<rect x="89.6" y="633.75" width="17" height="11.2" fill="#0000af"/>
<rect x="105.6" y="633.75" width="18.6" height="11.2" fill="#0000ff"/>
<rect x="123.2" y="633.75" width="17" height="11.2" fill="#0020ff"/>
<rect x="139.2" y="633.75" width="18.6" height="11.2" fill="#0030ff"/>
<rect x="156.8" y="633.75" width="17" height="11.2" fill="#0030ff"/>
<rect x="172.8" y="633.75" width="18.6" height="11.2" fill="#0030ff"/>
<rect x="190.4" y="633.75" width="17" height="11.2" fill="#0020ff"/>
<rect x="206.4" y="633.75" width="18.6" height="11.2" fill="#0010ff"/>
<rect x="224" y="633.75" width="16" height="11.2" fill="#0000ef"/>
<path class="g" d="M105.6 577.75V644.95M123.2 577.75V644.95M139.2 577.75V644.95M156.8 577.75V644.95M172.8 577.75V644.95M190.4 577.75V644.95M206.4 577.75V644.95M224 577.75V644.95M89.6 588.95H240M89.6 600.15H240M89.6 611.35H240M89.6 622.55H240M89.6 633.75H240"/>
<path class="b" d="M89.6 644.95V577.75H240"/>
<path class="t" d="M89.5 577.95h3.7v1.8h-3.7zM105.5 577.95h3.7v1.8h-3.7zM123.1 577.95h3.7v1.8h-3.7zM139.1 577.95h3.7v1.8h-3.7zM156.7 577.95h3.7v1.8h-3.7zM172.7 577.95h3.7v1.8h-3.7zM190.3 577.95h3.7v1.8h-3.7zM206.3 577.95h3.7v1.8h-3.7zM223.9 577.95h3.7v1.8h-3.7zM239.9 577.95h3.7v1.8h-3.7zM89.5 589.15h3.7v1.8h-3.7zM105.5 589.15h3.7v1.8h-3.7zM123.1 589.15h3.7v1.8h-3.7zM139.1 589.15h3.7v1.8h-3.7zM156.7 589.15h3.7v1.8h-3.7zM172.7 589.15h3.7v1.8h-3.7zM190.3 589.15h3.7v1.8h-3.7zM206.3 589.15h3.7v1.8h-3.7zM223.9 589.15h3.7v1.8h-3.7zM239.9 589.15h3.7v1.8h-3.7zM89.5 600.35h3.7v1.8h-3.7zM105.5 600.35h3.7v1.8h-3.7zM123.1 600.35h3.7v1.8h-3.7zM139.1 600.35h3.7v1.8h-3.7zM156.7 600.35h3.7v1.8h-3.7zM172.7 600.35h3.7v1.8h-3.7zM190.3 600.35h3.7v1.8h-3.7zM206.3 600.35h3.7v1.8h-3.7zM223.9 600.35h3.7v1.8h-3.7zM239.9 600.35h3.7v1.8h-3.7zM89.5 611.55h3.7v1.8h-3.7zM105.5 611.55h3.7v1.8h-3.7zM123.1 611.55h3.7v1.8h-3.7zM139.1 611.55h3.7v1.8h-3.7zM156.7 611.55h3.7v1.8h-3.7zM172.7 611.55h3.7v1.8h-3.7zM190.3 611.55h3.7v1.8h-3.7zM206.3 611.55h3.7v1.8h-3.7zM223.9 611.55h3.7v1.8h-3.7zM239.9 611.55h3.7v1.8h-3.7zM89.5 622.75h3.7v1.8h-3.7zM105.5 622.75h3.7v1.8h-3.7zM123.1 622.75h3.7v1.8h-3.7zM139.1 622.75h3.7v1.8h-3.7zM156.7 622.75h3.7v1.8h-3.7zM172.7 622.75h3.7v1.8h-3.7zM190.3 622.75h3.7v1.8h-3.7zM206.3 622.75h3.7v1.8h-3.7zM223.9 622.75h3.7v1.8h-3.7zM239.9 622.75h3.7v1.8h-3.7zM89.5 633.95h3.7v1.8h-3.7zM105.5 633.95h3.7v1.8h-3.7zM123.1 633.95h3.7v1.8h-3.7zM139.1 633.95h3.7v1.8h-3.7zM156.7 633.95h3.7v1.8h-3.7zM172.7 633.95h3.7v1.8h-3.7zM190.3 633.95h3.7v1.8h-3.7zM206.3 633.95h3.7v1.8h-3.7zM223.9 633.95h3.7v1.8h-3.7zM239.9 633.95h3.7v1.8h-3.7zM105.5 645.15h3.7v1.8h-3.7zM123.1 645.15h3.7v1.8h-3.7zM139.1 645.15h3.7v1.8h-3.7zM156.7 645.15h3.7v1.8h-3.7zM172.7 645.15h3.7v1.8h-3.7zM190.3 645.15h3.7v1.8h-3.7zM206.3 645.15h3.7v1.8h-3.7zM223.9 645.15h3.7v1.8h-3.7zM239.9 645.15h3.7v1.8h-3.7z"/>
</g>
<g>
<rect x="257.6" y="577.75" width="17" height="12.2" fill="#70ff8f"/>
<rect x="273.6" y="577.75" width="18.6" height="12.2" fill="#cfff30"/>
<rect x="291.2" y="577.75" width="17" height="12.2" fill="#ffef00"/>
<rect x="307.2" y="577.75" width="18.6" height="12.2" fill="#ffcf00"/>
<rect x="324.8" y="577.75" width="17" height="12.2" fill="#ffbf00"/>
<rect x="340.8" y="577.75" width="17" height="12.2" fill="#ffaf00"/>
<rect x="356.8" y="577.75" width="18.6" height="12.2" fill="#ffaf00"/>
<rect x="374.4" y="577.75" width="17" height="12.2" fill="#ff9f00"/>
<rect x="390.4" y="577.75" width="17.6" height="12.2" fill="#ff9f00"/>
<rect x="257.6" y="588.95" width="17" height="12.2" fill="#9fff60"/>
<rect x="273.6" y="588.95" width="18.6" height="12.2" fill="#ffff00"/>
<rect x="291.2" y="588.95" width="17" height="12.2" fill="#ffbf00"/>
<rect x="307.2" y="588.95" width="18.6" height="12.2" fill="#ff9f00"/>
<rect x="324.8" y="588.95" width="17" height="12.2" fill="#ff8f00"/>
<rect x="340.8" y="588.95" width="17" height="12.2" fill="#ff8000"/>
<rect x="356.8" y="588.95" width="18.6" height="12.2" fill="#ff8000"/>
<rect x="374.4" y="588.95" width="17" height="12.2" fill="#ff8000"/>
<rect x="390.4" y="588.95" width="17.6" height="12.2" fill="#ff8000"/>
<rect x="257.6" y="600.15" width="17" height="12.2" fill="#9fff60"/>
<rect x="273.6" y="600.15" width="18.6" height="12.2" fill="#ffff00"/>
<rect x="291.2" y="600.15" width="17" height="12.2" fill="#ffbf00"/>
<rect x="307.2" y="600.15" width="18.6" height="12.2" fill="#ffaf00"/>
<rect x="324.8" y="600.15" width="17" height="12.2" fill="#ff9f00"/>
<rect x="340.8" y="600.15" width="17" height="12.2" fill="#ff9f00"/>
<rect x="356.8" y="600.15" width="18.6" height="12.2" fill="#ff8f00"/>
<rect x="374.4" y="600.15" width="17" height="12.2" fill="#ff8f00"/>
<rect x="390.4" y="600.15" width="17.6" height="12.2" fill="#ff8f00"/>
<rect x="257.6" y="611.35" width="17" height="12.2" fill="#60ff9f"/>
<rect x="273.6" y="611.35" width="18.6" height="12.2" fill="#bfff40"/>
<rect x="291.2" y="611.35" width="17" height="12.2" fill="#dfff20"/>
<rect x="307.2" y="611.35" width="18.6" height="12.2" fill="#ffff00"/>
<rect x="324.8" y="611.35" width="17" height="12.2" fill="#ffff00"/>
<rect x="340.8" y="611.35" width="17" height="12.2" fill="#ffff00"/>
<rect x="356.8" y="611.35" width="18.6" height="12.2" fill="#ffff00"/>
<rect x="374.4" y="611.35" width="17" height="12.2" fill="#ffff00"/>
<rect x="390.4" y="611.35" width="17.6" height="12.2" fill="#efff10"/>
<rect x="257.6" y="622.55" width="17" height="12.2" fill="#00dfff"/>
<rect x="273.6" y="622.55" width="18.6" height="12.2" fill="#30ffcf"/>
<rect x="291.2" y="622.55" width="17" height="12.2" fill="#50ffaf"/>
<rect x="307.2" y="622.55" width="18.6" height="12.2" fill="#60ff9f"/>
<rect x="324.8" y="622.55" width="17" height="12.2" fill="#60ff9f"/>
<rect x="340.8" y="622.55" width="17" height="12.2" fill="#60ff9f"/>
<rect x="356.8" y="622.55" width="18.6" height="12.2" fill="#50ffaf"/>
<rect x="374.4" y="622.55" width="17" height="12.2" fill="#40ffbf"/>
<rect x="390.4" y="622.55" width="17.6" height="12.2" fill="#30ffcf"/>
<rect x="257.6" y="633.75" width="17" height="11.2" fill="#0010ff"/>
<rect x="273.6" y="633.75" width="18.6" height="11.2" fill="#0050ff"/>
<rect x="291.2" y="633.75" width="17" height="11.2" fill="#0060ff"/>
<rect x="307.2" y="633.75" width="18.6" height="11.2" fill="#0070ff"/>
<rect x="324.8" y="633.75" width="17" height="11.2" fill="#0070ff"/>
<rect x="340.8" y="633.75" width="17" height="11.2" fill="#0060ff"/>
<rect x="356.8" y="633.75" width="18.6" height="11.2" fill="#0050ff"/>
<rect x="374.4" y="633.75" width="17" height="11.2" fill="#0040ff"/>
<rect x="390.4" y="633.75" width="17.6" height="11.2" fill="#0020ff"/>
<path class="g" d="M273.6 577.75V644.95M291.2 577.75V644.95M307.2 577.75V644.95M324.8 577.75V644.95M340.8 577.75V644.95M356.8 577.75V644.95M374.4 577.75V644.95M390.4 577.75V644.95M257.6 588.95H408M257.6 600.15H408M257.6 611.35H408M257.6 622.55H408M257.6 633.75H408"/>
<path class="b" d="M257.6 644.95V577.75H408"/>
<path class="t" d="M257.5 577.95h3.7v1.8h-3.7zM273.5 577.95h3.7v1.8h-3.7zM291.1 577.95h3.7v1.8h-3.7zM307.1 577.95h3.7v1.8h-3.7zM324.7 577.95h3.7v1.8h-3.7zM340.7 577.95h3.7v1.8h-3.7zM356.7 577.95h3.7v1.8h-3.7zM374.3 577.95h3.7v1.8h-3.7zM390.3 577.95h3.7v1.8h-3.7zM407.9 577.95h3.7v1.8h-3.7zM257.5 589.15h3.7v1.8h-3.7zM273.5 589.15h3.7v1.8h-3.7zM291.1 589.15h3.7v1.8h-3.7zM307.1 589.15h3.7v1.8h-3.7zM324.7 589.15h3.7v1.8h-3.7zM340.7 589.15h3.7v1.8h-3.7zM356.7 589.15h3.7v1.8h-3.7zM374.3 589.15h3.7v1.8h-3.7zM390.3 589.15h3.7v1.8h-3.7zM407.9 589.15h3.7v1.8h-3.7zM257.5 600.35h3.7v1.8h-3.7zM273.5 600.35h3.7v1.8h-3.7zM291.1 600.35h3.7v1.8h-3.7zM307.1 600.35h3.7v1.8h-3.7zM324.7 600.35h3.7v1.8h-3.7zM340.7 600.35h3.7v1.8h-3.7zM356.7 600.35h3.7v1.8h-3.7zM374.3 600.35h3.7v1.8h-3.7zM390.3 600.35h3.7v1.8h-3.7zM407.9 600.35h3.7v1.8h-3.7zM257.5 611.55h3.7v1.8h-3.7zM273.5 611.55h3.7v1.8h-3.7zM291.1 611.55h3.7v1.8h-3.7zM307.1 611.55h3.7v1.8h-3.7zM324.7 611.55h3.7v1.8h-3.7zM340.7 611.55h3.7v1.8h-3.7zM356.7 611.55h3.7v1.8h-3.7zM374.3 611.55h3.7v1.8h-3.7zM390.3 611.55h3.7v1.8h-3.7zM407.9 611.55h3.7v1.8h-3.7zM257.5 622.75h3.7v1.8h-3.7zM273.5 622.75h3.7v1.8h-3.7zM291.1 622.75h3.7v1.8h-3.7zM307.1 622.75h3.7v1.8h-3.7zM324.7 622.75h3.7v1.8h-3.7zM340.7 622.75h3.7v1.8h-3.7zM356.7 622.75h3.7v1.8h-3.7zM374.3 622.75h3.7v1.8h-3.7zM390.3 622.75h3.7v1.8h-3.7zM407.9 622.75h3.7v1.8h-3.7zM257.5 633.95h3.7v1.8h-3.7zM273.5 633.95h3.7v1.8h-3.7zM291.1 633.95h3.7v1.8h-3.7zM307.1 633.95h3.7v1.8h-3.7zM324.7 633.95h3.7v1.8h-3.7zM340.7 633.95h3.7v1.8h-3.7zM356.7 633.95h3.7v1.8h-3.7zM374.3 633.95h3.7v1.8h-3.7zM390.3 633.95h3.7v1.8h-3.7zM407.9 633.95h3.7v1.8h-3.7zM273.5 645.15h3.7v1.8h-3.7zM291.1 645.15h3.7v1.8h-3.7zM307.1 645.15h3.7v1.8h-3.7zM324.7 645.15h3.7v1.8h-3.7zM340.7 645.15h3.7v1.8h-3.7zM356.7 645.15h3.7v1.8h-3.7zM374.3 645.15h3.7v1.8h-3.7zM390.3 645.15h3.7v1.8h-3.7zM407.9 645.15h3.7v1.8h-3.7z"/>
</g>
<g>
<rect x="424" y="577.75" width="18.6" height="12.2" fill="#70ff8f"/>
<rect x="441.6" y="577.75" width="17" height="12.2" fill="#dfff20"/>
<rect x="457.6" y="577.75" width="18.6" height="12.2" fill="#ffef00"/>
<rect x="475.2" y="577.75" width="17" height="12.2" fill="#ffcf00"/>
<rect x="491.2" y="577.75" width="18.6" height="12.2" fill="#ffaf00"/>
<rect x="508.8" y="577.75" width="17" height="12.2" fill="#ffaf00"/>
<rect x="524.8" y="577.75" width="18.6" height="12.2" fill="#ff9f00"/>
<rect x="542.4" y="577.75" width="17" height="12.2" fill="#ff9f00"/>
<rect x="558.4" y="577.75" width="17.6" height="12.2" fill="#ff9f00"/>
<rect x="424" y="588.95" width="18.6" height="12.2" fill="#afff50"/>
<rect x="441.6" y="588.95" width="17" height="12.2" fill="#ffdf00"/>
<rect x="457.6" y="588.95" width="18.6" height="12.2" fill="#ffaf00"/>
<rect x="475.2" y="588.95" width="17" height="12.2" fill="#ff8f00"/>
<rect x="491.2" y="588.95" width="18.6" height="12.2" fill="#ff8000"/>
<rect x="508.8" y="588.95" width="17" height="12.2" fill="#ff8000"/>
<rect x="524.8" y="588.95" width="18.6" height="12.2" fill="#ff7000"/>
<rect x="542.4" y="588.95" width="17" height="12.2" fill="#ff7000"/>
<rect x="558.4" y="588.95" width="17.6" height="12.2" fill="#ff7000"/>
<rect x="424" y="600.15" width="18.6" height="12.2" fill="#bfff40"/>
<rect x="441.6" y="600.15" width="17" height="12.2" fill="#ffdf00"/>
<rect x="457.6" y="600.15" width="18.6" height="12.2" fill="#ffaf00"/>
<rect x="475.2" y="600.15" width="17" height="12.2" fill="#ff9f00"/>
<rect x="491.2" y="600.15" width="18.6" height="12.2" fill="#ff8f00"/>
<rect x="508.8" y="600.15" width="17" height="12.2" fill="#ff8f00"/>
<rect x="524.8" y="600.15" width="18.6" height="12.2" fill="#ff8f00"/>
<rect x="542.4" y="600.15" width="17" height="12.2" fill="#ff8f00"/>
<rect x="558.4" y="600.15" width="17.6" height="12.2" fill="#ff8f00"/>
<rect x="424" y="611.35" width="18.6" height="12.2" fill="#8fff70"/>
<rect x="441.6" y="611.35" width="17" height="12.2" fill="#dfff20"/>
<rect x="457.6" y="611.35" width="18.6" height="12.2" fill="#ffff00"/>
<rect x="475.2" y="611.35" width="17" height="12.2" fill="#ffdf00"/>
<rect x="491.2" y="611.35" width="18.6" height="12.2" fill="#ffdf00"/>
<rect x="508.8" y="611.35" width="17" height="12.2" fill="#ffdf00"/>
<rect x="524.8" y="611.35" width="18.6" height="12.2" fill="#ffdf00"/>
<rect x="542.4" y="611.35" width="17" height="12.2" fill="#ffef00"/>
<rect x="558.4" y="611.35" width="17.6" height="12.2" fill="#ffef00"/>
<rect x="424" y="622.55" width="18.6" height="12.2" fill="#10ffef"/>
<rect x="441.6" y="622.55" width="17" height="12.2" fill="#50ffaf"/>
<rect x="457.6" y="622.55" width="18.6" height="12.2" fill="#70ff8f"/>
<rect x="475.2" y="622.55" width="17" height="12.2" fill="#80ff80"/>
<rect x="491.2" y="622.55" width="18.6" height="12.2" fill="#80ff80"/>
<rect x="508.8" y="622.55" width="17" height="12.2" fill="#80ff80"/>
<rect x="524.8" y="622.55" width="18.6" height="12.2" fill="#70ff8f"/>
<rect x="542.4" y="622.55" width="17" height="12.2" fill="#60ff9f"/>
<rect x="558.4" y="622.55" width="17.6" height="12.2" fill="#60ff9f"/>
<rect x="424" y="633.75" width="18.6" height="11.2" fill="#0030ff"/>
<rect x="441.6" y="633.75" width="17" height="11.2" fill="#0070ff"/>
<rect x="457.6" y="633.75" width="18.6" height="11.2" fill="#008fff"/>
<rect x="475.2" y="633.75" width="17" height="11.2" fill="#009fff"/>
<rect x="491.2" y="633.75" width="18.6" height="11.2" fill="#008fff"/>
<rect x="508.8" y="633.75" width="17" height="11.2" fill="#0080ff"/>
<rect x="524.8" y="633.75" width="18.6" height="11.2" fill="#0070ff"/>
<rect x="542.4" y="633.75" width="17" height="11.2" fill="#0060ff"/>
<rect x="558.4" y="633.75" width="17.6" height="11.2" fill="#0040ff"/>
<path class="g" d="M441.6 577.75V644.95M457.6 577.75V644.95M475.2 577.75V644.95M491.2 577.75V644.95M508.8 577.75V644.95M524.8 577.75V644.95M542.4 577.75V644.95M558.4 577.75V644.95M424 588.95H576M424 600.15H576M424 611.35H576M424 622.55H576M424 633.75H576"/>
<path class="b" d="M424 644.95V577.75H576"/>
<path class="t" d="M423.9 577.95h3.7v1.8h-3.7zM441.5 577.95h3.7v1.8h-3.7zM457.5 577.95h3.7v1.8h-3.7zM475.1 577.95h3.7v1.8h-3.7zM491.1 577.95h3.7v1.8h-3.7zM508.7 577.95h3.7v1.8h-3.7zM524.7 577.95h3.7v1.8h-3.7zM542.3 577.95h3.7v1.8h-3.7zM558.3 577.95h3.7v1.8h-3.7zM575.9 577.95h3.7v1.8h-3.7zM423.9 589.15h3.7v1.8h-3.7zM441.5 589.15h3.7v1.8h-3.7zM457.5 589.15h3.7v1.8h-3.7zM475.1 589.15h3.7v1.8h-3.7zM491.1 589.15h3.7v1.8h-3.7zM508.7 589.15h3.7v1.8h-3.7zM524.7 589.15h3.7v1.8h-3.7zM542.3 589.15h3.7v1.8h-3.7zM558.3 589.15h3.7v1.8h-3.7zM575.9 589.15h3.7v1.8h-3.7zM423.9 600.35h3.7v1.8h-3.7zM441.5 600.35h3.7v1.8h-3.7zM457.5 600.35h3.7v1.8h-3.7zM475.1 600.35h3.7v1.8h-3.7zM491.1 600.35h3.7v1.8h-3.7zM508.7 600.35h3.7v1.8h-3.7zM524.7 600.35h3.7v1.8h-3.7zM542.3 600.35h3.7v1.8h-3.7zM558.3 600.35h3.7v1.8h-3.7zM575.9 600.35h3.7v1.8h-3.7zM423.9 611.55h3.7v1.8h-3.7zM441.5 611.55h3.7v1.8h-3.7zM457.5 611.55h3.7v1.8h-3.7zM475.1 611.55h3.7v1.8h-3.7zM491.1 611.55h3.7v1.8h-3.7zM508.7 611.55h3.7v1.8h-3.7zM524.7 611.55h3.7v1.8h-3.7zM542.3 611.55h3.7v1.8h-3.7zM558.3 611.55h3.7v1.8h-3.7zM575.9 611.55h3.7v1.8h-3.7zM423.9 622.75h3.7v1.8h-3.7zM441.5 622.75h3.7v1.8h-3.7zM457.5 622.75h3.7v1.8h-3.7zM475.1 622.75h3.7v1.8h-3.7zM491.1 622.75h3.7v1.8h-3.7zM508.7 622.75h3.7v1.8h-3.7zM524.7 622.75h3.7v1.8h-3.7zM542.3 622.75h3.7v1.8h-3.7zM558.3 622.75h3.7v1.8h-3.7zM575.9 622.75h3.7v1.8h-3.7zM423.9 633.95h3.7v1.8h-3.7zM441.5 633.95h3.7v1.8h-3.7zM457.5 633.95h3.7v1.8h-3.7zM475.1 633.95h3.7v1.8h-3.7zM491.1 633.95h3.7v1.8h-3.7zM508.7 633.95h3.7v1.8h-3.7zM524.7 633.95h3.7v1.8h-3.7zM542.3 633.95h3.7v1.8h-3.7zM558.3 633.95h3.7v1.8h-3.7zM575.9 633.95h3.7v1.8h-3.7zM441.5 645.15h3.7v1.8h-3.7zM457.5 645.15h3.7v1.8h-3.7zM475.1 645.15h3.7v1.8h-3.7zM491.1 645.15h3.7v1.8h-3.7zM508.7 645.15h3.7v1.8h-3.7zM524.7 645.15h3.7v1.8h-3.7zM542.3 645.15h3.7v1.8h-3.7zM558.3 645.15h3.7v1.8h-3.7zM575.9 645.15h3.7v1.8h-3.7z"/>
</g>
<g>
<rect x="592" y="577.75" width="18.6" height="12.2" fill="#60ff9f"/>
<rect x="609.6" y="577.75" width="17" height="12.2" fill="#bfff40"/>
<rect x="625.6" y="577.75" width="18.6" height="12.2" fill="#ffff00"/>
<rect x="643.2" y="577.75" width="17" height="12.2" fill="#ffcf00"/>
<rect x="659.2" y="577.75" width="17" height="12.2" fill="#ffbf00"/>
<rect x="675.2" y="577.75" width="18.6" height="12.2" fill="#ffaf00"/>
<rect x="692.8" y="577.75" width="17" height="12.2" fill="#ff9f00"/>
<rect x="708.8" y="577.75" width="18.6" height="12.2" fill="#ff9f00"/>
<rect x="726.4" y="577.75" width="16" height="12.2" fill="#ff9f00"/>
<rect x="592" y="588.95" width="18.6" height="12.2" fill="#9fff60"/>
<rect x="609.6" y="588.95" width="17" height="12.2" fill="#ffef00"/>
<rect x="625.6" y="588.95" width="18.6" height="12.2" fill="#ffbf00"/>
<rect x="643.2" y="588.95" width="17" height="12.2" fill="#ff8f00"/>
<rect x="659.2" y="588.95" width="17" height="12.2" fill="#ff8000"/>
<rect x="675.2" y="588.95" width="18.6" height="12.2" fill="#ff7000"/>
<rect x="692.8" y="588.95" width="17" height="12.2" fill="#ff7000"/>
<rect x="708.8" y="588.95" width="18.6" height="12.2" fill="#ff7000"/>
<rect x="726.4" y="588.95" width="16" height="12.2" fill="#ff7000"/>
<rect x="592" y="600.15" width="18.6" height="12.2" fill="#afff50"/>
<rect x="609.6" y="600.15" width="17" height="12.2" fill="#ffef00"/>
<rect x="625.6" y="600.15" width="18.6" height="12.2" fill="#ffaf00"/>
<rect x="643.2" y="600.15" width="17" height="12.2" fill="#ff8f00"/>
<rect x="659.2" y="600.15" width="17" height="12.2" fill="#ff8000"/>
<rect x="675.2" y="600.15" width="18.6" height="12.2" fill="#ff8000"/>
<rect x="692.8" y="600.15" width="17" height="12.2" fill="#ff8000"/>
<rect x="708.8" y="600.15" width="18.6" height="12.2" fill="#ff8000"/>
<rect x="726.4" y="600.15" width="16" height="12.2" fill="#ff8000"/>
<rect x="592" y="611.35" width="18.6" height="12.2" fill="#8fff70"/>
<rect x="609.6" y="611.35" width="17" height="12.2" fill="#dfff20"/>
<rect x="625.6" y="611.35" width="18.6" height="12.2" fill="#ffef00"/>
<rect x="643.2" y="611.35" width="17" height="12.2" fill="#ffdf00"/>
<rect x="659.2" y="611.35" width="17" height="12.2" fill="#ffcf00"/>
<rect x="675.2" y="611.35" width="18.6" height="12.2" fill="#ffcf00"/>
<rect x="692.8" y="611.35" width="17" height="12.2" fill="#ffcf00"/>
<rect x="708.8" y="611.35" width="18.6" height="12.2" fill="#ffcf00"/>
<rect x="726.4" y="611.35" width="16" height="12.2" fill="#ffdf00"/>
<rect x="592" y="622.55" width="18.6" height="12.2" fill="#20ffdf"/>
<rect x="609.6" y="622.55" width="17" height="12.2" fill="#60ff9f"/>
<rect x="625.6" y="622.55" width="18.6" height="12.2" fill="#80ff80"/>
<rect x="643.2" y="622.55" width="17" height="12.2" fill="#8fff70"/>
<rect x="659.2" y="622.55" width="17" height="12.2" fill="#9fff60"/>
<rect x="675.2" y="622.55" width="18.6" height="12.2" fill="#8fff70"/>
<rect x="692.8" y="622.55" width="17" height="12.2" fill="#8fff70"/>
<rect x="708.8" y="622.55" width="18.6" height="12.2" fill="#80ff80"/>
<rect x="726.4" y="622.55" width="16" height="12.2" fill="#80ff80"/>
<rect x="592" y="633.75" width="18.6" height="11.2" fill="#0050ff"/>
<rect x="609.6" y="633.75" width="17" height="11.2" fill="#008fff"/>
<rect x="625.6" y="633.75" width="18.6" height="11.2" fill="#00afff"/>
<rect x="643.2" y="633.75" width="17" height="11.2" fill="#00afff"/>
<rect x="659.2" y="633.75" width="17" height="11.2" fill="#00afff"/>
<rect x="675.2" y="633.75" width="18.6" height="11.2" fill="#009fff"/>
<rect x="692.8" y="633.75" width="17" height="11.2" fill="#009fff"/>
<rect x="708.8" y="633.75" width="18.6" height="11.2" fill="#008fff"/>
<rect x="726.4" y="633.75" width="16" height="11.2" fill="#0080ff"/>
<path class="g" d="M609.6 577.75V644.95M625.6 577.75V644.95M643.2 577.75V644.95M659.2 577.75V644.95M675.2 577.75V644.95M692.8 577.75V644.95M708.8 577.75V644.95M726.4 577.75V644.95M592 588.95H742.4M592 600.15H742.4M592 611.35H742.4M592 622.55H742.4M592 633.75H742.4"/>
<path class="b" d="M592 644.95V577.75H742.4"/>
<path class="t" d="M591.9 577.95h3.7v1.8h-3.7zM609.5 577.95h3.7v1.8h-3.7zM625.5 577.95h3.7v1.8h-3.7zM643.1 577.95h3.7v1.8h-3.7zM659.1 577.95h3.7v1.8h-3.7zM675.1 577.95h3.7v1.8h-3.7zM692.7 577.95h3.7v1.8h-3.7zM708.7 577.95h3.7v1.8h-3.7zM726.3 577.95h3.7v1.8h-3.7zM742.3 577.95h3.7v1.8h-3.7zM591.9 589.15h3.7v1.8h-3.7zM609.5 589.15h3.7v1.8h-3.7zM625.5 589.15h3.7v1.8h-3.7zM643.1 589.15h3.7v1.8h-3.7zM659.1 589.15h3.7v1.8h-3.7zM675.1 589.15h3.7v1.8h-3.7zM692.7 589.15h3.7v1.8h-3.7zM708.7 589.15h3.7v1.8h-3.7zM726.3 589.15h3.7v1.8h-3.7zM742.3 589.15h3.7v1.8h-3.7zM591.9 600.35h3.7v1.8h-3.7zM609.5 600.35h3.7v1.8h-3.7zM625.5 600.35h3.7v1.8h-3.7zM643.1 600.35h3.7v1.8h-3.7zM659.1 600.35h3.7v1.8h-3.7zM675.1 600.35h3.7v1.8h-3.7zM692.7 600.35h3.7v1.8h-3.7zM708.7 600.35h3.7v1.8h-3.7zM726.3 600.35h3.7v1.8h-3.7zM742.3 600.35h3.7v1.8h-3.7zM591.9 611.55h3.7v1.8h-3.7zM609.5 611.55h3.7v1.8h-3.7zM625.5 611.55h3.7v1.8h-3.7zM643.1 611.55h3.7v1.8h-3.7zM659.1 611.55h3.7v1.8h-3.7zM675.1 611.55h3.7v1.8h-3.7zM692.7 611.55h3.7v1.8h-3.7zM708.7 611.55h3.7v1.8h-3.7zM726.3 611.55h3.7v1.8h-3.7zM742.3 611.55h3.7v1.8h-3.7zM591.9 622.75h3.7v1.8h-3.7zM609.5 622.75h3.7v1.8h-3.7zM625.5 622.75h3.7v1.8h-3.7zM643.1 622.75h3.7v1.8h-3.7zM659.1 622.75h3.7v1.8h-3.7zM675.1 622.75h3.7v1.8h-3.7zM692.7 622.75h3.7v1.8h-3.7zM708.7 622.75h3.7v1.8h-3.7zM726.3 622.75h3.7v1.8h-3.7zM742.3 622.75h3.7v1.8h-3.7zM591.9 633.95h3.7v1.8h-3.7zM609.5 633.95h3.7v1.8h-3.7zM625.5 633.95h3.7v1.8h-3.7zM643.1 633.95h3.7v1.8h-3.7zM659.1 633.95h3.7v1.8h-3.7zM675.1 633.95h3.7v1.8h-3.7zM692.7 633.95h3.7v1.8h-3.7zM708.7 633.95h3.7v1.8h-3.7zM726.3 633.95h3.7v1.8h-3.7zM742.3 633.95h3.7v1.8h-3.7zM609.5 645.15h3.7v1.8h-3.7zM625.5 645.15h3.7v1.8h-3.7zM643.1 645.15h3.7v1.8h-3.7zM659.1 645.15h3.7v1.8h-3.7zM675.1 645.15h3.7v1.8h-3.7zM692.7 645.15h3.7v1.8h-3.7zM708.7 645.15h3.7v1.8h-3.7zM726.3 645.15h3.7v1.8h-3.7zM742.3 645.15h3.7v1.8h-3.7z"/>
</g>
<g>
<rect x="760" y="577.75" width="17" height="12.2" fill="#10ffef"/>
<rect x="776" y="577.75" width="18.6" height="12.2" fill="#80ff80"/>
<rect x="793.6" y="577.75" width="17" height="12.2" fill="#cfff30"/>
<rect x="809.6" y="577.75" width="18.6" height="12.2" fill="#ffff00"/>
<rect x="827.2" y="577.75" width="17" height="12.2" fill="#ffcf00"/>
<rect x="843.2" y="577.75" width="18.6" height="12.2" fill="#ffbf00"/>
<rect x="860.8" y="577.75" width="17" height="12.2" fill="#ffaf00"/>
<rect x="876.8" y="577.75" width="18.6" height="12.2" fill="#ffaf00"/>
<rect x="894.4" y="577.75" width="16" height="12.2" fill="#ff9f00"/>
<rect x="760" y="588.95" width="17" height="12.2" fill="#60ff9f"/>
<rect x="776" y="588.95" width="18.6" height="12.2" fill="#cfff30"/>
<rect x="793.6" y="588.95" width="17" height="12.2" fill="#ffdf00"/>
<rect x="809.6" y="588.95" width="18.6" height="12.2" fill="#ffaf00"/>
<rect x="827.2" y="588.95" width="17" height="12.2" fill="#ff8f00"/>
<rect x="843.2" y="588.95" width="18.6" height="12.2" fill="#ff8000"/>
<rect x="860.8" y="588.95" width="17" height="12.2" fill="#ff7000"/>
<rect x="876.8" y="588.95" width="18.6" height="12.2" fill="#ff7000"/>
<rect x="894.4" y="588.95" width="16" height="12.2" fill="#ff7000"/>
<rect x="760" y="600.15" width="17" height="12.2" fill="#80ff80"/>
<rect x="776" y="600.15" width="18.6" height="12.2" fill="#efff10"/>
<rect x="793.6" y="600.15" width="17" height="12.2" fill="#ffbf00"/>
<rect x="809.6" y="600.15" width="18.6" height="12.2" fill="#ffaf00"/>
<rect x="827.2" y="600.15" width="17" height="12.2" fill="#ff8f00"/>
<rect x="843.2" y="600.15" width="18.6" height="12.2" fill="#ff8000"/>
<rect x="860.8" y="600.15" width="17" height="12.2" fill="#ff8000"/>
<rect x="876.8" y="600.15" width="18.6" height="12.2" fill="#ff8000"/>
<rect x="894.4" y="600.15" width="16" height="12.2" fill="#ff8000"/>
<rect x="760" y="611.35" width="17" height="12.2" fill="#60ff9f"/>
<rect x="776" y="611.35" width="18.6" height="12.2" fill="#bfff40"/>
<rect x="793.6" y="611.35" width="17" height="12.2" fill="#ffff00"/>
<rect x="809.6" y="611.35" width="18.6" height="12.2" fill="#ffdf00"/>
<rect x="827.2" y="611.35" width="17" height="12.2" fill="#ffcf00"/>
<rect x="843.2" y="611.35" width="18.6" height="12.2" fill="#ffcf00"/>
<rect x="860.8" y="611.35" width="17" height="12.2" fill="#ffbf00"/>
<rect x="876.8" y="611.35" width="18.6" height="12.2" fill="#ffbf00"/>
<rect x="894.4" y="611.35" width="16" height="12.2" fill="#ffcf00"/>
<rect x="760" y="622.55" width="17" height="12.2" fill="#00ffff"/>
<rect x="776" y="622.55" width="18.6" height="12.2" fill="#50ffaf"/>
<rect x="793.6" y="622.55" width="17" height="12.2" fill="#80ff80"/>
<rect x="809.6" y="622.55" width="18.6" height="12.2" fill="#9fff60"/>
<rect x="827.2" y="622.55" width="17" height="12.2" fill="#9fff60"/>
<rect x="843.2" y="622.55" width="18.6" height="12.2" fill="#9fff60"/>
<rect x="860.8" y="622.55" width="17" height="12.2" fill="#9fff60"/>
<rect x="876.8" y="622.55" width="18.6" height="12.2" fill="#9fff60"/>
<rect x="894.4" y="622.55" width="16" height="12.2" fill="#8fff70"/>
<rect x="760" y="633.75" width="17" height="11.2" fill="#0040ff"/>
<rect x="776" y="633.75" width="18.6" height="11.2" fill="#008fff"/>
<rect x="793.6" y="633.75" width="17" height="11.2" fill="#00afff"/>
<rect x="809.6" y="633.75" width="18.6" height="11.2" fill="#00bfff"/>
<rect x="827.2" y="633.75" width="17" height="11.2" fill="#00bfff"/>
<rect x="843.2" y="633.75" width="18.6" height="11.2" fill="#00bfff"/>
<rect x="860.8" y="633.75" width="17" height="11.2" fill="#00afff"/>
<rect x="876.8" y="633.75" width="18.6" height="11.2" fill="#00afff"/>
<rect x="894.4" y="633.75" width="16" height="11.2" fill="#009fff"/>
<path class="g" d="M776 577.75V644.95M793.6 577.75V644.95M809.6 577.75V644.95M827.2 577.75V644.95M843.2 577.75V644.95M860.8 577.75V644.95M876.8 577.75V644.95M894.4 577.75V644.95M760 588.95H910.4M760 600.15H910.4M760 611.35H910.4M760 622.55H910.4M760 633.75H910.4"/>
<path class="b" d="M760 644.95V577.75H910.4"/>
<path class="t" d="M759.9 577.95h3.7v1.8h-3.7zM775.9 577.95h3.7v1.8h-3.7zM793.5 577.95h3.7v1.8h-3.7zM809.5 577.95h3.7v1.8h-3.7zM827.1 577.95h3.7v1.8h-3.7zM843.1 577.95h3.7v1.8h-3.7zM860.7 577.95h3.7v1.8h-3.7zM876.7 577.95h3.7v1.8h-3.7zM894.3 577.95h3.7v1.8h-3.7zM910.3 577.95h3.7v1.8h-3.7zM759.9 589.15h3.7v1.8h-3.7zM775.9 589.15h3.7v1.8h-3.7zM793.5 589.15h3.7v1.8h-3.7zM809.5 589.15h3.7v1.8h-3.7zM827.1 589.15h3.7v1.8h-3.7zM843.1 589.15h3.7v1.8h-3.7zM860.7 589.15h3.7v1.8h-3.7zM876.7 589.15h3.7v1.8h-3.7zM894.3 589.15h3.7v1.8h-3.7zM910.3 589.15h3.7v1.8h-3.7zM759.9 600.35h3.7v1.8h-3.7zM775.9 600.35h3.7v1.8h-3.7zM793.5 600.35h3.7v1.8h-3.7zM809.5 600.35h3.7v1.8h-3.7zM827.1 600.35h3.7v1.8h-3.7zM843.1 600.35h3.7v1.8h-3.7zM860.7 600.35h3.7v1.8h-3.7zM876.7 600.35h3.7v1.8h-3.7zM894.3 600.35h3.7v1.8h-3.7zM910.3 600.35h3.7v1.8h-3.7zM759.9 611.55h3.7v1.8h-3.7zM775.9 611.55h3.7v1.8h-3.7zM793.5 611.55h3.7v1.8h-3.7zM809.5 611.55h3.7v1.8h-3.7zM827.1 611.55h3.7v1.8h-3.7zM843.1 611.55h3.7v1.8h-3.7zM860.7 611.55h3.7v1.8h-3.7zM876.7 611.55h3.7v1.8h-3.7zM894.3 611.55h3.7v1.8h-3.7zM910.3 611.55h3.7v1.8h-3.7zM759.9 622.75h3.7v1.8h-3.7zM775.9 622.75h3.7v1.8h-3.7zM793.5 622.75h3.7v1.8h-3.7zM809.5 622.75h3.7v1.8h-3.7zM827.1 622.75h3.7v1.8h-3.7zM843.1 622.75h3.7v1.8h-3.7zM860.7 622.75h3.7v1.8h-3.7zM876.7 622.75h3.7v1.8h-3.7zM894.3 622.75h3.7v1.8h-3.7zM910.3 622.75h3.7v1.8h-3.7zM759.9 633.95h3.7v1.8h-3.7zM775.9 633.95h3.7v1.8h-3.7zM793.5 633.95h3.7v1.8h-3.7zM809.5 633.95h3.7v1.8h-3.7zM827.1 633.95h3.7v1.8h-3.7zM843.1 633.95h3.7v1.8h-3.7zM860.7 633.95h3.7v1.8h-3.7zM876.7 633.95h3.7v1.8h-3.7zM894.3 633.95h3.7v1.8h-3.7zM910.3 633.95h3.7v1.8h-3.7zM775.9 645.15h3.7v1.8h-3.7zM793.5 645.15h3.7v1.8h-3.7zM809.5 645.15h3.7v1.8h-3.7zM827.1 645.15h3.7v1.8h-3.7zM843.1 645.15h3.7v1.8h-3.7zM860.7 645.15h3.7v1.8h-3.7zM876.7 645.15h3.7v1.8h-3.7zM894.3 645.15h3.7v1.8h-3.7zM910.3 645.15h3.7v1.8h-3.7z"/>
</g>
<g>
<rect x="89.6" y="665.75" width="17" height="12.2" fill="#00ffff"/>
<rect x="105.6" y="665.75" width="18.6" height="12.2" fill="#70ff8f"/>
<rect x="123.2" y="665.75" width="17" height="12.2" fill="#8fff70"/>
<rect x="139.2" y="665.75" width="18.6" height="12.2" fill="#afff50"/>
<rect x="156.8" y="665.75" width="17" height="12.2" fill="#bfff40"/>
<rect x="172.8" y="665.75" width="18.6" height="12.2" fill="#cfff30"/>
<rect x="190.4" y="665.75" width="17" height="12.2" fill="#cfff30"/>
<rect x="206.4" y="665.75" width="18.6" height="12.2" fill="#cfff30"/>
<rect x="224" y="665.75" width="16" height="12.2" fill="#cfff30"/>
<rect x="89.6" y="676.95" width="17" height="12.2" fill="#20ffdf"/>
<rect x="105.6" y="676.95" width="18.6" height="12.2" fill="#8fff70"/>
<rect x="123.2" y="676.95" width="17" height="12.2" fill="#bfff40"/>
<rect x="139.2" y="676.95" width="18.6" height="12.2" fill="#dfff20"/>
<rect x="156.8" y="676.95" width="17" height="12.2" fill="#efff10"/>
<rect x="172.8" y="676.95" width="18.6" height="12.2" fill="#efff10"/>
<rect x="190.4" y="676.95" width="17" height="12.2" fill="#efff10"/>
<rect x="206.4" y="676.95" width="18.6" height="12.2" fill="#efff10"/>
<rect x="224" y="676.95" width="16" height="12.2" fill="#efff10"/>
<rect x="89.6" y="688.15" width="17" height="12.2" fill="#20ffdf"/>
<rect x="105.6" y="688.15" width="18.6" height="12.2" fill="#8fff70"/>
<rect x="123.2" y="688.15" width="17" height="12.2" fill="#bfff40"/>
<rect x="139.2" y="688.15" width="18.6" height="12.2" fill="#cfff30"/>
<rect x="156.8" y="688.15" width="17" height="12.2" fill="#dfff20"/>
<rect x="172.8" y="688.15" width="18.6" height="12.2" fill="#dfff20"/>
<rect x="190.4" y="688.15" width="17" height="12.2" fill="#dfff20"/>
<rect x="206.4" y="688.15" width="18.6" height="12.2" fill="#dfff20"/>
<rect x="224" y="688.15" width="16" height="12.2" fill="#cfff30"/>
<rect x="89.6" y="699.35" width="17" height="12.2" fill="#00dfff"/>
<rect x="105.6" y="699.35" width="18.6" height="12.2" fill="#40ffbf"/>
<rect x="123.2" y="699.35" width="17" height="12.2" fill="#60ff9f"/>
<rect x="139.2" y="699.35" width="18.6" height="12.2" fill="#70ff8f"/>
<rect x="156.8" y="699.35" width="17" height="12.2" fill="#80ff80"/>
<rect x="172.8" y="699.35" width="18.6" height="12.2" fill="#80ff80"/>
<rect x="190.4" y="699.35" width="17" height="12.2" fill="#80ff80"/>
<rect x="206.4" y="699.35" width="18.6" height="12.2" fill="#70ff8f"/>
<rect x="224" y="699.35" width="16" height="12.2" fill="#60ff9f"/>
<rect x="89.6" y="710.55" width="17" height="12.2" fill="#0060ff"/>
<rect x="105.6" y="710.55" width="18.6" height="12.2" fill="#00afff"/>
<rect x="123.2" y="710.55" width="17" height="12.2" fill="#00cfff"/>
<rect x="139.2" y="710.55" width="18.6" height="12.2" fill="#00dfff"/>
<rect x="156.8" y="710.55" width="17" height="12.2" fill="#00dfff"/>
<rect x="172.8" y="710.55" width="18.6" height="12.2" fill="#00dfff"/>
<rect x="190.4" y="710.55" width="17" height="12.2" fill="#00cfff"/>
<rect x="206.4" y="710.55" width="18.6" height="12.2" fill="#00bfff"/>
<rect x="224" y="710.55" width="16" height="12.2" fill="#00afff"/>
<rect x="89.6" y="721.75" width="17" height="11.2" fill="#00009f"/>
<rect x="105.6" y="721.75" width="18.6" height="11.2" fill="#0000df"/>
<rect x="123.2" y="721.75" width="17" height="11.2" fill="#0000ef"/>
<rect x="139.2" y="721.75" width="18.6" height="11.2" fill="#0000ff"/>
<rect x="156.8" y="721.75" width="17" height="11.2" fill="#0000ef"/>
<rect x="172.8" y="721.75" width="18.6" height="11.2" fill="#0000ef"/>
<rect x="190.4" y="721.75" width="17" height="11.2" fill="#0000cf"/>
<rect x="206.4" y="721.75" width="18.6" height="11.2" fill="#0000bf"/>
<rect x="224" y="721.75" width="16" height="11.2" fill="#0000af"/>
<path class="g" d="M105.6 665.75V732.95M123.2 665.75V732.95M139.2 665.75V732.95M156.8 665.75V732.95M172.8 665.75V732.95M190.4 665.75V732.95M206.4 665.75V732.95M224 665.75V732.95M89.6 676.95H240M89.6 688.15H240M89.6 699.35H240M89.6 710.55H240M89.6 721.75H240"/>
<path class="b" d="M89.6 732.95V665.75H240"/>
<path class="t" d="M89.5 665.95h3.7v1.8h-3.7zM105.5 665.95h3.7v1.8h-3.7zM123.1 665.95h3.7v1.8h-3.7zM139.1 665.95h3.7v1.8h-3.7zM156.7 665.95h3.7v1.8h-3.7zM172.7 665.95h3.7v1.8h-3.7zM190.3 665.95h3.7v1.8h-3.7zM206.3 665.95h3.7v1.8h-3.7zM223.9 665.95h3.7v1.8h-3.7zM239.9 665.95h3.7v1.8h-3.7zM89.5 677.15h3.7v1.8h-3.7zM105.5 677.15h3.7v1.8h-3.7zM123.1 677.15h3.7v1.8h-3.7zM139.1 677.15h3.7v1.8h-3.7zM156.7 677.15h3.7v1.8h-3.7zM172.7 677.15h3.7v1.8h-3.7zM190.3 677.15h3.7v1.8h-3.7zM206.3 677.15h3.7v1.8h-3.7zM223.9 677.15h3.7v1.8h-3.7zM239.9 677.15h3.7v1.8h-3.7zM89.5 688.35h3.7v1.8h-3.7zM105.5 688.35h3.7v1.8h-3.7zM123.1 688.35h3.7v1.8h-3.7zM139.1 688.35h3.7v1.8h-3.7zM156.7 688.35h3.7v1.8h-3.7zM172.7 688.35h3.7v1.8h-3.7zM190.3 688.35h3.7v1.8h-3.7zM206.3 688.35h3.7v1.8h-3.7zM223.9 688.35h3.7v1.8h-3.7zM239.9 688.35h3.7v1.8h-3.7zM89.5 699.55h3.7v1.8h-3.7zM105.5 699.55h3.7v1.8h-3.7zM123.1 699.55h3.7v1.8h-3.7zM139.1 699.55h3.7v1.8h-3.7zM156.7 699.55h3.7v1.8h-3.7zM172.7 699.55h3.7v1.8h-3.7zM190.3 699.55h3.7v1.8h-3.7zM206.3 699.55h3.7v1.8h-3.7zM223.9 699.55h3.7v1.8h-3.7zM239.9 699.55h3.7v1.8h-3.7zM89.5 710.75h3.7v1.8h-3.7zM105.5 710.75h3.7v1.8h-3.7zM123.1 710.75h3.7v1.8h-3.7zM139.1 710.75h3.7v1.8h-3.7zM156.7 710.75h3.7v1.8h-3.7zM172.7 710.75h3.7v1.8h-3.7zM190.3 710.75h3.7v1.8h-3.7zM206.3 710.75h3.7v1.8h-3.7zM223.9 710.75h3.7v1.8h-3.7zM239.9 710.75h3.7v1.8h-3.7zM89.5 721.95h3.7v1.8h-3.7zM105.5 721.95h3.7v1.8h-3.7zM123.1 721.95h3.7v1.8h-3.7zM139.1 721.95h3.7v1.8h-3.7zM156.7 721.95h3.7v1.8h-3.7zM172.7 721.95h3.7v1.8h-3.7zM190.3 721.95h3.7v1.8h-3.7zM206.3 721.95h3.7v1.8h-3.7zM223.9 721.95h3.7v1.8h-3.7zM239.9 721.95h3.7v1.8h-3.7zM105.5 733.15h3.7v1.8h-3.7zM123.1 733.15h3.7v1.8h-3.7zM139.1 733.15h3.7v1.8h-3.7zM156.7 733.15h3.7v1.8h-3.7zM172.7 733.15h3.7v1.8h-3.7zM190.3 733.15h3.7v1.8h-3.7zM206.3 733.15h3.7v1.8h-3.7zM223.9 733.15h3.7v1.8h-3.7zM239.9 733.15h3.7v1.8h-3.7z"/>
</g>
<g>
<rect x="257.6" y="665.75" width="17" height="12.2" fill="#30ffcf"/>
<rect x="273.6" y="665.75" width="18.6" height="12.2" fill="#80ff80"/>
<rect x="291.2" y="665.75" width="17" height="12.2" fill="#afff50"/>
<rect x="307.2" y="665.75" width="18.6" height="12.2" fill="#bfff40"/>
<rect x="324.8" y="665.75" width="17" height="12.2" fill="#cfff30"/>
<rect x="340.8" y="665.75" width="17" height="12.2" fill="#cfff30"/>
<rect x="356.8" y="665.75" width="18.6" height="12.2" fill="#cfff30"/>
<rect x="374.4" y="665.75" width="17" height="12.2" fill="#cfff30"/>
<rect x="390.4" y="665.75" width="17.6" height="12.2" fill="#cfff30"/>
<rect x="257.6" y="676.95" width="17" height="12.2" fill="#60ff9f"/>
<rect x="273.6" y="676.95" width="18.6" height="12.2" fill="#afff50"/>
<rect x="291.2" y="676.95" width="17" height="12.2" fill="#dfff20"/>
<rect x="307.2" y="676.95" width="18.6" height="12.2" fill="#ffff00"/>
<rect x="324.8" y="676.95" width="17" height="12.2" fill="#ffff00"/>
<rect x="340.8" y="676.95" width="17" height="12.2" fill="#ffff00"/>
<rect x="356.8" y="676.95" width="18.6" height="12.2" fill="#ffff00"/>
<rect x="374.4" y="676.95" width="17" height="12.2" fill="#ffff00"/>
<rect x="390.4" y="676.95" width="17.6" height="12.2" fill="#ffff00"/>
<rect x="257.6" y="688.15" width="17" height="12.2" fill="#60ff9f"/>
<rect x="273.6" y="688.15" width="18.6" height="12.2" fill="#afff50"/>
<rect x="291.2" y="688.15" width="17" height="12.2" fill="#dfff20"/>
<rect x="307.2" y="688.15" width="18.6" height="12.2" fill="#efff10"/>
<rect x="324.8" y="688.15" width="17" height="12.2" fill="#efff10"/>
<rect x="340.8" y="688.15" width="17" height="12.2" fill="#efff10"/>
<rect x="356.8" y="688.15" width="18.6" height="12.2" fill="#efff10"/>
<rect x="374.4" y="688.15" width="17" height="12.2" fill="#efff10"/>
<rect x="390.4" y="688.15" width="17.6" height="12.2" fill="#dfff20"/>
<rect x="257.6" y="699.35" width="17" height="12.2" fill="#30ffcf"/>
<rect x="273.6" y="699.35" width="18.6" height="12.2" fill="#70ff8f"/>
<rect x="291.2" y="699.35" width="17" height="12.2" fill="#8fff70"/>
<rect x="307.2" y="699.35" width="18.6" height="12.2" fill="#9fff60"/>
<rect x="324.8" y="699.35" width="17" height="12.2" fill="#9fff60"/>
<rect x="340.8" y="699.35" width="17" height="12.2" fill="#9fff60"/>
<rect x="356.8" y="699.35" width="18.6" height="12.2" fill="#9fff60"/>
<rect x="374.4" y="699.35" width="17" height="12.2" fill="#8fff70"/>
<rect x="390.4" y="699.35" width="17.6" height="12.2" fill="#80ff80"/>
<rect x="257.6" y="710.55" width="17" height="12.2" fill="#00afff"/>
<rect x="273.6" y="710.55" width="18.6" height="12.2" fill="#00efff"/>
<rect x="291.2" y="710.55" width="17" height="12.2" fill="#00ffff"/>
<rect x="307.2" y="710.55" width="18.6" height="12.2" fill="#10ffef"/>
<rect x="324.8" y="710.55" width="17" height="12.2" fill="#10ffef"/>
<rect x="340.8" y="710.55" width="17" height="12.2" fill="#00ffff"/>
<rect x="356.8" y="710.55" width="18.6" height="12.2" fill="#00efff"/>
<rect x="374.4" y="710.55" width="17" height="12.2" fill="#00dfff"/>
<rect x="390.4" y="710.55" width="17.6" height="12.2" fill="#00cfff"/>
<rect x="257.6" y="721.75" width="17" height="11.2" fill="#0000ef"/>
<rect x="273.6" y="721.75" width="18.6" height="11.2" fill="#0020ff"/>
<rect x="291.2" y="721.75" width="17" height="11.2" fill="#0030ff"/>
<rect x="307.2" y="721.75" width="18.6" height="11.2" fill="#0030ff"/>
<rect x="324.8" y="721.75" width="17" height="11.2" fill="#0020ff"/>
<rect x="340.8" y="721.75" width="17" height="11.2" fill="#0020ff"/>
<rect x="356.8" y="721.75" width="18.6" height="11.2" fill="#0000ff"/>
<rect x="374.4" y="721.75" width="17" height="11.2" fill="#0000ef"/>
<rect x="390.4" y="721.75" width="17.6" height="11.2" fill="#0000df"/>
<path class="g" d="M273.6 665.75V732.95M291.2 665.75V732.95M307.2 665.75V732.95M324.8 665.75V732.95M340.8 665.75V732.95M356.8 665.75V732.95M374.4 665.75V732.95M390.4 665.75V732.95M257.6 676.95H408M257.6 688.15H408M257.6 699.35H408M257.6 710.55H408M257.6 721.75H408"/>
<path class="b" d="M257.6 732.95V665.75H408"/>
<path class="t" d="M257.5 665.95h3.7v1.8h-3.7zM273.5 665.95h3.7v1.8h-3.7zM291.1 665.95h3.7v1.8h-3.7zM307.1 665.95h3.7v1.8h-3.7zM324.7 665.95h3.7v1.8h-3.7zM340.7 665.95h3.7v1.8h-3.7zM356.7 665.95h3.7v1.8h-3.7zM374.3 665.95h3.7v1.8h-3.7zM390.3 665.95h3.7v1.8h-3.7zM407.9 665.95h3.7v1.8h-3.7zM257.5 677.15h3.7v1.8h-3.7zM273.5 677.15h3.7v1.8h-3.7zM291.1 677.15h3.7v1.8h-3.7zM307.1 677.15h3.7v1.8h-3.7zM324.7 677.15h3.7v1.8h-3.7zM340.7 677.15h3.7v1.8h-3.7zM356.7 677.15h3.7v1.8h-3.7zM374.3 677.15h3.7v1.8h-3.7zM390.3 677.15h3.7v1.8h-3.7zM407.9 677.15h3.7v1.8h-3.7zM257.5 688.35h3.7v1.8h-3.7zM273.5 688.35h3.7v1.8h-3.7zM291.1 688.35h3.7v1.8h-3.7zM307.1 688.35h3.7v1.8h-3.7zM324.7 688.35h3.7v1.8h-3.7zM340.7 688.35h3.7v1.8h-3.7zM356.7 688.35h3.7v1.8h-3.7zM374.3 688.35h3.7v1.8h-3.7zM390.3 688.35h3.7v1.8h-3.7zM407.9 688.35h3.7v1.8h-3.7zM257.5 699.55h3.7v1.8h-3.7zM273.5 699.55h3.7v1.8h-3.7zM291.1 699.55h3.7v1.8h-3.7zM307.1 699.55h3.7v1.8h-3.7zM324.7 699.55h3.7v1.8h-3.7zM340.7 699.55h3.7v1.8h-3.7zM356.7 699.55h3.7v1.8h-3.7zM374.3 699.55h3.7v1.8h-3.7zM390.3 699.55h3.7v1.8h-3.7zM407.9 699.55h3.7v1.8h-3.7zM257.5 710.75h3.7v1.8h-3.7zM273.5 710.75h3.7v1.8h-3.7zM291.1 710.75h3.7v1.8h-3.7zM307.1 710.75h3.7v1.8h-3.7zM324.7 710.75h3.7v1.8h-3.7zM340.7 710.75h3.7v1.8h-3.7zM356.7 710.75h3.7v1.8h-3.7zM374.3 710.75h3.7v1.8h-3.7zM390.3 710.75h3.7v1.8h-3.7zM407.9 710.75h3.7v1.8h-3.7zM257.5 721.95h3.7v1.8h-3.7zM273.5 721.95h3.7v1.8h-3.7zM291.1 721.95h3.7v1.8h-3.7zM307.1 721.95h3.7v1.8h-3.7zM324.7 721.95h3.7v1.8h-3.7zM340.7 721.95h3.7v1.8h-3.7zM356.7 721.95h3.7v1.8h-3.7zM374.3 721.95h3.7v1.8h-3.7zM390.3 721.95h3.7v1.8h-3.7zM407.9 721.95h3.7v1.8h-3.7zM273.5 733.15h3.7v1.8h-3.7zM291.1 733.15h3.7v1.8h-3.7zM307.1 733.15h3.7v1.8h-3.7zM324.7 733.15h3.7v1.8h-3.7zM340.7 733.15h3.7v1.8h-3.7zM356.7 733.15h3.7v1.8h-3.7zM374.3 733.15h3.7v1.8h-3.7zM390.3 733.15h3.7v1.8h-3.7zM407.9 733.15h3.7v1.8h-3.7z"/>
</g>
<g>
<rect x="424" y="665.75" width="18.6" height="12.2" fill="#30ffcf"/>
<rect x="441.6" y="665.75" width="17" height="12.2" fill="#80ff80"/>
<rect x="457.6" y="665.75" width="18.6" height="12.2" fill="#afff50"/>
<rect x="475.2" y="665.75" width="17" height="12.2" fill="#cfff30"/>
<rect x="491.2" y="665.75" width="18.6" height="12.2" fill="#dfff20"/>
<rect x="508.8" y="665.75" width="17" height="12.2" fill="#dfff20"/>
<rect x="524.8" y="665.75" width="18.6" height="12.2" fill="#dfff20"/>
<rect x="542.4" y="665.75" width="17" height="12.2" fill="#dfff20"/>
<rect x="558.4" y="665.75" width="17.6" height="12.2" fill="#cfff30"/>
<rect x="424" y="676.95" width="18.6" height="12.2" fill="#70ff8f"/>
<rect x="441.6" y="676.95" width="17" height="12.2" fill="#bfff40"/>
<rect x="457.6" y="676.95" width="18.6" height="12.2" fill="#efff10"/>
<rect x="475.2" y="676.95" width="17" height="12.2" fill="#ffff00"/>
<rect x="491.2" y="676.95" width="18.6" height="12.2" fill="#ffef00"/>
<rect x="508.8" y="676.95" width="17" height="12.2" fill="#ffef00"/>
<rect x="524.8" y="676.95" width="18.6" height="12.2" fill="#ffef00"/>
<rect x="542.4" y="676.95" width="17" height="12.2" fill="#ffef00"/>
<rect x="558.4" y="676.95" width="17.6" height="12.2" fill="#ffff00"/>
<rect x="424" y="688.15" width="18.6" height="12.2" fill="#80ff80"/>
<rect x="441.6" y="688.15" width="17" height="12.2" fill="#cfff30"/>
<rect x="457.6" y="688.15" width="18.6" height="12.2" fill="#efff10"/>
<rect x="475.2" y="688.15" width="17" height="12.2" fill="#ffff00"/>
<rect x="491.2" y="688.15" width="18.6" height="12.2" fill="#ffef00"/>
<rect x="508.8" y="688.15" width="17" height="12.2" fill="#ffff00"/>
<rect x="524.8" y="688.15" width="18.6" height="12.2" fill="#ffff00"/>
<rect x="542.4" y="688.15" width="17" height="12.2" fill="#ffff00"/>
<rect x="558.4" y="688.15" width="17.6" height="12.2" fill="#efff10"/>
<rect x="424" y="699.35" width="18.6" height="12.2" fill="#50ffaf"/>
<rect x="441.6" y="699.35" width="17" height="12.2" fill="#8fff70"/>
<rect x="457.6" y="699.35" width="18.6" height="12.2" fill="#afff50"/>
<rect x="475.2" y="699.35" width="17" height="12.2" fill="#bfff40"/>
<rect x="491.2" y="699.35" width="18.6" height="12.2" fill="#bfff40"/>
<rect x="508.8" y="699.35" width="17" height="12.2" fill="#afff50"/>
<rect x="524.8" y="699.35" width="18.6" height="12.2" fill="#afff50"/>
<rect x="542.4" y="699.35" width="17" height="12.2" fill="#9fff60"/>
<rect x="558.4" y="699.35" width="17.6" height="12.2" fill="#9fff60"/>
<rect x="424" y="710.55" width="18.6" height="12.2" fill="#00dfff"/>
<rect x="441.6" y="710.55" width="17" height="12.2" fill="#10ffef"/>
<rect x="457.6" y="710.55" width="18.6" height="12.2" fill="#20ffdf"/>
<rect x="475.2" y="710.55" width="17" height="12.2" fill="#30ffcf"/>
<rect x="491.2" y="710.55" width="18.6" height="12.2" fill="#30ffcf"/>
<rect x="508.8" y="710.55" width="17" height="12.2" fill="#20ffdf"/>
<rect x="524.8" y="710.55" width="18.6" height="12.2" fill="#10ffef"/>
<rect x="542.4" y="710.55" width="17" height="12.2" fill="#00ffff"/>
<rect x="558.4" y="710.55" width="17.6" height="12.2" fill="#00efff"/>
<rect x="424" y="721.75" width="18.6" height="11.2" fill="#0010ff"/>
<rect x="441.6" y="721.75" width="17" height="11.2" fill="#0040ff"/>
<rect x="457.6" y="721.75" width="18.6" height="11.2" fill="#0050ff"/>
<rect x="475.2" y="721.75" width="17" height="11.2" fill="#0050ff"/>
<rect x="491.2" y="721.75" width="18.6" height="11.2" fill="#0040ff"/>
<rect x="508.8" y="721.75" width="17" height="11.2" fill="#0030ff"/>
<rect x="524.8" y="721.75" width="18.6" height="11.2" fill="#0020ff"/>
<rect x="542.4" y="721.75" width="17" height="11.2" fill="#0020ff"/>
<rect x="558.4" y="721.75" width="17.6" height="11.2" fill="#0000ff"/>
<path class="g" d="M441.6 665.75V732.95M457.6 665.75V732.95M475.2 665.75V732.95M491.2 665.75V732.95M508.8 665.75V732.95M524.8 665.75V732.95M542.4 665.75V732.95M558.4 665.75V732.95M424 676.95H576M424 688.15H576M424 699.35H576M424 710.55H576M424 721.75H576"/>
<path class="b" d="M424 732.95V665.75H576"/>
<path class="t" d="M423.9 665.95h3.7v1.8h-3.7zM441.5 665.95h3.7v1.8h-3.7zM457.5 665.95h3.7v1.8h-3.7zM475.1 665.95h3.7v1.8h-3.7zM491.1 665.95h3.7v1.8h-3.7zM508.7 665.95h3.7v1.8h-3.7zM524.7 665.95h3.7v1.8h-3.7zM542.3 665.95h3.7v1.8h-3.7zM558.3 665.95h3.7v1.8h-3.7zM575.9 665.95h3.7v1.8h-3.7zM423.9 677.15h3.7v1.8h-3.7zM441.5 677.15h3.7v1.8h-3.7zM457.5 677.15h3.7v1.8h-3.7zM475.1 677.15h3.7v1.8h-3.7zM491.1 677.15h3.7v1.8h-3.7zM508.7 677.15h3.7v1.8h-3.7zM524.7 677.15h3.7v1.8h-3.7zM542.3 677.15h3.7v1.8h-3.7zM558.3 677.15h3.7v1.8h-3.7zM575.9 677.15h3.7v1.8h-3.7zM423.9 688.35h3.7v1.8h-3.7zM441.5 688.35h3.7v1.8h-3.7zM457.5 688.35h3.7v1.8h-3.7zM475.1 688.35h3.7v1.8h-3.7zM491.1 688.35h3.7v1.8h-3.7zM508.7 688.35h3.7v1.8h-3.7zM524.7 688.35h3.7v1.8h-3.7zM542.3 688.35h3.7v1.8h-3.7zM558.3 688.35h3.7v1.8h-3.7zM575.9 688.35h3.7v1.8h-3.7zM423.9 699.55h3.7v1.8h-3.7zM441.5 699.55h3.7v1.8h-3.7zM457.5 699.55h3.7v1.8h-3.7zM475.1 699.55h3.7v1.8h-3.7zM491.1 699.55h3.7v1.8h-3.7zM508.7 699.55h3.7v1.8h-3.7zM524.7 699.55h3.7v1.8h-3.7zM542.3 699.55h3.7v1.8h-3.7zM558.3 699.55h3.7v1.8h-3.7zM575.9 699.55h3.7v1.8h-3.7zM423.9 710.75h3.7v1.8h-3.7zM441.5 710.75h3.7v1.8h-3.7zM457.5 710.75h3.7v1.8h-3.7zM475.1 710.75h3.7v1.8h-3.7zM491.1 710.75h3.7v1.8h-3.7zM508.7 710.75h3.7v1.8h-3.7zM524.7 710.75h3.7v1.8h-3.7zM542.3 710.75h3.7v1.8h-3.7zM558.3 710.75h3.7v1.8h-3.7zM575.9 710.75h3.7v1.8h-3.7zM423.9 721.95h3.7v1.8h-3.7zM441.5 721.95h3.7v1.8h-3.7zM457.5 721.95h3.7v1.8h-3.7zM475.1 721.95h3.7v1.8h-3.7zM491.1 721.95h3.7v1.8h-3.7zM508.7 721.95h3.7v1.8h-3.7zM524.7 721.95h3.7v1.8h-3.7zM542.3 721.95h3.7v1.8h-3.7zM558.3 721.95h3.7v1.8h-3.7zM575.9 721.95h3.7v1.8h-3.7zM441.5 733.15h3.7v1.8h-3.7zM457.5 733.15h3.7v1.8h-3.7zM475.1 733.15h3.7v1.8h-3.7zM491.1 733.15h3.7v1.8h-3.7zM508.7 733.15h3.7v1.8h-3.7zM524.7 733.15h3.7v1.8h-3.7zM542.3 733.15h3.7v1.8h-3.7zM558.3 733.15h3.7v1.8h-3.7zM575.9 733.15h3.7v1.8h-3.7z"/>
</g>
<g>
<rect x="592" y="665.75" width="18.6" height="12.2" fill="#10ffef"/>
<rect x="609.6" y="665.75" width="17" height="12.2" fill="#70ff8f"/>
<rect x="625.6" y="665.75" width="18.6" height="12.2" fill="#9fff60"/>
<rect x="643.2" y="665.75" width="17" height="12.2" fill="#bfff40"/>
<rect x="659.2" y="665.75" width="17" height="12.2" fill="#cfff30"/>
<rect x="675.2" y="665.75" width="18.6" height="12.2" fill="#dfff20"/>
<rect x="692.8" y="665.75" width="17" height="12.2" fill="#dfff20"/>
<rect x="708.8" y="665.75" width="18.6" height="12.2" fill="#dfff20"/>
<rect x="726.4" y="665.75" width="16" height="12.2" fill="#cfff30"/>
<rect x="592" y="676.95" width="18.6" height="12.2" fill="#60ff9f"/>
<rect x="609.6" y="676.95" width="17" height="12.2" fill="#bfff40"/>
<rect x="625.6" y="676.95" width="18.6" height="12.2" fill="#efff10"/>
<rect x="643.2" y="676.95" width="17" height="12.2" fill="#ffff00"/>
<rect x="659.2" y="676.95" width="17" height="12.2" fill="#ffef00"/>
<rect x="675.2" y="676.95" width="18.6" height="12.2" fill="#ffef00"/>
<rect x="692.8" y="676.95" width="17" height="12.2" fill="#ffef00"/>
<rect x="708.8" y="676.95" width="18.6" height="12.2" fill="#ffef00"/>
<rect x="726.4" y="676.95" width="16" height="12.2" fill="#ffef00"/>
<rect x="592" y="688.15" width="18.6" height="12.2" fill="#70ff8f"/>
<rect x="609.6" y="688.15" width="17" height="12.2" fill="#cfff30"/>
<rect x="625.6" y="688.15" width="18.6" height="12.2" fill="#efff10"/>
<rect x="643.2" y="688.15" width="17" height="12.2" fill="#ffef00"/>
<rect x="659.2" y="688.15" width="17" height="12.2" fill="#ffef00"/>
<rect x="675.2" y="688.15" width="18.6" height="12.2" fill="#ffef00"/>
<rect x="692.8" y="688.15" width="17" height="12.2" fill="#ffef00"/>
<rect x="708.8" y="688.15" width="18.6" height="12.2" fill="#ffff00"/>
<rect x="726.4" y="688.15" width="16" height="12.2" fill="#ffff00"/>
<rect x="592" y="699.35" width="18.6" height="12.2" fill="#50ffaf"/>
<rect x="609.6" y="699.35" width="17" height="12.2" fill="#9fff60"/>
<rect x="625.6" y="699.35" width="18.6" height="12.2" fill="#bfff40"/>
<rect x="643.2" y="699.35" width="17" height="12.2" fill="#cfff30"/>
<rect x="659.2" y="699.35" width="17" height="12.2" fill="#cfff30"/>
<rect x="675.2" y="699.35" width="18.6" height="12.2" fill="#cfff30"/>
<rect x="692.8" y="699.35" width="17" height="12.2" fill="#bfff40"/>
<rect x="708.8" y="699.35" width="18.6" height="12.2" fill="#bfff40"/>
<rect x="726.4" y="699.35" width="16" height="12.2" fill="#afff50"/>
<rect x="592" y="710.55" width="18.6" height="12.2" fill="#00efff"/>
<rect x="609.6" y="710.55" width="17" height="12.2" fill="#30ffcf"/>
<rect x="625.6" y="710.55" width="18.6" height="12.2" fill="#40ffbf"/>
<rect x="643.2" y="710.55" width="17" height="12.2" fill="#50ffaf"/>
<rect x="659.2" y="710.55" width="17" height="12.2" fill="#40ffbf"/>
<rect x="675.2" y="710.55" width="18.6" height="12.2" fill="#40ffbf"/>
<rect x="692.8" y="710.55" width="17" height="12.2" fill="#30ffcf"/>
<rect x="708.8" y="710.55" width="18.6" height="12.2" fill="#20ffdf"/>
<rect x="726.4" y="710.55" width="16" height="12.2" fill="#10ffef"/>
<rect x="592" y="721.75" width="18.6" height="11.2" fill="#0020ff"/>
<rect x="609.6" y="721.75" width="17" height="11.2" fill="#0060ff"/>
<rect x="625.6" y="721.75" width="18.6" height="11.2" fill="#0070ff"/>
<rect x="643.2" y="721.75" width="17" height="11.2" fill="#0070ff"/>
<rect x="659.2" y="721.75" width="17" height="11.2" fill="#0060ff"/>
<rect x="675.2" y="721.75" width="18.6" height="11.2" fill="#0050ff"/>
<rect x="692.8" y="721.75" width="17" height="11.2" fill="#0040ff"/>
<rect x="708.8" y="721.75" width="18.6" height="11.2" fill="#0030ff"/>
<rect x="726.4" y="721.75" width="16" height="11.2" fill="#0020ff"/>
<path class="g" d="M609.6 665.75V732.95M625.6 665.75V732.95M643.2 665.75V732.95M659.2 665.75V732.95M675.2 665.75V732.95M692.8 665.75V732.95M708.8 665.75V732.95M726.4 665.75V732.95M592 676.95H742.4M592 688.15H742.4M592 699.35H742.4M592 710.55H742.4M592 721.75H742.4"/>
<path class="b" d="M592 732.95V665.75H742.4"/>
<path class="t" d="M591.9 665.95h3.7v1.8h-3.7zM609.5 665.95h3.7v1.8h-3.7zM625.5 665.95h3.7v1.8h-3.7zM643.1 665.95h3.7v1.8h-3.7zM659.1 665.95h3.7v1.8h-3.7zM675.1 665.95h3.7v1.8h-3.7zM692.7 665.95h3.7v1.8h-3.7zM708.7 665.95h3.7v1.8h-3.7zM726.3 665.95h3.7v1.8h-3.7zM742.3 665.95h3.7v1.8h-3.7zM591.9 677.15h3.7v1.8h-3.7zM609.5 677.15h3.7v1.8h-3.7zM625.5 677.15h3.7v1.8h-3.7zM643.1 677.15h3.7v1.8h-3.7zM659.1 677.15h3.7v1.8h-3.7zM675.1 677.15h3.7v1.8h-3.7zM692.7 677.15h3.7v1.8h-3.7zM708.7 677.15h3.7v1.8h-3.7zM726.3 677.15h3.7v1.8h-3.7zM742.3 677.15h3.7v1.8h-3.7zM591.9 688.35h3.7v1.8h-3.7zM609.5 688.35h3.7v1.8h-3.7zM625.5 688.35h3.7v1.8h-3.7zM643.1 688.35h3.7v1.8h-3.7zM659.1 688.35h3.7v1.8h-3.7zM675.1 688.35h3.7v1.8h-3.7zM692.7 688.35h3.7v1.8h-3.7zM708.7 688.35h3.7v1.8h-3.7zM726.3 688.35h3.7v1.8h-3.7zM742.3 688.35h3.7v1.8h-3.7zM591.9 699.55h3.7v1.8h-3.7zM609.5 699.55h3.7v1.8h-3.7zM625.5 699.55h3.7v1.8h-3.7zM643.1 699.55h3.7v1.8h-3.7zM659.1 699.55h3.7v1.8h-3.7zM675.1 699.55h3.7v1.8h-3.7zM692.7 699.55h3.7v1.8h-3.7zM708.7 699.55h3.7v1.8h-3.7zM726.3 699.55h3.7v1.8h-3.7zM742.3 699.55h3.7v1.8h-3.7zM591.9 710.75h3.7v1.8h-3.7zM609.5 710.75h3.7v1.8h-3.7zM625.5 710.75h3.7v1.8h-3.7zM643.1 710.75h3.7v1.8h-3.7zM659.1 710.75h3.7v1.8h-3.7zM675.1 710.75h3.7v1.8h-3.7zM692.7 710.75h3.7v1.8h-3.7zM708.7 710.75h3.7v1.8h-3.7zM726.3 710.75h3.7v1.8h-3.7zM742.3 710.75h3.7v1.8h-3.7zM591.9 721.95h3.7v1.8h-3.7zM609.5 721.95h3.7v1.8h-3.7zM625.5 721.95h3.7v1.8h-3.7zM643.1 721.95h3.7v1.8h-3.7zM659.1 721.95h3.7v1.8h-3.7zM675.1 721.95h3.7v1.8h-3.7zM692.7 721.95h3.7v1.8h-3.7zM708.7 721.95h3.7v1.8h-3.7zM726.3 721.95h3.7v1.8h-3.7zM742.3 721.95h3.7v1.8h-3.7zM609.5 733.15h3.7v1.8h-3.7zM625.5 733.15h3.7v1.8h-3.7zM643.1 733.15h3.7v1.8h-3.7zM659.1 733.15h3.7v1.8h-3.7zM675.1 733.15h3.7v1.8h-3.7zM692.7 733.15h3.7v1.8h-3.7zM708.7 733.15h3.7v1.8h-3.7zM726.3 733.15h3.7v1.8h-3.7zM742.3 733.15h3.7v1.8h-3.7z"/>
</g>
<g>
<rect x="760" y="665.75" width="17" height="12.2" fill="#00cfff"/>
<rect x="776" y="665.75" width="18.6" height="12.2" fill="#40ffbf"/>
<rect x="793.6" y="665.75" width="17" height="12.2" fill="#80ff80"/>
<rect x="809.6" y="665.75" width="18.6" height="12.2" fill="#9fff60"/>
<rect x="827.2" y="665.75" width="17" height="12.2" fill="#bfff40"/>
<rect x="843.2" y="665.75" width="18.6" height="12.2" fill="#cfff30"/>
<rect x="860.8" y="665.75" width="17" height="12.2" fill="#cfff30"/>
<rect x="876.8" y="665.75" width="18.6" height="12.2" fill="#dfff20"/>
<rect x="894.4" y="665.75" width="16" height="12.2" fill="#dfff20"/>
<rect x="760" y="676.95" width="17" height="12.2" fill="#20ffdf"/>
<rect x="776" y="676.95" width="18.6" height="12.2" fill="#8fff70"/>
<rect x="793.6" y="676.95" width="17" height="12.2" fill="#cfff30"/>
<rect x="809.6" y="676.95" width="18.6" height="12.2" fill="#efff10"/>
<rect x="827.2" y="676.95" width="17" height="12.2" fill="#ffff00"/>
<rect x="843.2" y="676.95" width="18.6" height="12.2" fill="#ffef00"/>
<rect x="860.8" y="676.95" width="17" height="12.2" fill="#ffef00"/>
<rect x="876.8" y="676.95" width="18.6" height="12.2" fill="#ffef00"/>
<rect x="894.4" y="676.95" width="16" height="12.2" fill="#ffef00"/>
<rect x="760" y="688.15" width="17" height="12.2" fill="#40ffbf"/>
<rect x="776" y="688.15" width="18.6" height="12.2" fill="#9fff60"/>
<rect x="793.6" y="688.15" width="17" height="12.2" fill="#dfff20"/>
<rect x="809.6" y="688.15" width="18.6" height="12.2" fill="#ffff00"/>
<rect x="827.2" y="688.15" width="17" height="12.2" fill="#ffef00"/>
<rect x="843.2" y="688.15" width="18.6" height="12.2" fill="#ffef00"/>
<rect x="860.8" y="688.15" width="17" height="12.2" fill="#ffef00"/>
<rect x="876.8" y="688.15" width="18.6" height="12.2" fill="#ffef00"/>
<rect x="894.4" y="688.15" width="16" height="12.2" fill="#ffef00"/>
<rect x="760" y="699.35" width="17" height="12.2" fill="#30ffcf"/>
<rect x="776" y="699.35" width="18.6" height="12.2" fill="#8fff70"/>
<rect x="793.6" y="699.35" width="17" height="12.2" fill="#afff50"/>
<rect x="809.6" y="699.35" width="18.6" height="12.2" fill="#cfff30"/>
<rect x="827.2" y="699.35" width="17" height="12.2" fill="#cfff30"/>
<rect x="843.2" y="699.35" width="18.6" height="12.2" fill="#cfff30"/>
<rect x="860.8" y="699.35" width="17" height="12.2" fill="#cfff30"/>
<rect x="876.8" y="699.35" width="18.6" height="12.2" fill="#cfff30"/>
<rect x="894.4" y="699.35" width="16" height="12.2" fill="#bfff40"/>
<rect x="760" y="710.55" width="17" height="12.2" fill="#00dfff"/>
<rect x="776" y="710.55" width="18.6" height="12.2" fill="#20ffdf"/>
<rect x="793.6" y="710.55" width="17" height="12.2" fill="#40ffbf"/>
<rect x="809.6" y="710.55" width="18.6" height="12.2" fill="#50ffaf"/>
<rect x="827.2" y="710.55" width="17" height="12.2" fill="#50ffaf"/>
<rect x="843.2" y="710.55" width="18.6" height="12.2" fill="#50ffaf"/>
<rect x="860.8" y="710.55" width="17" height="12.2" fill="#40ffbf"/>
<rect x="876.8" y="710.55" width="18.6" height="12.2" fill="#40ffbf"/>
<rect x="894.4" y="710.55" width="16" height="12.2" fill="#30ffcf"/>
<rect x="760" y="721.75" width="17" height="11.2" fill="#0020ff"/>
<rect x="776" y="721.75" width="18.6" height="11.2" fill="#0060ff"/>
<rect x="793.6" y="721.75" width="17" height="11.2" fill="#0080ff"/>
<rect x="809.6" y="721.75" width="18.6" height="11.2" fill="#0080ff"/>
<rect x="827.2" y="721.75" width="17" height="11.2" fill="#0080ff"/>
<rect x="843.2" y="721.75" width="18.6" height="11.2" fill="#0070ff"/>
<rect x="860.8" y="721.75" width="17" height="11.2" fill="#0070ff"/>
<rect x="876.8" y="721.75" width="18.6" height="11.2" fill="#0060ff"/>
<rect x="894.4" y="721.75" width="16" height="11.2" fill="#0050ff"/>
<path class="g" d="M776 665.75V732.95M793.6 665.75V732.95M809.6 665.75V732.95M827.2 665.75V732.95M843.2 665.75V732.95M860.8 665.75V732.95M876.8 665.75V732.95M894.4 665.75V732.95M760 676.95H910.4M760 688.15H910.4M760 699.35H910.4M760 710.55H910.4M760 721.75H910.4"/>
<path class="b" d="M760 732.95V665.75H910.4"/>
<path class="t" d="M759.9 665.95h3.7v1.8h-3.7zM775.9 665.95h3.7v1.8h-3.7zM793.5 665.95h3.7v1.8h-3.7zM809.5 665.95h3.7v1.8h-3.7zM827.1 665.95h3.7v1.8h-3.7zM843.1 665.95h3.7v1.8h-3.7zM860.7 665.95h3.7v1.8h-3.7zM876.7 665.95h3.7v1.8h-3.7zM894.3 665.95h3.7v1.8h-3.7zM910.3 665.95h3.7v1.8h-3.7zM759.9 677.15h3.7v1.8h-3.7zM775.9 677.15h3.7v1.8h-3.7zM793.5 677.15h3.7v1.8h-3.7zM809.5 677.15h3.7v1.8h-3.7zM827.1 677.15h3.7v1.8h-3.7zM843.1 677.15h3.7v1.8h-3.7zM860.7 677.15h3.7v1.8h-3.7zM876.7 677.15h3.7v1.8h-3.7zM894.3 677.15h3.7v1.8h-3.7zM910.3 677.15h3.7v1.8h-3.7zM759.9 688.35h3.7v1.8h-3.7zM775.9 688.35h3.7v1.8h-3.7zM793.5 688.35h3.7v1.8h-3.7zM809.5 688.35h3.7v1.8h-3.7zM827.1 688.35h3.7v1.8h-3.7zM843.1 688.35h3.7v1.8h-3.7zM860.7 688.35h3.7v1.8h-3.7zM876.7 688.35h3.7v1.8h-3.7zM894.3 688.35h3.7v1.8h-3.7zM910.3 688.35h3.7v1.8h-3.7zM759.9 699.55h3.7v1.8h-3.7zM775.9 699.55h3.7v1.8h-3.7zM793.5 699.55h3.7v1.8h-3.7zM809.5 699.55h3.7v1.8h-3.7zM827.1 699.55h3.7v1.8h-3.7zM843.1 699.55h3.7v1.8h-3.7zM860.7 699.55h3.7v1.8h-3.7zM876.7 699.55h3.7v1.8h-3.7zM894.3 699.55h3.7v1.8h-3.7zM910.3 699.55h3.7v1.8h-3.7zM759.9 710.75h3.7v1.8h-3.7zM775.9 710.75h3.7v1.8h-3.7zM793.5 710.75h3.7v1.8h-3.7zM809.5 710.75h3.7v1.8h-3.7zM827.1 710.75h3.7v1.8h-3.7zM843.1 710.75h3.7v1.8h-3.7zM860.7 710.75h3.7v1.8h-3.7zM876.7 710.75h3.7v1.8h-3.7zM894.3 710.75h3.7v1.8h-3.7zM910.3 710.75h3.7v1.8h-3.7zM759.9 721.95h3.7v1.8h-3.7zM775.9 721.95h3.7v1.8h-3.7zM793.5 721.95h3.7v1.8h-3.7zM809.5 721.95h3.7v1.8h-3.7zM827.1 721.95h3.7v1.8h-3.7zM843.1 721.95h3.7v1.8h-3.7zM860.7 721.95h3.7v1.8h-3.7zM876.7 721.95h3.7v1.8h-3.7zM894.3 721.95h3.7v1.8h-3.7zM910.3 721.95h3.7v1.8h-3.7zM775.9 733.15h3.7v1.8h-3.7zM793.5 733.15h3.7v1.8h-3.7zM809.5 733.15h3.7v1.8h-3.7zM827.1 733.15h3.7v1.8h-3.7zM843.1 733.15h3.7v1.8h-3.7zM860.7 733.15h3.7v1.8h-3.7zM876.7 733.15h3.7v1.8h-3.7zM894.3 733.15h3.7v1.8h-3.7zM910.3 733.15h3.7v1.8h-3.7z"/>
</g>
<g>
<rect x="942.3" y="45.5" width="27.6" height="11.62" fill="#800000"/>
<rect x="942.3" y="56.12" width="27.6" height="11.62" fill="#8f0000"/>
<rect x="942.3" y="66.73" width="27.6" height="11.62" fill="#9f0000"/>
<rect x="942.3" y="77.35" width="27.6" height="11.62" fill="#af0000"/>
<rect x="942.3" y="87.97" width="27.6" height="11.62" fill="#bf0000"/>
<rect x="942.3" y="98.59" width="27.6" height="11.62" fill="#cf0000"/>
<rect x="942.3" y="109.2" width="27.6" height="11.62" fill="#df0000"/>
<rect x="942.3" y="119.82" width="27.6" height="11.62" fill="#ef0000"/>
<rect x="942.3" y="130.44" width="27.6" height="11.62" fill="#ff0000"/>
<rect x="942.3" y="141.05" width="27.6" height="11.62" fill="#ff1000"/>
<rect x="942.3" y="151.67" width="27.6" height="11.62" fill="#ff2000"/>
<rect x="942.3" y="162.29" width="27.6" height="11.62" fill="#ff3000"/>
<rect x="942.3" y="172.91" width="27.6" height="11.62" fill="#ff4000"/>
<rect x="942.3" y="183.52" width="27.6" height="11.62" fill="#ff5000"/>
<rect x="942.3" y="194.14" width="27.6" height="11.62" fill="#ff6000"/>
<rect x="942.3" y="204.76" width="27.6" height="11.62" fill="#ff7000"/>
<rect x="942.3" y="215.38" width="27.6" height="11.62" fill="#ff8000"/>
<rect x="942.3" y="225.99" width="27.6" height="11.62" fill="#ff8f00"/>
<rect x="942.3" y="236.61" width="27.6" height="11.62" fill="#ff9f00"/>
<rect x="942.3" y="247.23" width="27.6" height="11.62" fill="#ffaf00"/>
<rect x="942.3" y="257.84" width="27.6" height="11.62" fill="#ffbf00"/>
<rect x="942.3" y="268.46" width="27.6" height="11.62" fill="#ffcf00"/>
<rect x="942.3" y="279.08" width="27.6" height="11.62" fill="#ffdf00"/>
<rect x="942.3" y="289.7" width="27.6" height="11.62" fill="#ffef00"/>
<rect x="942.3" y="300.31" width="27.6" height="11.62" fill="#ffff00"/>
<rect x="942.3" y="310.93" width="27.6" height="11.62" fill="#efff10"/>
<rect x="942.3" y="321.55" width="27.6" height="11.62" fill="#dfff20"/>
<rect x="942.3" y="332.16" width="27.6" height="11.62" fill="#cfff30"/>
<rect x="942.3" y="342.78" width="27.6" height="11.62" fill="#bfff40"/>
<rect x="942.3" y="353.4" width="27.6" height="11.62" fill="#afff50"/>
<rect x="942.3" y="364.02" width="27.6" height="11.62" fill="#9fff60"/>
<rect x="942.3" y="374.63" width="27.6" height="11.62" fill="#8fff70"/>
<rect x="942.3" y="385.25" width="27.6" height="11.62" fill="#80ff80"/>
<rect x="942.3" y="395.87" width="27.6" height="11.62" fill="#70ff8f"/>
<rect x="942.3" y="406.48" width="27.6" height="11.62" fill="#60ff9f"/>
<rect x="942.3" y="417.1" width="27.6" height="11.62" fill="#50ffaf"/>
<rect x="942.3" y="427.72" width="27.6" height="11.62" fill="#40ffbf"/>
<rect x="942.3" y="438.34" width="27.6" height="11.62" fill="#30ffcf"/>
<rect x="942.3" y="448.95" width="27.6" height="11.62" fill="#20ffdf"/>
<rect x="942.3" y="459.57" width="27.6" height="11.62" fill="#10ffef"/>
<rect x="942.3" y="470.19" width="27.6" height="11.62" fill="#00ffff"/>
<rect x="942.3" y="480.8" width="27.6" height="11.62" fill="#00efff"/>
<rect x="942.3" y="491.42" width="27.6" height="11.62" fill="#00dfff"/>
<rect x="942.3" y="502.04" width="27.6" height="11.62" fill="#00cfff"/>
<rect x="942.3" y="512.66" width="27.6" height="11.62" fill="#00bfff"/>
<rect x="942.3" y="523.27" width="27.6" height="11.62" fill="#00afff"/>
<rect x="942.3" y="533.89" width="27.6" height="11.62" fill="#009fff"/>
<rect x="942.3" y="544.51" width="27.6" height="11.62" fill="#008fff"/>
<rect x="942.3" y="555.12" width="27.6" height="11.62" fill="#0080ff"/>
<rect x="942.3" y="565.74" width="27.6" height="11.62" fill="#0070ff"/>
<rect x="942.3" y="576.36" width="27.6" height="11.62" fill="#0060ff"/>
<rect x="942.3" y="586.98" width="27.6" height="11.62" fill="#0050ff"/>
<rect x="942.3" y="597.59" width="27.6" height="11.62" fill="#0040ff"/>
<rect x="942.3" y="608.21" width="27.6" height="11.62" fill="#0030ff"/>
<rect x="942.3" y="618.83" width="27.6" height="11.62" fill="#0020ff"/>
<rect x="942.3" y="629.45" width="27.6" height="11.62" fill="#0010ff"/>
<rect x="942.3" y="640.06" width="27.6" height="11.62" fill="#0000ff"/>
<rect x="942.3" y="650.68" width="27.6" height="11.62" fill="#0000ef"/>
<rect x="942.3" y="661.3" width="27.6" height="11.62" fill="#0000df"/>
<rect x="942.3" y="671.91" width="27.6" height="11.62" fill="#0000cf"/>
<rect x="942.3" y="682.53" width="27.6" height="11.62" fill="#0000bf"/>
<rect x="942.3" y="693.15" width="27.6" height="11.62" fill="#0000af"/>
<rect x="942.3" y="703.77" width="27.6" height="11.62" fill="#00009f"/>
<rect x="942.3" y="714.38" width="27.6" height="10.62" fill="#00008f"/>
<path class="b" d="M942.3 725V45.5H969.9"/>
<path class="g" style="stroke-opacity:.15" d="M942.3 58.9H969.9M942.3 121H969.9M942.3 181.7H969.9M942.3 242.4H969.9M942.3 304.8H969.9M942.3 366H969.9M942.3 426.3H969.9M942.3 487.8H969.9M942.3 549.2H969.9M942.3 610.4H969.9M942.3 671.4H969.9"/>
<path class="t" d="M948.9 58.3h3.4v1.6h-3.4zM961.6 58.3h3.6v1.6h-3.6zM948.9 120.4h3.4v1.6h-3.4zM961.6 120.4h3.6v1.6h-3.6zM948.9 181.1h3.4v1.6h-3.4zM961.6 181.1h3.6v1.6h-3.6zM948.9 241.8h3.4v1.6h-3.4zM961.6 241.8h3.6v1.6h-3.6zM948.9 304.2h3.4v1.6h-3.4zM961.6 304.2h3.6v1.6h-3.6zM948.9 365.4h3.4v1.6h-3.4zM961.6 365.4h3.6v1.6h-3.6zM948.9 425.7h3.4v1.6h-3.4zM961.6 425.7h3.6v1.6h-3.6zM948.9 487.2h3.4v1.6h-3.4zM961.6 487.2h3.6v1.6h-3.6zM948.9 548.6h3.4v1.6h-3.4zM961.6 548.6h3.6v1.6h-3.6zM948.9 609.8h3.4v1.6h-3.4zM961.6 609.8h3.6v1.6h-3.6zM948.9 670.8h3.4v1.6h-3.4zM961.6 670.8h3.6v1.6h-3.6zM969.6 45.3h3.2v1.5h-3.2zM969.8 725.1h3.4v1.6h-3.4zM942.3 45.3h3.2v1.5h-3.2z"/>
</g>
<g font-size="21.5">
<text x="974" y="65.8">2.9</text>
<text x="974" y="127.9">2.8</text>
<text x="974" y="188.6">2.7</text>
<text x="974" y="249.3">2.6</text>
<text x="974" y="311.7">2.5</text>
<text x="974" y="372.9">2.4</text>
<text x="974" y="433.2">2.3</text>
<text x="974" y="494.7">2.2</text>
<text x="974" y="556.1">2.1</text>
<text x="974" y="617.3">2</text>
<text x="974" y="678.3">1.9</text>
</g>
<g font-size="22" text-anchor="end">
<text x="83" y="80.5">0.85</text>
<text x="81.2" y="169.8">0.80</text>
<text x="83" y="261.2">0.75</text>
<text x="81.2" y="349.2">0.70</text>
<text x="83" y="435.3">0.65</text>
<text x="81.2" y="525.5">0.60</text>
<text x="83" y="612.4">0.55</text>
<text x="81.2" y="700.4">0.50</text>
</g>
<g font-size="21.5" text-anchor="middle">
<text x="161.9" y="757.3">0.3</text>
<text x="331.5" y="754.2">0.4</text>
<text x="501.2" y="757.3">0.5</text>
<text x="667.8" y="757.3">0.6</text>
<text x="832.5" y="757.3">0.7</text>
</g>
<text x="478.6" y="785.4" font-size="23" font-style="italic" textLength="19" lengthAdjust="spacingAndGlyphs">N</text>
<text x="497" y="795.5" font-size="16" font-style="italic">PMi</text>
<g transform="translate(30.6 411) rotate(-90)">
<text transform="translate(-2.2 0) skewX(-10)" font-size="26.5" font-style="italic" stroke="#000" stroke-width="0.4">τ</text>
<text x="7.6" y="9.2" font-size="19.5" font-style="italic">r</text>
<text x="14.4" y="-1.7" font-size="26.6" textLength="11.6" lengthAdjust="spacingAndGlyphs" stroke="#fff" stroke-width="0.45">/</text>
<text transform="translate(22.8 0) skewX(-10)" font-size="26.5" font-style="italic" stroke="#000" stroke-width="0.4">τ</text>
<text x="32" y="9.6" font-size="19.5" font-style="italic">p</text>
</g>
<g font-size="21">
<text x="765" y="34.1" textLength="51" lengthAdjust="spacingAndGlyphs">Force</text>
<text x="822" y="34.1" textLength="69.6" lengthAdjust="spacingAndGlyphs">Density</text>
<text x="900" y="34.1" textLength="50.7" lengthAdjust="spacingAndGlyphs">[N/m</text>
<text x="951.1" y="25.8" font-size="16.5">3</text>
<text x="958.9" y="34.1">]</text>
<text x="969" y="34.1">x</text>
<text x="986.3" y="34.1" textLength="19.5" lengthAdjust="spacingAndGlyphs">10</text>
<text x="1007.7" y="19.3" font-size="15.5">5</text>
</g>
</svg></body></html>
